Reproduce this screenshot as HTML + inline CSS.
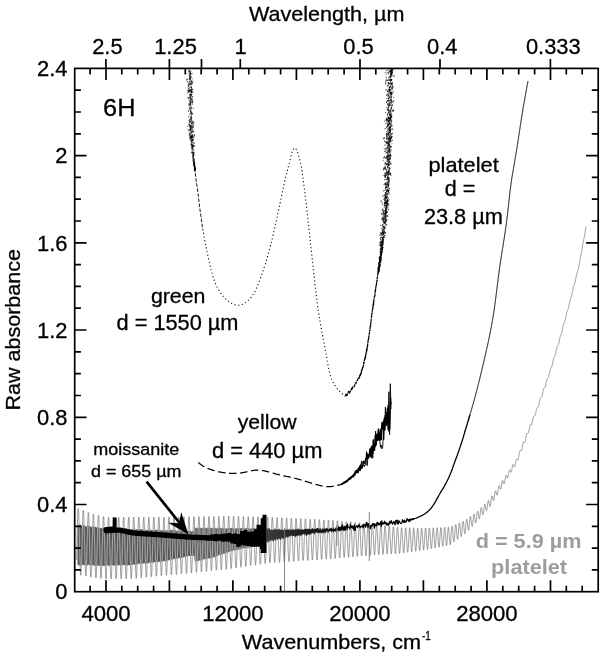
<!DOCTYPE html>
<html lang="en"><head><meta charset="utf-8"><title>6H SiC absorbance</title>
<style>html,body{margin:0;padding:0;background:#fff}svg{display:block}</style></head>
<body>
<svg width="600" height="654" viewBox="0 0 600 654">
<rect width="600" height="654" fill="#fff"/>
<g fill="none" stroke-linejoin="round" stroke-linecap="butt">
<defs><linearGradient id="bg" gradientUnits="userSpaceOnUse" x1="79" y1="0" x2="345" y2="0">
<stop offset="0.0000" stop-color="#6e6e6e"/>
<stop offset="0.4173" stop-color="#6a6a6a"/>
<stop offset="0.4398" stop-color="#7c7c7c"/>
<stop offset="0.6617" stop-color="#747474"/>
<stop offset="0.7105" stop-color="#3c3c3c"/>
<stop offset="0.8308" stop-color="#1e1e1e"/>
<stop offset="1.0000" stop-color="#0c0c0c"/>
</linearGradient></defs>
<path d="M77.5 524.8L78 525.3L78.5 525.2L79 524.4L79.5 524.6L80 525.6L80.5 524.3L81 525.6L81.5 525.7L82 525.2L82.5 525L83 525.1L83.5 525.1L84 525.5L84.5 525.7L85 525.8L85.5 526.6L86 526.4L86.5 526.2L87 526.8L87.5 525.7L88 525.6L88.5 526.4L89 525.6L89.5 525.7L90 526.5L90.5 526.5L91 527.3L91.5 526.9L92 526.8L92.5 526.9L93 526.5L93.5 526.2L94 526.6L94.5 527.5L95 526.8L95.5 527.1L96 526.6L96.5 528L97 527L97.5 527.3L98 528.3L98.5 527.8L99 528.4L99.5 528.1L100 528.4L100.5 527.4L101 528.1L101.5 528.1L102 528.7L102.5 527.9L103 528.3L103.5 527.4L104 528L104.5 527.9L105 527.6L105.5 528.7L106 528L106.5 529L107 528.4L107.5 528.5L108 528.5L108.5 528.6L109 527.8L109.5 528.3L110 528L110.5 528.3L111 527.8L111.5 529.2L112 528L112.5 528.8L113 528.2L113.5 529.1L114 528.8L114.5 528L115 529.2L115.5 529.3L116 529.3L116.5 528.8L117 528.1L117.5 528.2L118 529.4L118.5 528.8L119 528.2L119.5 529.4L120 529L120.5 528.9L121 528.6L121.5 528.7L122 528.5L122.5 528.2L123 529.5L123.5 528.9L124 529L124.5 528.7L125 529.4L125.5 528.3L126 528.8L126.5 528.3L127 528.5L127.5 529.8L128 529.4L128.5 529L129 529.2L129.5 529.8L130 529L130.5 529.4L131 529.5L131.5 529L132 529.3L132.5 529.7L133 530L133.5 528.8L134 530.1L134.5 528.6L135 529.8L135.5 529.9L136 528.9L136.5 529.3L137 530L137.5 528.7L138 529.7L138.5 530L139 529.6L139.5 529.9L140 529.2L140.5 529.1L141 529.4L141.5 529.1L142 529.4L142.5 530.4L143 529.8L143.5 529.5L144 529.4L144.5 530.5L145 529.7L145.5 530.6L146 529.9L146.5 529.9L147 530.5L147.5 530.3L148 530L148.5 529.8L149 530.6L149.5 529.8L150 530.7L150.5 529.3L151 529.9L151.5 530.1L152 530.8L152.5 529.7L153 530.6L153.5 530.4L154 530.4L154.5 530.3L155 530.9L155.5 529.9L156 530L156.5 529.7L157 529.5L157.5 529.7L158 530.9L158.5 530.8L159 529.6L159.5 530.4L160 530.2L160.5 530.4L161 530.5L161.5 530L162 531L162.5 530.3L163 530.5L163.5 530.6L164 529.8L164.5 529.7L165 530.2L165.5 530.8L166 530.9L166.5 530.8L167 529.8L167.5 531.1L168 530.9L168.5 531.1L169 530.5L169.5 531.2L170 529.8L170.5 529.8L171 529.8L171.5 530.1L172 530.1L172.5 530.1L173 530.7L173.5 529.8L174 530.7L174.5 530.1L175 530.9L175.5 529.9L176 530.3L176.5 531.4L177 530.7L177.5 531.2L178 531L178.5 530.9L179 530.2L179.5 530.9L180 530L180.5 531.2L181 531.5L181.5 531.4L182 530.1L182.5 530.6L183 530.5L183.5 530.2L184 531.1L184.5 531.3L185 530.6L185.5 531.5L186 531.4L186.5 530.3L187 531.4L187.5 531.5L188 530.5L188.5 531.1L189 531.2L189.5 531.2L190 530.4L190.5 531.3L191 531.2L191.5 531.5L192 531.5L192.5 530.7L193 531.4L193.5 531.6L194 531.6L194.5 529L195 527.2L195.5 528.2L196 527.6L196.5 528.1L197 528.7L197.5 527.8L198 527.6L198.5 528L199 528.3L199.5 527.4L200 527.9L200.5 527.5L201 528.3L201.5 528.6L202 527.9L202.5 527.9L203 528.1L203.5 527.6L204 527.7L204.5 527.8L205 528L205.5 527.4L206 528.5L206.5 528.2L207 527.8L207.5 527.4L208 528.5L208.5 527.5L209 527.5L209.5 527.5L210 527.5L210.5 528.8L211 527.8L211.5 527.8L212 528.7L212.5 528.3L213 527.7L213.5 528.1L214 528.8L214.5 528L215 528.5L215.5 527.5L216 528.5L216.5 528.6L217 528.7L217.5 528.5L218 528L218.5 527.5L219 528.2L219.5 528.6L220 527.7L220.5 527.8L221 528.3L221.5 528.6L222 528.9L222.5 527.6L223 527.7L223.5 528.7L224 528.5L224.5 528.6L225 529.1L225.5 529L226 528.8L226.5 528.7L227 528.1L227.5 528.5L228 527.8L228.5 528.7L229 528.7L229.5 528.6L230 528.2L230.5 528.1L231 528.2L231.5 527.6L232 528.9L232.5 528.4L233 528.1L233.5 528.4L234 528.7L234.5 528.1L235 528.9L235.5 529L236 528.2L236.5 527.8L237 528.8L237.5 529.1L238 527.8L238.5 528.7L239 528.9L239.5 529L240 527.8L240.5 527.7L241 529.2L241.5 527.8L242 527.9L242.5 528.5L243 528.3L243.5 528.8L244 527.9L244.5 529.1L245 527.9L245.5 528.8L246 527.7L246.5 528.4L247 527.7L247.5 528.1L248 528.1L248.5 528.8L249 528.4L249.5 527.7L250 529.2L250.5 529.1L251 529.1L251.5 528L252 528.3L252.5 528L253 527.9L253.5 527.7L254 528.5L254.5 527.9L255 527.9L255.5 529L256 528.4L256.5 528L257 528.8L257.5 528.1L258 528.5L258.5 528.1L259 528.5L259.5 528.7L260 528.6L260.5 528.4L261 529L261.5 529.2L262 528.1L262.5 528L263 528L263.5 529.4L264 529.4L264.5 528.3L265 529.5L265.5 528.3L266 528.8L266.5 528.8L266.5 541.7L266 542.3L265.5 543L265 543.2L264.5 543.1L264 542.4L263.5 542.5L263 543.9L262.5 542.7L262 543.7L261.5 544L261 544.5L260.5 544.8L260 544.4L259.5 544.1L259 544L258.5 544.9L258 545L257.5 545.4L257 545.7L256.5 544.7L256 545.3L255.5 545.5L255 546.5L254.5 545.5L254 545.6L253.5 546.6L253 545.9L252.5 545.9L252 546.4L251.5 546.3L251 546.9L250.5 546.7L250 547.7L249.5 548.2L249 548.4L248.5 547.3L248 547L247.5 548.3L247 547.5L246.5 548L246 548.8L245.5 547.5L245 547.6L244.5 548.1L244 548L243.5 547.9L243 548.7L242.5 548L242 548L241.5 548.6L241 548.7L240.5 549.4L240 549.3L239.5 549.3L239 548.6L238.5 550.1L238 550.3L237.5 549.8L237 549.3L236.5 550.5L236 549.4L235.5 549.5L235 549.5L234.5 550.9L234 549.7L233.5 550.8L233 550.1L232.5 551L232 551.2L231.5 550.9L231 550.9L230.5 551.6L230 551.5L229.5 551.1L229 552.2L228.5 551.9L228 552.8L227.5 552.8L227 552.1L226.5 552.3L226 553.2L225.5 552.9L225 553.1L224.5 553.9L224 553.4L223.5 553.5L223 553.6L222.5 553.8L222 554.8L221.5 554.8L221 554.8L220.5 555.3L220 554.3L219.5 554.6L219 555.3L218.5 555.3L218 555.6L217.5 555.8L217 556.4L216.5 556L216 556.2L215.5 557.2L215 556.5L214.5 557.5L214 557.7L213.5 557L213 556.8L212.5 558.1L212 558.1L211.5 558L211 557.5L210.5 558.3L210 557.4L209.5 558.8L209 558.5L208.5 558.7L208 558.5L207.5 558.5L207 558.8L206.5 558.1L206 559.1L205.5 559.7L205 558.4L204.5 560L204 559.1L203.5 558.9L203 559L202.5 560.4L202 559.3L201.5 560.3L201 560.9L200.5 559.7L200 560.3L199.5 560.8L199 560.1L198.5 561.4L198 561L197.5 560.9L197 560.5L196.5 560.8L196 561.7L195.5 561.2L195 562.3L194.5 559.2L194 555.4L193.5 556L193 555.5L192.5 555.3L192 556.2L191.5 555.6L191 555.1L190.5 555.6L190 556.1L189.5 555.9L189 556.1L188.5 555.7L188 555.9L187.5 555.8L187 556.3L186.5 556.1L186 556.3L185.5 556.9L185 557.3L184.5 557L184 556.7L183.5 557.9L183 556.6L182.5 558L182 557.3L181.5 558.2L181 557.2L180.5 558.3L180 558.8L179.5 557.9L179 557.6L178.5 558.2L178 558.8L177.5 558.5L177 558.6L176.5 558.2L176 558.1L175.5 559.6L175 559L174.5 558.6L174 558.9L173.5 558.6L173 560.1L172.5 560.1L172 559.1L171.5 559.3L171 559.2L170.5 560.6L170 560.5L169.5 559.5L169 560.3L168.5 560.6L168 560.5L167.5 560.3L167 560.2L166.5 560.5L166 561.2L165.5 561L165 560.4L164.5 561.6L164 561.3L163.5 560.6L163 561.2L162.5 561.4L162 560.9L161.5 561.5L161 561.9L160.5 561.7L160 562L159.5 561.7L159 561.4L158.5 562L158 561.9L157.5 562.6L157 562L156.5 561.3L156 561.5L155.5 561.9L155 561.4L154.5 561.9L154 563L153.5 562.2L153 562.3L152.5 562.9L152 562.1L151.5 561.9L151 563L150.5 562.4L150 562.7L149.5 562L149 563.4L148.5 563.5L148 563.1L147.5 562.3L147 563.5L146.5 563.1L146 563.8L145.5 562.6L145 562.6L144.5 563.4L144 563.5L143.5 563.1L143 564.2L142.5 564L142 563.2L141.5 563.6L141 563L140.5 563.3L140 563.5L139.5 563.5L139 563.3L138.5 563.7L138 563.7L137.5 564.1L137 564.8L136.5 564.2L136 564L135.5 564.7L135 564L134.5 564.8L134 565.3L133.5 563.8L133 564.5L132.5 565L132 565.1L131.5 564.6L131 565.3L130.5 565.2L130 565.4L129.5 564.7L129 565.6L128.5 565L128 565.2L127.5 564.7L127 565.2L126.5 565.5L126 564.7L125.5 564.4L125 565.6L124.5 565.2L124 564.4L123.5 565.1L123 564.5L122.5 565.6L122 564.5L121.5 565.5L121 564.8L120.5 565.9L120 564.8L119.5 564.7L119 565.5L118.5 565.7L118 564.6L117.5 564.8L117 565.7L116.5 564.4L116 565.1L115.5 565.8L115 565.5L114.5 565.9L114 564.9L113.5 566L113 565.2L112.5 565L112 564.8L111.5 564.7L111 564.6L110.5 565.1L110 565.7L109.5 565.9L109 565.2L108.5 565.7L108 565.7L107.5 564.6L107 565.4L106.5 565.1L106 565.6L105.5 566.1L105 565.5L104.5 565.7L104 565.7L103.5 565.6L103 566.2L102.5 566.1L102 566L101.5 564.7L101 565.2L100.5 564.9L100 566.1L99.5 566.2L99 565L98.5 565.9L98 565.6L97.5 565.7L97 564.7L96.5 565.7L96 566L95.5 566.1L95 564.8L94.5 565.9L94 565.2L93.5 565.2L93 565.5L92.5 564.8L92 565.8L91.5 564.9L91 564.8L90.5 565.2L90 564.5L89.5 565.2L89 564.7L88.5 564.7L88 564.5L87.5 566L87 564.9L86.5 564.7L86 564.6L85.5 564.6L85 565.4L84.5 565.1L84 564.6L83.5 565.1L83 565L82.5 564.7L82 564.9L81.5 565.5L81 565.5L80.5 565.3L80 565.3L79.5 565.7L79 565L78.5 565.5L78 564.7L77.5 564.4Z" fill="url(#bg)" stroke="none"/>
<path d="M77.5 524.6L78.1 565L78.8 524.8L79.4 565L80 525L80.6 565.1L81.3 525.2L81.9 565.1L82.5 525.4L83.2 565.1L83.8 525.6L84.4 565.2L85.1 525.7L85.7 565.2L86.3 525.9L86.9 565.2L87.6 526.1L88.2 565.2L88.8 526.3L89.5 565.3L90.1 526.5L90.7 565.3L91.4 526.7L92 565.3L92.6 526.9L93.2 565.4L93.9 527.1L94.5 565.4L95.1 527.3L95.8 565.4L96.4 527.5L97 565.4L97.7 527.6L98.3 565.5L98.9 527.8L99.5 565.5L100.2 528L100.8 565.5L101.4 528.1L102.1 565.5L102.7 528.1L103.3 565.4L104 528.2L104.6 565.4L105.2 528.2L105.8 565.4L106.5 528.3L107.1 565.4L107.7 528.3L108.4 565.4L109 528.4L109.6 565.3L110.3 528.4L110.9 565.3L111.5 528.5L112.1 565.3L112.8 528.5L113.4 565.3L114 528.6L114.7 565.3L115.3 528.6L115.9 565.2L116.6 528.7L117.2 565.2L117.8 528.7L118.4 565.2L119.1 528.8L119.7 565.2L120.3 528.8L121 565.2L121.6 528.9L122.2 565.1L122.9 528.9L123.5 565.1L124.1 529L124.7 565.1L125.4 529L126 565.1L126.6 529.1L127.3 565L127.9 529.1L128.5 565L129.2 529.2L129.8 565L130.4 529.2L131 564.9L131.7 529.3L132.3 564.7L132.9 529.3L133.6 564.6L134.2 529.4L134.8 564.4L135.5 529.4L136.1 564.3L136.7 529.5L137.3 564.2L138 529.5L138.6 564L139.2 529.6L139.9 563.9L140.5 529.6L141.1 563.7L141.8 529.7L142.4 563.6L143 529.7L143.6 563.4L144.3 529.8L144.9 563.3L145.5 529.8L146.2 563.2L146.8 529.9L147.4 563L148.1 529.9L148.7 562.9L149.3 530L149.9 562.7L150.6 530L151.2 562.6L151.8 530L152.5 562.4L153.1 530.1L153.7 562.3L154.4 530.1L155 562.1L155.6 530.1L156.2 562L156.9 530.2L157.5 561.9L158.1 530.2L158.8 561.7L159.4 530.2L160 561.6L160.7 530.3L161.3 561.4L161.9 530.3L162.5 561.3L163.2 530.3L163.8 561.1L164.4 530.4L165.1 561L165.7 530.4L166.3 560.7L167 530.4L167.6 560.5L168.2 530.5L168.8 560.2L169.5 530.5L170.1 560L170.7 530.5L171.4 559.7L172 530.5L172.6 559.5L173.3 530.6L173.9 559.2L174.5 530.6L175.1 559L175.8 530.6L176.4 558.7L177 530.7L177.7 558.5L178.3 530.7L178.9 558.2L179.6 530.7L180.2 558L180.8 530.8L181.4 557.7L182.1 530.8L182.7 557.5L183.3 530.8L184 557.2L184.6 530.9L185.2 557L185.9 530.9L186.5 556.7L187.1 530.9L187.7 556.5L188.4 531L189 556.2L189.6 531L190.3 556L190.9 531L191.5 555.8L192.2 531L192.8 555.7L193.4 531L194 555.5L194.7 528L195.3 561.5L195.9 528L196.6 561.2L197.2 528L197.8 560.9L198.5 528L199.1 560.6L199.7 528L200.3 560.3L201 528.1L201.6 560L202.2 528.1L202.9 559.7L203.5 528.1L204.1 559.4L204.8 528.1L205.4 559.1L206 528.1L206.6 558.7L207.3 528.1L207.9 558.4L208.5 528.1L209.2 558.1L209.8 528.1L210.4 557.8L211.1 528.1L211.7 557.5L212.3 528.2L212.9 557.2L213.6 528.2L214.2 556.9L214.8 528.2L215.5 556.5L216.1 528.2L216.7 556.1L217.4 528.2L218 555.7L218.6 528.2L219.2 555.3L219.9 528.2L220.5 554.9L221.1 528.2L221.8 554.4L222.4 528.2L223 554L223.7 528.2L224.3 553.6L224.9 528.3L225.5 553.2L226.2 528.3L226.8 552.7L227.4 528.3L228.1 552.3L228.7 528.3L229.3 551.9L230 528.3L230.6 551.5L231.2 528.3L231.8 551.1L232.5 528.3L233.1 550.6L233.7 528.3L234.4 550.2L235 528.3L235.6 549.9L236.3 528.3L236.9 549.7L237.5 528.4L238.1 549.5L238.8 528.4L239.4 549.3L240 528.4L240.7 549.1L241.3 528.4L241.9 548.8L242.6 528.4L243.2 548.6L243.8 528.4L244.4 548.4L245.1 528.4L245.7 548.2L246.3 528.4L247 548L247.6 528.4L248.2 547.8L248.9 528.4L249.5 547.6L250.1 528.4L250.7 547.3L251.4 528.4L252 546.9L252.6 528.5L253.3 546.4L253.9 528.5L254.5 546L255.2 528.5L255.8 545.6L256.4 528.5L257 545.2L257.7 528.5L258.3 544.8L258.9 528.5L259.6 544.4L260.2 528.5L260.8 544L261.5 528.6L262.1 543.6L262.7 528.6L263.3 543.2L264 528.7L264.6 542.8L265.2 528.8L265.9 542.4" stroke="#000" stroke-opacity="0.35" stroke-width="0.35"/>
<path d="M76.5 559.9L76.8 550.6L77 540.5L77.2 530.4L77.5 521.4L77.8 514.3L78 509.7L78.2 508.2L78.5 509.9L78.8 514.6L79 521.9L79.2 531.1L79.5 541.3L79.8 551.5L80 560.8L80.2 568.3L80.5 573.2L80.8 575.2L81 574.1L81.2 569.9L81.5 563L81.8 554.3L82 544.4L82.2 534.3L82.5 525.1L82.8 517.5L83 512.4L83.2 510.2L83.5 511.2L83.8 515.2L84 521.9L84.2 530.6L84.5 540.5L84.8 550.6L85 560.1L85.2 568L85.5 573.5L85.8 576.1L86 575.7L86.2 572.2L86.5 566L86.8 557.7L87 548.1L87.2 538.1L87.5 528.7L87.8 520.8L88 515.2L88.2 512.4L88.5 512.7L88.8 516L89 522L89.2 530.2L89.5 539.8L89.8 549.9L90 559.5L90.2 567.6L90.5 573.6L90.8 576.9L91 577.1L91.2 574.2L91.5 568.6L91.8 560.7L92 551.4L92.2 541.5L92.5 532L92.8 523.9L93 517.8L93.2 514.3L93.5 513.9L93.8 516.6L94 522L94.2 529.7L94.5 538.9L94.8 548.8L95 558.5L95.2 566.9L95.5 573.3L95.8 577L96 577.9L96.2 575.6L96.5 570.6L96.8 563.2L97 554.3L97.2 544.6L97.5 535L97.8 526.6L98 520.1L98.2 516.2L98.5 515.2L98.8 517.2L99 522L99.2 529.3L99.5 538.2L99.8 547.9L100 557.5L100.2 566.1L100.5 572.9L100.8 577.1L101 578.5L101.2 576.9L101.5 572.5L101.8 565.6L102 557L102.2 547.4L102.5 537.9L102.8 529.4L103 522.5L103.2 518.1L103.5 516.6L103.8 518L104 522.3L104.2 529L104.5 537.5L104.8 547.1L105 556.6L105.2 565.3L105.5 572.4L105.8 577.1L106 579L106.2 577.9L106.5 573.9L106.8 567.5L107 559.2L107.2 549.8L107.5 540.2L107.8 531.4L108 524.2L108.2 519.2L108.5 517.1L108.8 517.9L109 521.6L109.2 527.9L109.5 536.1L109.8 545.4L110 555L110.2 563.9L110.5 571.3L110.8 576.4L111 578.9L111.2 578.3L111.5 574.8L111.8 568.8L112 560.7L112.2 551.4L112.5 541.8L112.8 532.8L113 525.3L113.2 519.9L113.5 517.2L113.8 517.5L114 520.8L114.2 526.6L114.5 534.6L114.8 543.8L115 553.4L115.2 562.5L115.5 570.2L115.8 575.8L116 578.7L116.2 578.6L116.5 575.6L116.8 569.9L117 562.1L117.2 553L117.5 543.4L117.8 534.2L118 526.3L118.2 520.6L118.5 517.5L118.8 517.3L119 520.1L119.2 525.6L119.5 533.2L119.8 542.3L120 551.9L120.2 561.1L120.5 569.1L120.8 575.1L121 578.4L121.2 578.8L121.5 576.2L121.8 570.9L122 563.4L122.2 554.4L122.5 544.8L122.8 535.5L123 527.4L123.2 521.3L123.5 517.8L123.8 517.1L124 519.5L124.2 524.6L124.5 531.9L124.8 540.9L125 550.5L125.2 559.8L125.5 568L125.8 574.3L126 578.1L126.2 578.9L126.5 576.8L126.8 571.9L127 564.6L127.2 555.8L127.5 546.2L127.8 536.8L128 528.5L128.2 522L128.5 518.1L128.8 517L129 519L129.2 523.7L129.5 530.8L129.8 539.6L130 549.1L130.2 558.6L130.5 567L130.8 573.5L131 577.6L131.2 578.9L131.5 577.1L131.8 572.5L132 565.6L132.2 556.9L132.5 547.4L132.8 537.9L133 529.4L133.2 522.7L133.5 518.4L133.8 517L134 518.5L134.2 522.9L134.5 529.7L134.8 538.2L135 547.6L135.2 557.1L135.5 565.6L135.8 572.4L136 576.8L136.2 578.4L136.5 577L136.8 572.8L137 566.2L137.2 557.7L137.5 548.3L137.8 538.9L138 530.3L138.2 523.3L138.5 518.8L138.8 517L139 518.1L139.2 522.2L139.5 528.6L139.8 536.9L140 546.2L140.2 555.7L140.5 564.3L140.8 571.3L141 576L141.2 577.9L141.5 576.9L141.8 573L142 566.6L142.2 558.4L142.5 549.2L142.8 539.7L143 531L143.2 523.9L143.5 519.1L143.8 517L144 517.8L144.2 521.5L144.5 527.7L144.8 535.8L145 544.9L145.2 554.3L145.5 563L145.8 570.2L146 575.1L146.2 577.3L146.5 576.6L146.8 573.1L147 567L147.2 559L147.5 549.9L147.8 540.5L148 531.8L148.2 524.5L148.5 519.4L148.8 517.1L149 517.6L149.2 521L149.5 526.9L149.8 534.7L150 543.8L150.2 553.1L150.5 561.9L150.8 569.2L151 574.3L151.2 576.8L151.5 576.4L151.8 573.1L152 567.3L152.2 559.5L152.5 550.5L152.8 541.2L153 532.4L153.2 525L153.5 519.8L153.8 517.1L154 517.4L154.2 520.5L154.5 526.1L154.8 533.8L155 542.7L155.2 552L155.5 560.8L155.8 568.2L156 573.5L156.2 576.2L156.5 576.1L156.8 573L157 567.5L157.2 559.9L157.5 551L157.8 541.8L158 533L158.2 525.5L158.5 520.1L158.8 517.2L159 517.2L159.2 520.1L159.5 525.5L159.8 533L160 541.7L160.2 551L160.5 559.7L160.8 567.2L161 572.7L161.2 575.6L161.5 575.7L161.8 572.9L162 567.6L162.2 560.2L162.5 551.5L162.8 542.2L163 533.4L163.2 525.9L163.5 520.3L163.8 517.3L164 517.1L164.2 519.7L164.5 524.9L164.8 532.2L165 540.9L165.2 550L165.5 558.8L165.8 566.4L166 572L166.2 575L166.5 575.3L166.8 572.7L167 567.6L167.2 560.4L167.5 551.8L167.8 542.6L168 533.8L168.2 526.2L168.5 520.6L168.8 517.4L169 517L169.2 519.4L169.5 524.5L169.8 531.6L170 540.1L170.2 549.2L170.5 558L170.8 565.6L171 571.2L171.2 574.5L171.5 574.9L171.8 572.5L172 567.5L172.2 560.5L172.5 552L172.8 542.9L173 534.1L173.2 526.5L173.5 520.8L173.8 517.5L174 516.9L174.2 519.2L174.5 524.1L174.8 531L175 539.4L175.2 548.4L175.5 557.2L175.8 564.8L176 570.6L176.2 573.9L176.5 574.5L176.8 572.2L177 567.4L177.2 560.5L177.5 552.1L177.8 543.1L178 534.4L178.2 526.7L178.5 520.9L178.8 517.5L179 516.9L179.2 519L179.5 523.7L179.8 530.6L180 538.9L180.2 547.8L180.5 556.5L180.8 564.1L181 569.9L181.2 573.3L181.5 574L181.8 571.9L182 567.2L182.2 560.4L182.5 552.1L182.8 543.2L183 534.5L183.2 526.8L183.5 521L183.8 517.5L184 516.8L184.2 518.8L184.5 523.4L184.8 530.1L185 538.3L185.2 547.2L185.5 555.8L185.8 563.5L186 569.3L186.2 572.7L186.5 573.5L186.8 571.5L187 566.9L187.2 560.2L187.5 552L187.8 543.2L188 534.5L188.2 526.9L188.5 521L188.8 517.5L189 516.7L189.2 518.6L189.5 523.1L189.8 529.8L190 537.9L190.2 546.7L190.5 555.3L190.8 562.9L191 568.7L191.2 572.2L191.5 573L191.8 571.1L192 566.6L192.2 559.9L192.5 551.8L192.8 543L193 534.4L193.2 526.8L193.5 521L193.8 517.5L194 516.6L194.2 518.5L194.5 522.9L194.8 529.5L195 537.5L195.2 546.2L195.5 554.8L195.8 562.3L196 568.1L196.2 571.6L196.5 572.5L196.8 570.6L197 566.1L197.2 559.6L197.5 551.6L197.8 542.8L198 534.3L198.2 526.7L198.5 520.9L198.8 517.4L199 516.5L199.2 518.4L199.5 522.8L199.8 529.3L200 537.2L200.2 545.9L200.5 554.4L200.8 561.9L201 567.6L201.2 571.1L201.5 571.9L201.8 570.1L202 565.6L202.2 559.1L202.5 551.1L202.8 542.5L203 534L203.2 526.5L203.5 520.7L203.8 517.3L204 516.4L204.2 518.3L204.5 522.8L204.8 529.3L205 537.2L205.2 545.9L205.5 554.3L205.8 561.7L206 567.4L206.2 570.7L206.5 571.4L206.8 569.4L207 564.9L207.2 558.3L207.5 550.3L207.8 541.6L208 533.2L208.2 525.9L208.5 520.3L208.8 517L209 516.4L209.2 518.5L209.5 523.1L209.8 529.8L210 537.8L210.2 546.4L210.5 554.7L210.8 561.9L211 567.3L211.2 570.4L211.5 570.8L211.8 568.5L212 563.7L212.2 557L212.5 548.9L212.8 540.3L213 532L213.2 524.9L213.5 519.6L213.8 516.7L214 516.5L214.2 518.9L214.5 523.8L214.8 530.7L215 538.8L215.2 547.4L215.5 555.5L215.8 562.5L216 567.5L216.2 570.1L216.5 570.1L216.8 567.3L217 562.2L217.2 555.2L217.5 547L217.8 538.4L218 530.4L218.2 523.6L218.5 518.7L218.8 516.4L219 516.7L219.2 519.6L219.5 525L219.8 532.1L220 540.3L220.2 548.8L220.5 556.8L220.8 563.3L221 567.8L221.2 569.8L221.5 569.2L221.8 565.9L222 560.3L222.2 552.9L222.5 544.6L222.8 536.1L223 528.3L223.2 522L223.5 517.8L223.8 516.1L224 517.1L224.2 520.7L224.5 526.5L224.8 534L225 542.4L225.2 550.7L225.5 558.3L225.8 564.3L226 568.1L226.2 569.4L226.5 568L226.8 564L227 557.8L227.2 550.2L227.5 541.7L227.8 533.4L228 526L228.2 520.3L228.5 516.9L228.8 516.1L229 517.9L229.2 522.3L229.5 528.7L229.8 536.5L230 544.9L230.2 553L230.5 560.1L230.8 565.4L231 568.3L231.2 568.6L231.5 566.3L231.8 561.5L232 554.8L232.2 546.8L232.5 538.4L232.8 530.4L233 523.7L233.2 518.8L233.5 516.3L233.8 516.5L234 519.3L234.2 524.5L234.5 531.4L234.8 539.4L235 547.7L235.2 555.5L235.5 561.8L235.8 566.2L236 568L236.2 567.3L236.5 563.9L236.8 558.4L237 551.1L237.2 543L237.5 534.8L237.8 527.3L238 521.4L238.2 517.5L238.5 516.2L238.8 517.5L239 521.4L239.2 527.3L239.5 534.7L239.8 542.9L240 550.9L240.2 558L240.5 563.4L240.8 566.6L241 567.3L241.2 565.3L241.5 560.9L241.8 554.6L242 546.9L242.2 538.8L242.5 530.9L242.8 524.2L243 519.3L243.2 516.7L243.5 516.7L243.8 519.2L244 524.1L244.2 530.8L244.5 538.5L244.8 546.6L245 554.2L245.2 560.4L245.5 564.7L245.8 566.6L246 565.8L246.2 562.6L246.5 557.2L246.8 550.2L247 542.2L247.2 534.2L247.5 527L247.8 521.3L248 517.6L248.2 516.5L248.5 517.9L248.8 521.7L249 527.6L249.2 534.9L249.5 542.8L249.8 550.6L250 557.4L250.2 562.5L250.5 565.4L250.8 565.7L251 563.6L251.2 559.1L251.5 552.7L251.8 545.1L252 537.2L252.2 529.7L252.5 523.3L252.8 518.9L253 516.7L253.2 517.1L253.5 520L253.8 525.1L254 531.8L254.2 539.5L254.5 547.3L254.8 554.5L255 560.2L255.2 563.9L255.5 565.2L255.8 563.9L256 560.3L256.2 554.6L256.5 547.5L256.8 539.7L257 532L257.2 525.3L257.5 520.2L257.8 517.3L258 516.8L258.2 518.9L258.5 523.2L258.8 529.4L259 536.8L259.2 544.5L259.5 551.9L259.8 558L260 562.3L260.2 564.3L260.5 563.8L260.8 560.9L261 555.9L261.2 549.2L261.5 541.6L261.8 533.9L262 527L262.2 521.5L262.5 517.9L262.8 516.8L263 518.2L263.2 521.9L263.5 527.6L263.8 534.6L264 542.2L264.2 549.6L264.5 556L264.8 560.8L265 563.3L265.2 563.5L265.5 561.2L265.8 556.6L266 550.4L266.2 543.1L266.5 535.5L266.8 528.4L267 522.6L267.2 518.6L267.5 517L267.8 517.8L268 521L268.2 526.2L268.5 532.9L268.8 540.3L269 547.7L269.2 554.3L269.5 559.4L269.8 562.3L270 562.9L270.2 561.1L270.5 557L270.8 551.1L271 544.1L271.2 536.6L271.5 529.5L271.8 523.5L272 519.2L272.2 517.2L272.5 517.7L272.8 520.5L273 525.4L273.2 531.8L273.5 539.1L273.8 546.5L274 553.2L274.2 558.5L274.5 561.7L274.8 562.7L275 561.2L275.2 557.4L275.5 551.7L275.8 544.8L276 537.4L276.2 530.3L276.5 524.2L276.8 519.8L277 517.6L277.2 517.8L277.5 520.3L277.8 525L278 531.3L278.2 538.5L278.5 545.8L278.8 552.5L279 557.9L279.2 561.3L279.5 562.4L279.8 561L280 557.4L280.2 552L280.5 545.2L280.8 537.8L281 530.7L281.2 524.6L281.5 520.2L281.8 517.9L282 517.9L282.2 520.4L282.5 524.9L282.8 531.1L283 538.2L283.2 545.5L283.5 552.2L283.8 557.5L284 560.9L284.2 562L284.5 560.8L284.8 557.2L285 551.8L285.2 545.1L285.5 537.8L285.8 530.8L286 524.8L286.2 520.4L286.5 518.1L286.8 518.2L287 520.6L287.2 525.2L287.5 531.3L287.8 538.4L288 545.6L288.2 552.2L288.5 557.4L288.8 560.7L289 561.7L289.2 560.4L289.5 556.8L289.8 551.3L290 544.6L290.2 537.4L290.5 530.5L290.8 524.6L291 520.3L291.2 518.2L291.5 518.5L291.8 521.1L292 525.8L292.2 531.9L292.5 539L292.8 546.1L293 552.5L293.2 557.5L293.5 560.6L293.8 561.4L294 559.8L294.2 556L294.5 550.5L294.8 543.8L295 536.6L295.2 529.8L295.5 524.1L295.8 520.2L296 518.4L296.2 518.9L296.5 521.8L296.8 526.6L297 532.9L297.2 539.9L297.5 546.9L297.8 553.1L298 557.8L298.2 560.6L298.5 561L298.8 559.1L299 555L299.2 549.3L299.5 542.5L299.8 535.4L300 528.8L300.2 523.5L300.5 519.9L300.8 518.5L301 519.5L301.2 522.8L301.5 527.9L301.8 534.3L302 541.3L302.2 548.2L302.5 554L302.8 558.3L303 560.5L303.2 560.4L303.5 558L303.8 553.6L304 547.6L304.2 540.7L304.5 533.7L304.8 527.4L305 522.5L305.2 519.5L305.5 518.8L305.8 520.5L306 524.2L306.2 529.8L306.5 536.4L306.8 543.4L307 550L307.2 555.4L307.5 559L307.8 560.5L308 559.6L308.2 556.4L308.5 551.4L308.8 545L309 538.1L309.2 531.3L309.5 525.5L309.8 521.3L310 519.2L310.2 519.4L310.5 521.9L310.8 526.4L311 532.5L311.2 539.3L311.5 546.2L311.8 552.3L312 556.9L312.2 559.6L312.5 560L312.8 558.1L313 554.1L313.2 548.4L313.5 541.7L313.8 534.8L314 528.5L314.2 523.4L314.5 520.2L314.8 519.2L315 520.6L315.2 524.2L315.5 529.5L315.8 536L316 542.9L316.2 549.4L316.5 554.8L316.8 558.4L317 559.8L317.2 558.9L317.5 555.8L317.8 550.8L318 544.5L318.2 537.7L318.5 531L318.8 525.4L319 521.4L319.2 519.6L319.5 520L319.8 522.8L320 527.5L320.2 533.6L320.5 540.4L320.8 547.1L321 552.9L321.2 557.1L321.5 559.3L321.8 559.2L322 556.8L322.2 552.4L322.5 546.4L322.8 539.7L323 533L323.2 527L323.5 522.6L323.8 520.1L324 519.9L324.2 522L324.5 526.2L324.8 532L325 538.6L325.2 545.4L325.5 551.4L325.8 556L326 558.7L326.2 559.1L326.5 557.2L326.8 553.2L327 547.6L327.2 541L327.5 534.3L327.8 528.2L328 523.4L328.2 520.6L328.5 520L328.8 521.7L329 525.6L329.2 531.1L329.5 537.6L329.8 544.4L330 550.5L330.2 555.3L330.5 558.2L330.8 558.9L331 557.2L331.2 553.5L331.5 548L331.8 541.6L332 534.9L332.2 528.8L332.5 523.9L332.8 521L333 520.3L333.2 521.9L333.5 525.6L333.8 531L334 537.4L334.2 544.1L334.5 550.1L334.8 554.9L335 557.8L335.2 558.5L335.5 556.9L335.8 553.1L336 547.8L336.2 541.4L336.5 534.8L336.8 528.8L337 524.1L337.2 521.3L337.5 520.7L337.8 522.4L338 526.2L338.2 531.6L338.5 538L338.8 544.5L339 550.4L339.2 554.9L339.5 557.6L339.8 558L340 556.2L340.2 552.3L340.5 546.9L340.8 540.5L341 534.1L341.2 528.3L341.5 523.9L341.8 521.5L342 521.2L342.2 523.3L342.5 527.3L342.8 532.8L343 539.2L343.2 545.5L343.5 551.1L343.8 555.3L344 557.5L344.2 557.4L344.5 555.2L344.8 551L345 545.3L345.2 539L345.5 532.7L345.8 527.3L346 523.5L346.2 521.6L346.5 521.9L346.8 524.5L347 528.9L347.2 534.7L347.5 541L347.8 547.1L348 552.3L348.2 555.8L348.5 557.3L348.8 556.6L349 553.7L349.2 549L349.5 543.2L349.8 536.9L350 530.9L350.2 526L350.5 522.9L350.8 521.8L351 523L351.2 526.3L351.5 531.2L351.8 537.2L352 543.4L352.2 549.2L352.5 553.6L352.8 556.3L353 556.9L353.2 555.2L353.5 551.6L353.8 546.4L354 540.3L354.2 534.2L354.5 528.7L354.8 524.7L355 522.5L355.2 522.5L355.5 524.7L355.8 528.8L356 534.2L356.2 540.3L356.5 546.3L356.8 551.4L357 554.9L357.2 556.5L357.5 555.9L357.8 553.2L358 548.7L358.2 543L358.5 536.9L358.8 531.2L359 526.5L359.2 523.5L359.5 522.6L359.8 523.9L360 527.2L360.2 532.1L360.5 537.9L360.8 543.9L361 549.3L361.2 553.5L361.5 555.8L361.8 556L362 554L362.2 550.2L362.5 545L362.8 539L363 533.2L363.2 528.2L363.5 524.6L363.8 523.1L364 523.6L364.2 526.3L364.5 530.7L364.8 536.2L365 542.1L365.2 547.7L365.5 552.2L365.8 555L366 555.8L366.2 554.4L366.5 551.1L366.8 546.2L367 540.5L367.2 534.6L367.5 529.4L367.8 525.6L368 523.6L368.2 523.7L368.5 525.9L368.8 529.9L369 535.2L369.2 541L369.5 546.6L369.8 551.2L370 554.3L370.2 555.4L370.5 554.4L370.8 551.4L371 546.8L371.2 541.2L371.5 535.5L371.8 530.3L372 526.3L372.2 524.1L372.5 524L372.8 525.9L373 529.7L373.2 534.8L373.5 540.5L373.8 546L374 550.7L374.2 553.8L374.5 555L374.8 554.1L375 551.3L375.2 546.8L375.5 541.4L375.8 535.8L376 530.6L376.2 526.7L376.5 524.6L376.8 524.4L377 526.4L377.2 530.1L377.5 535.1L377.8 540.7L378 546.1L378.2 550.6L378.5 553.7L378.8 554.8L379 553.8L379.2 550.9L379.5 546.5L379.8 541.2L380 535.7L380.2 530.7L380.5 527L380.8 525L381 525.1L381.2 527.2L381.5 531L381.8 536L382 541.5L382.2 546.7L382.5 551L382.8 553.7L383 554.5L383.2 553.3L383.5 550.2L383.8 545.7L384 540.4L384.2 535L384.5 530.4L384.8 527L385 525.5L385.2 525.9L385.5 528.3L385.8 532.3L386 537.4L386.2 542.8L386.5 547.7L386.8 551.6L387 553.8L387.2 554.1L387.5 552.5L387.8 549L388 544.4L388.2 539.1L388.5 534L388.8 529.7L389 526.9L389.2 526L389.5 527L389.8 529.9L390 534.2L390.2 539.3L390.5 544.5L390.8 549.1L391 552.4L391.2 553.9L391.5 553.5L391.8 551.3L392 547.4L392.2 542.6L392.5 537.4L392.8 532.6L393 529L393.2 526.9L393.5 526.7L393.8 528.5L394 531.9L394.2 536.5L394.5 541.6L394.8 546.5L395 550.5L395.2 553.1L395.5 553.8L395.8 552.5L396 549.6L396.2 545.3L396.5 540.3L396.8 535.4L397 531.2L397.2 528.3L397.5 527.2L397.8 527.9L398 530.5L398.2 534.5L398.5 539.3L398.8 544.3L399 548.7L399.2 551.9L399.5 553.4L399.8 553.1L400 550.9L400.2 547.2L400.5 542.6L400.8 537.6L401 533.1L401.2 529.6L401.5 527.8L401.8 527.8L402 529.6L402.2 533L402.5 537.5L402.8 542.3L403 546.9L403.2 550.5L403.5 552.6L403.8 552.9L404 551.3L404.2 548.1L404.5 543.8L404.8 538.9L405 534.3L405.2 530.5L405.5 528.2L405.8 527.7L406 529L406.2 531.9L406.5 536.1L406.8 540.9L407 545.5L407.2 549.3L407.5 551.7L407.8 552.4L408 551.2L408.2 548.4L408.5 544.3L408.8 539.6L409 534.9L409.2 531L409.5 528.5L409.8 527.7L410 528.7L410.2 531.5L410.5 535.4L410.8 540.1L411 544.7L411.2 548.5L411.5 551L411.8 551.9L412 550.8L412.2 548.1L412.5 544.2L412.8 539.6L413 535L413.2 531.1L413.5 528.6L413.8 527.8L414 528.8L414.2 531.4L414.5 535.3L414.8 539.9L415 544.4L415.2 548.1L415.5 550.6L415.8 551.3L416 550.2L416.2 547.5L416.5 543.5L416.8 539L417 534.5L417.2 530.8L417.5 528.5L417.8 527.9L418 529L418.2 531.8L418.5 535.8L418.8 540.3L419 544.6L419.2 548.1L419.5 550.3L419.8 550.7L420 549.3L420.2 546.4L420.5 542.3L420.8 537.8L421 533.6L421.2 530.2L421.5 528.3L421.8 528.1L422 529.6L422.2 532.7L422.5 536.7L422.8 541.2L423 545.3L423.2 548.4L423.5 550L423.8 549.9L424 548.1L424.2 544.8L424.5 540.6L424.8 536.2L425 532.2L425.2 529.4L425.5 528L425.8 528.5L426 530.5L426.2 534L426.5 538.2L426.8 542.5L427 546.1L427.2 548.6L427.5 549.5L427.8 548.6L428 546.2L428.2 542.5L428.5 538.2L428.8 534L429 530.5L429.2 528.4L429.5 527.9L429.8 529.1L430 531.9L430.2 535.7L430.5 539.9L430.8 543.9L431 546.9L431.2 548.5L431.5 548.5L431.8 546.7L432 543.6L432.2 539.5L432.5 535.3L432.8 531.5L433 528.8L433.2 527.7L433.5 528.3L433.8 530.4L434 533.8L434.2 537.9L434.5 542L434.8 545.3L435 547.4L435.2 547.9L435.5 546.7L435.8 544L436 540.3L436.2 536.1L436.5 532.2L436.8 529.2L437 527.7L437.2 527.8L437.5 529.5L437.8 532.6L438 536.5L438.2 540.5L438.5 544L438.8 546.4L439 547.2L439.2 546.4L439.5 544L439.8 540.5L440 536.4L440.2 532.5L440.5 529.4L440.8 527.7L441 527.5L441.2 529L441.5 531.8L441.8 535.6L442 539.5L442.2 543L442.5 545.5L442.8 546.4L443 545.7L443.2 543.5L443.5 540.2L443.8 536.2L444 532.4L444.2 529.3L444.5 527.5L444.8 527.3L445 528.8L445.2 531.5L445.5 535.2L445.8 539L446 542.4L446.2 544.8L446.5 545.7L446.8 545L447 542.7L447.2 539.4L447.5 535.5L447.8 531.8L448 528.9L448.2 527.3L448.5 527.2L448.8 528.8L449 531.6L449.2 535.2L449.5 539L449.8 542.2L450 544.3L450.2 544.8L450.5 543.7L450.8 541.2L451 537.7L451.2 533.8L451.5 530.3L451.8 527.5L452 526.2L452.2 526.3L452.5 528L452.8 530.8L453 534.2L453.2 537.5L453.5 540.3L453.8 541.8L454 541.9L454.2 540.6L454.5 537.9L454.8 534.5L455 530.8L455.2 527.6L455.5 525.3L455.8 524.4L456 524.9L456.2 526.8L456.5 529.6L456.8 532.9L457 535.9L457.2 538.2L457.5 539.3L457.8 538.9L458 537.3L458.2 534.5L458.5 531.2L458.8 527.8L459 525L459.2 523.2L459.5 522.8L459.8 523.7L460 525.7L460.2 528.6L460.5 531.6L460.8 534.2L461 536L461.2 536.6L461.5 535.8L461.8 533.8L462 531L462.2 527.8L462.5 524.8L462.8 522.5L463 521.2L463.2 521.3L463.5 522.6L463.8 524.8L464 527.5L464.2 530.2L464.5 532.4L464.8 533.7L465 533.7L465.2 532.4L465.5 530.2L465.8 527.3L466 524.2L466.2 521.6L466.5 519.7L466.8 519L467 519.5L467.2 521L467.5 523.2L467.8 525.8L468 528L468.2 529.6L468.5 530.2L468.8 529.6L469 528L469.2 525.6L469.5 522.8L469.8 520.1L470 517.9L470.2 516.7L470.5 516.5L470.8 517.4L471 519.2L471.2 521.4L471.5 523.6L471.8 525.4L472 526.4L472.2 526.4L472.5 525.4L472.8 523.5L473 521L473.2 518.4L473.5 516.1L473.8 514.5L474 513.9L474.2 514.3L474.5 515.5L474.8 517.4L475 519.4L475.2 521.3L475.5 522.5L475.8 522.9L476 522.4L476.2 520.9L476.5 518.8L476.8 516.4L477 514.1L477.2 512.3L477.5 511.3L477.8 511.1L478 511.9L478.2 513.3L478.5 515.1L478.8 516.9L479 518.3L479.2 518.9L479.5 518.7L479.8 517.6L480 515.7L480.2 513.5L480.5 511.2L480.8 509.2L481 507.9L481.2 507.5L481.5 507.9L481.8 509L482 510.7L482.2 512.4L482.5 513.8L482.8 514.7L483 514.7L483.2 514L483.5 512.4L483.8 510.4L484 508.1L484.2 506.1L484.5 504.7L484.8 504L485 504.1L485.2 505L485.5 506.4L485.8 508L486 509.5L486.2 510.4L486.5 510.7L486.8 510.2L487 508.9L487.2 507L487.5 504.9L487.8 502.9L488 501.4L488.2 500.5L488.5 500.4L488.8 501L489 502.2L489.2 503.7L489.5 505.2L489.8 506.2L490 506.6L490.2 506.2L490.5 505L490.8 503.2L491 501.1L491.2 499.1L491.5 497.4L491.8 496.2L492 495.9L492.2 496.2L492.5 497.1L492.8 498.4L493 499.6L493.2 500.5L493.5 500.9L493.8 500.6L494 499.6L494.2 497.9L494.5 496L494.8 494L495 492.4L495.2 491.2L495.5 490.7L495.8 490.9L496 491.7L496.2 492.8L496.5 493.9L496.8 494.8L497 495.2L497.2 495L497.5 494.1L497.8 492.6L498 490.8L498.2 488.9L498.5 487.3L498.8 486.1L499 485.6L499.2 485.7L499.5 486.3L499.8 487.3L500 488.3L500.2 489.1L500.5 489.5L500.8 489.3L501 488.5L501.2 487.1L501.5 485.5L501.8 483.7L502 482.1L502.2 481L502.5 480.4L502.8 480.5L503 481L503.2 481.9L503.5 482.8L503.8 483.5L504 483.9L504.2 483.6L504.5 482.9L504.8 481.6L505 480L505.2 478.3L505.5 476.8L505.8 475.7L506 475.1L506.2 475.1L506.5 475.6L506.8 476.4L507 477.2L507.2 477.9L507.5 478.1L507.8 477.9L508 477.1L508.2 475.9L508.5 474.4L508.8 472.8L509 471.4L509.2 470.3L509.5 469.8L509.8 469.8L510 470.2L510.2 470.9L510.5 471.7L510.8 472.2L511 472.4L511.2 472.1L511.5 471.3L511.8 470.1L512 468.7L512.2 467.2L512.5 465.9L512.8 464.9L513 464.5L513.2 464.5L513.5 464.9L513.8 465.5L514 466.2L514.2 466.6L514.5 466.7L514.8 466.4L515 465.6L515.2 464.4L515.5 463L515.8 461.6L516 460.4L516.2 459.6L516.5 459.2L516.8 459.1L517 459.3L517.2 459.6L517.5 459.9L517.8 460.1L518 459.8L518.2 459.1L518.5 458.1L518.8 456.6L519 455.1L519.2 453.5L519.5 452.2L519.8 451.2L520 450.7L520.2 450.5L520.5 450.7L520.8 451L521 451.2L521.2 451.2L521.5 450.8L521.8 450.1L522 448.9L522.2 447.5L522.5 446L522.8 444.5L523 443.3L523.2 442.5L523.5 442L523.8 441.9L524 442L524.2 442.3L524.5 442.4L524.8 442.2L525 441.8L525.2 440.9L525.5 439.7L525.8 438.3L526 436.8L526.2 435.5L526.5 434.4L526.8 433.7L527 433.3L527.2 433.3L527.5 433.4L527.8 433.5L528 433.5L528.2 433.2L528.5 432.6L528.8 431.7L529 430.4L529.2 429L529.5 427.7L529.8 426.5L530 425.5L530.2 424.9L530.5 424.7L530.8 424.6L531 424.7L531.2 424.8L531.5 424.6L531.8 424.2L532 423.5L532.2 422.4L532.5 421.2L532.8 419.8L533 418.6L533.2 417.5L533.5 416.7L533.8 416.2L534 416L534.2 416L534.5 416L534.8 415.9L535 415.7L535.2 415.1L535.5 414.2L535.8 413.1L536 411.9L536.2 410.6L536.5 409.5L536.8 408.6L537 407.8L537.2 407.4L537.5 407.2L537.8 407L538 406.9L538.2 406.6L538.5 406.1L538.8 405.3L539 404.3L539.2 403.1L539.5 401.8L539.8 400.6L540 399.5L540.2 398.6L540.5 398L540.8 397.7L541 397.5L541.2 397.3L541.5 397.1L541.8 396.6L542 396L542.2 395.1L542.5 394L542.8 392.8L543 391.5L543.2 390.4L543.5 389.4L543.8 388.7L544 388.2L544.2 388L544.5 387.8L544.8 387.5L545 387.2L545.2 386.7L545.5 385.9L545.8 384.8L546 383.7L546.2 382.4L546.5 381.3L546.8 380.2L547 379.4L547.2 378.8L547.5 378.5L547.8 378.3L548 378L548.2 377.8L548.5 377.3L548.8 376.6L549 375.6L549.2 374.4L549.5 373.1L549.8 371.8L550 370.6L550.2 369.6L550.5 368.8L550.8 368.3L551 367.9L551.2 367.5L551.5 367.2L551.8 366.6L552 365.9L552.2 364.9L552.5 363.7L552.8 362.5L553 361.1L553.2 359.9L553.5 358.9L553.8 358L554 357.4L554.2 357L554.5 356.6L554.8 356.2L555 355.7L555.2 355L555.5 354.1L555.8 353L556 351.8L556.2 350.5L556.5 349.2L556.8 348.2L557 347.3L557.2 346.6L557.5 346.1L557.8 345.7L558 345.3L558.2 344.8L558.5 344.2L558.8 343.3L559 342.3L559.2 341.1L559.5 339.8L559.8 338.5L560 337.3L560.2 336.3L560.5 335.5L560.8 334.8L561 334.3L561.2 333.8L561.5 333.3L561.8 332.6L562 331.7L562.2 330.6L562.5 329.3L562.8 328L563 326.6L563.2 325.4L563.5 324.4L563.8 323.5L564 322.9L564.2 322.3L564.5 321.8L564.8 321.3L565 320.6L565.2 319.7L565.5 318.6L565.8 317.4L566 316.1L566.2 314.7L566.5 313.5L566.8 312.5L567 311.6L567.2 310.9L567.5 310.4L567.8 309.8L568 309.3L568.2 308.6L568.5 307.7L568.8 306.6L569 305.4L569.2 304.1L569.5 302.8L569.8 301.6L570 300.6L570.2 299.6L570.5 298.9L570.8 298.2L571 297.6L571.2 296.9L571.5 296.2L571.8 295.2L572 294.1L572.2 292.9L572.5 291.5L572.8 290.2L573 288.9L573.2 287.7L573.5 286.8L573.8 286L574 285.3L574.2 284.7L574.5 284L574.8 283.2L575 282.3L575.2 281.2L575.5 279.9L575.8 278.6L576 277.3L576.2 276L576.5 274.9L576.8 273.9L577 273.2L577.2 272.5L577.5 271.8L577.8 271.1L578 270.3L578.2 269.4L578.5 268.3L578.8 267L579 265.7L579.2 264L579.5 262.4L579.8 260.9L580 259.5L580.2 258.4L580.5 257.3L580.8 256.2L581 255.1L581.2 253.9L581.5 252.5L581.8 251L582 249.4L582.2 247.7L582.5 246L582.8 244.4L583 242.9L583.2 241.6L583.5 240.5L583.8 239.4L584 238.3L584.2 237.1L584.5 235.9L584.8 234.5L585 233L585.2 231.3L585.5 229.7L585.8 228L586 226.5" stroke="#6c6c6c" stroke-width="0.66"/>
<clipPath id="bc"><path d="M77.5 524.8L78 525.3L78.5 525.2L79 524.4L79.5 524.6L80 525.6L80.5 524.3L81 525.6L81.5 525.7L82 525.2L82.5 525L83 525.1L83.5 525.1L84 525.5L84.5 525.7L85 525.8L85.5 526.6L86 526.4L86.5 526.2L87 526.8L87.5 525.7L88 525.6L88.5 526.4L89 525.6L89.5 525.7L90 526.5L90.5 526.5L91 527.3L91.5 526.9L92 526.8L92.5 526.9L93 526.5L93.5 526.2L94 526.6L94.5 527.5L95 526.8L95.5 527.1L96 526.6L96.5 528L97 527L97.5 527.3L98 528.3L98.5 527.8L99 528.4L99.5 528.1L100 528.4L100.5 527.4L101 528.1L101.5 528.1L102 528.7L102.5 527.9L103 528.3L103.5 527.4L104 528L104.5 527.9L105 527.6L105.5 528.7L106 528L106.5 529L107 528.4L107.5 528.5L108 528.5L108.5 528.6L109 527.8L109.5 528.3L110 528L110.5 528.3L111 527.8L111.5 529.2L112 528L112.5 528.8L113 528.2L113.5 529.1L114 528.8L114.5 528L115 529.2L115.5 529.3L116 529.3L116.5 528.8L117 528.1L117.5 528.2L118 529.4L118.5 528.8L119 528.2L119.5 529.4L120 529L120.5 528.9L121 528.6L121.5 528.7L122 528.5L122.5 528.2L123 529.5L123.5 528.9L124 529L124.5 528.7L125 529.4L125.5 528.3L126 528.8L126.5 528.3L127 528.5L127.5 529.8L128 529.4L128.5 529L129 529.2L129.5 529.8L130 529L130.5 529.4L131 529.5L131.5 529L132 529.3L132.5 529.7L133 530L133.5 528.8L134 530.1L134.5 528.6L135 529.8L135.5 529.9L136 528.9L136.5 529.3L137 530L137.5 528.7L138 529.7L138.5 530L139 529.6L139.5 529.9L140 529.2L140.5 529.1L141 529.4L141.5 529.1L142 529.4L142.5 530.4L143 529.8L143.5 529.5L144 529.4L144.5 530.5L145 529.7L145.5 530.6L146 529.9L146.5 529.9L147 530.5L147.5 530.3L148 530L148.5 529.8L149 530.6L149.5 529.8L150 530.7L150.5 529.3L151 529.9L151.5 530.1L152 530.8L152.5 529.7L153 530.6L153.5 530.4L154 530.4L154.5 530.3L155 530.9L155.5 529.9L156 530L156.5 529.7L157 529.5L157.5 529.7L158 530.9L158.5 530.8L159 529.6L159.5 530.4L160 530.2L160.5 530.4L161 530.5L161.5 530L162 531L162.5 530.3L163 530.5L163.5 530.6L164 529.8L164.5 529.7L165 530.2L165.5 530.8L166 530.9L166.5 530.8L167 529.8L167.5 531.1L168 530.9L168.5 531.1L169 530.5L169.5 531.2L170 529.8L170.5 529.8L171 529.8L171.5 530.1L172 530.1L172.5 530.1L173 530.7L173.5 529.8L174 530.7L174.5 530.1L175 530.9L175.5 529.9L176 530.3L176.5 531.4L177 530.7L177.5 531.2L178 531L178.5 530.9L179 530.2L179.5 530.9L180 530L180.5 531.2L181 531.5L181.5 531.4L182 530.1L182.5 530.6L183 530.5L183.5 530.2L184 531.1L184.5 531.3L185 530.6L185.5 531.5L186 531.4L186.5 530.3L187 531.4L187.5 531.5L188 530.5L188.5 531.1L189 531.2L189.5 531.2L190 530.4L190.5 531.3L191 531.2L191.5 531.5L192 531.5L192.5 530.7L193 531.4L193.5 531.6L194 531.6L194.5 529L195 527.2L195.5 528.2L196 527.6L196.5 528.1L197 528.7L197.5 527.8L198 527.6L198.5 528L199 528.3L199.5 527.4L200 527.9L200.5 527.5L201 528.3L201.5 528.6L202 527.9L202.5 527.9L203 528.1L203.5 527.6L204 527.7L204.5 527.8L205 528L205.5 527.4L206 528.5L206.5 528.2L207 527.8L207.5 527.4L208 528.5L208.5 527.5L209 527.5L209.5 527.5L210 527.5L210.5 528.8L211 527.8L211.5 527.8L212 528.7L212.5 528.3L213 527.7L213.5 528.1L214 528.8L214.5 528L215 528.5L215.5 527.5L216 528.5L216.5 528.6L217 528.7L217.5 528.5L218 528L218.5 527.5L219 528.2L219.5 528.6L220 527.7L220.5 527.8L221 528.3L221.5 528.6L222 528.9L222.5 527.6L223 527.7L223.5 528.7L224 528.5L224.5 528.6L225 529.1L225.5 529L226 528.8L226.5 528.7L227 528.1L227.5 528.5L228 527.8L228.5 528.7L229 528.7L229.5 528.6L230 528.2L230.5 528.1L231 528.2L231.5 527.6L232 528.9L232.5 528.4L233 528.1L233.5 528.4L234 528.7L234.5 528.1L235 528.9L235.5 529L236 528.2L236.5 527.8L237 528.8L237.5 529.1L238 527.8L238.5 528.7L239 528.9L239.5 529L240 527.8L240.5 527.7L241 529.2L241.5 527.8L242 527.9L242.5 528.5L243 528.3L243.5 528.8L244 527.9L244.5 529.1L245 527.9L245.5 528.8L246 527.7L246.5 528.4L247 527.7L247.5 528.1L248 528.1L248.5 528.8L249 528.4L249.5 527.7L250 529.2L250.5 529.1L251 529.1L251.5 528L252 528.3L252.5 528L253 527.9L253.5 527.7L254 528.5L254.5 527.9L255 527.9L255.5 529L256 528.4L256.5 528L257 528.8L257.5 528.1L258 528.5L258.5 528.1L259 528.5L259.5 528.7L260 528.6L260.5 528.4L261 529L261.5 529.2L262 528.1L262.5 528L263 528L263.5 529.4L264 529.4L264.5 528.3L265 529.5L265.5 528.3L266 528.8L266.5 528.8L266.5 541.7L266 542.3L265.5 543L265 543.2L264.5 543.1L264 542.4L263.5 542.5L263 543.9L262.5 542.7L262 543.7L261.5 544L261 544.5L260.5 544.8L260 544.4L259.5 544.1L259 544L258.5 544.9L258 545L257.5 545.4L257 545.7L256.5 544.7L256 545.3L255.5 545.5L255 546.5L254.5 545.5L254 545.6L253.5 546.6L253 545.9L252.5 545.9L252 546.4L251.5 546.3L251 546.9L250.5 546.7L250 547.7L249.5 548.2L249 548.4L248.5 547.3L248 547L247.5 548.3L247 547.5L246.5 548L246 548.8L245.5 547.5L245 547.6L244.5 548.1L244 548L243.5 547.9L243 548.7L242.5 548L242 548L241.5 548.6L241 548.7L240.5 549.4L240 549.3L239.5 549.3L239 548.6L238.5 550.1L238 550.3L237.5 549.8L237 549.3L236.5 550.5L236 549.4L235.5 549.5L235 549.5L234.5 550.9L234 549.7L233.5 550.8L233 550.1L232.5 551L232 551.2L231.5 550.9L231 550.9L230.5 551.6L230 551.5L229.5 551.1L229 552.2L228.5 551.9L228 552.8L227.5 552.8L227 552.1L226.5 552.3L226 553.2L225.5 552.9L225 553.1L224.5 553.9L224 553.4L223.5 553.5L223 553.6L222.5 553.8L222 554.8L221.5 554.8L221 554.8L220.5 555.3L220 554.3L219.5 554.6L219 555.3L218.5 555.3L218 555.6L217.5 555.8L217 556.4L216.5 556L216 556.2L215.5 557.2L215 556.5L214.5 557.5L214 557.7L213.5 557L213 556.8L212.5 558.1L212 558.1L211.5 558L211 557.5L210.5 558.3L210 557.4L209.5 558.8L209 558.5L208.5 558.7L208 558.5L207.5 558.5L207 558.8L206.5 558.1L206 559.1L205.5 559.7L205 558.4L204.5 560L204 559.1L203.5 558.9L203 559L202.5 560.4L202 559.3L201.5 560.3L201 560.9L200.5 559.7L200 560.3L199.5 560.8L199 560.1L198.5 561.4L198 561L197.5 560.9L197 560.5L196.5 560.8L196 561.7L195.5 561.2L195 562.3L194.5 559.2L194 555.4L193.5 556L193 555.5L192.5 555.3L192 556.2L191.5 555.6L191 555.1L190.5 555.6L190 556.1L189.5 555.9L189 556.1L188.5 555.7L188 555.9L187.5 555.8L187 556.3L186.5 556.1L186 556.3L185.5 556.9L185 557.3L184.5 557L184 556.7L183.5 557.9L183 556.6L182.5 558L182 557.3L181.5 558.2L181 557.2L180.5 558.3L180 558.8L179.5 557.9L179 557.6L178.5 558.2L178 558.8L177.5 558.5L177 558.6L176.5 558.2L176 558.1L175.5 559.6L175 559L174.5 558.6L174 558.9L173.5 558.6L173 560.1L172.5 560.1L172 559.1L171.5 559.3L171 559.2L170.5 560.6L170 560.5L169.5 559.5L169 560.3L168.5 560.6L168 560.5L167.5 560.3L167 560.2L166.5 560.5L166 561.2L165.5 561L165 560.4L164.5 561.6L164 561.3L163.5 560.6L163 561.2L162.5 561.4L162 560.9L161.5 561.5L161 561.9L160.5 561.7L160 562L159.5 561.7L159 561.4L158.5 562L158 561.9L157.5 562.6L157 562L156.5 561.3L156 561.5L155.5 561.9L155 561.4L154.5 561.9L154 563L153.5 562.2L153 562.3L152.5 562.9L152 562.1L151.5 561.9L151 563L150.5 562.4L150 562.7L149.5 562L149 563.4L148.5 563.5L148 563.1L147.5 562.3L147 563.5L146.5 563.1L146 563.8L145.5 562.6L145 562.6L144.5 563.4L144 563.5L143.5 563.1L143 564.2L142.5 564L142 563.2L141.5 563.6L141 563L140.5 563.3L140 563.5L139.5 563.5L139 563.3L138.5 563.7L138 563.7L137.5 564.1L137 564.8L136.5 564.2L136 564L135.5 564.7L135 564L134.5 564.8L134 565.3L133.5 563.8L133 564.5L132.5 565L132 565.1L131.5 564.6L131 565.3L130.5 565.2L130 565.4L129.5 564.7L129 565.6L128.5 565L128 565.2L127.5 564.7L127 565.2L126.5 565.5L126 564.7L125.5 564.4L125 565.6L124.5 565.2L124 564.4L123.5 565.1L123 564.5L122.5 565.6L122 564.5L121.5 565.5L121 564.8L120.5 565.9L120 564.8L119.5 564.7L119 565.5L118.5 565.7L118 564.6L117.5 564.8L117 565.7L116.5 564.4L116 565.1L115.5 565.8L115 565.5L114.5 565.9L114 564.9L113.5 566L113 565.2L112.5 565L112 564.8L111.5 564.7L111 564.6L110.5 565.1L110 565.7L109.5 565.9L109 565.2L108.5 565.7L108 565.7L107.5 564.6L107 565.4L106.5 565.1L106 565.6L105.5 566.1L105 565.5L104.5 565.7L104 565.7L103.5 565.6L103 566.2L102.5 566.1L102 566L101.5 564.7L101 565.2L100.5 564.9L100 566.1L99.5 566.2L99 565L98.5 565.9L98 565.6L97.5 565.7L97 564.7L96.5 565.7L96 566L95.5 566.1L95 564.8L94.5 565.9L94 565.2L93.5 565.2L93 565.5L92.5 564.8L92 565.8L91.5 564.9L91 564.8L90.5 565.2L90 564.5L89.5 565.2L89 564.7L88.5 564.7L88 564.5L87.5 566L87 564.9L86.5 564.7L86 564.6L85.5 564.6L85 565.4L84.5 565.1L84 564.6L83.5 565.1L83 565L82.5 564.7L82 564.9L81.5 565.5L81 565.5L80.5 565.3L80 565.3L79.5 565.7L79 565L78.5 565.5L78 564.7L77.5 564.4Z"/></clipPath>
<path d="M76.5 559.9L76.8 550.6L77 540.5L77.2 530.4L77.5 521.4L77.8 514.3L78 509.7L78.2 508.2L78.5 509.9L78.8 514.6L79 521.9L79.2 531.1L79.5 541.3L79.8 551.5L80 560.8L80.2 568.3L80.5 573.2L80.8 575.2L81 574.1L81.2 569.9L81.5 563L81.8 554.3L82 544.4L82.2 534.3L82.5 525.1L82.8 517.5L83 512.4L83.2 510.2L83.5 511.2L83.8 515.2L84 521.9L84.2 530.6L84.5 540.5L84.8 550.6L85 560.1L85.2 568L85.5 573.5L85.8 576.1L86 575.7L86.2 572.2L86.5 566L86.8 557.7L87 548.1L87.2 538.1L87.5 528.7L87.8 520.8L88 515.2L88.2 512.4L88.5 512.7L88.8 516L89 522L89.2 530.2L89.5 539.8L89.8 549.9L90 559.5L90.2 567.6L90.5 573.6L90.8 576.9L91 577.1L91.2 574.2L91.5 568.6L91.8 560.7L92 551.4L92.2 541.5L92.5 532L92.8 523.9L93 517.8L93.2 514.3L93.5 513.9L93.8 516.6L94 522L94.2 529.7L94.5 538.9L94.8 548.8L95 558.5L95.2 566.9L95.5 573.3L95.8 577L96 577.9L96.2 575.6L96.5 570.6L96.8 563.2L97 554.3L97.2 544.6L97.5 535L97.8 526.6L98 520.1L98.2 516.2L98.5 515.2L98.8 517.2L99 522L99.2 529.3L99.5 538.2L99.8 547.9L100 557.5L100.2 566.1L100.5 572.9L100.8 577.1L101 578.5L101.2 576.9L101.5 572.5L101.8 565.6L102 557L102.2 547.4L102.5 537.9L102.8 529.4L103 522.5L103.2 518.1L103.5 516.6L103.8 518L104 522.3L104.2 529L104.5 537.5L104.8 547.1L105 556.6L105.2 565.3L105.5 572.4L105.8 577.1L106 579L106.2 577.9L106.5 573.9L106.8 567.5L107 559.2L107.2 549.8L107.5 540.2L107.8 531.4L108 524.2L108.2 519.2L108.5 517.1L108.8 517.9L109 521.6L109.2 527.9L109.5 536.1L109.8 545.4L110 555L110.2 563.9L110.5 571.3L110.8 576.4L111 578.9L111.2 578.3L111.5 574.8L111.8 568.8L112 560.7L112.2 551.4L112.5 541.8L112.8 532.8L113 525.3L113.2 519.9L113.5 517.2L113.8 517.5L114 520.8L114.2 526.6L114.5 534.6L114.8 543.8L115 553.4L115.2 562.5L115.5 570.2L115.8 575.8L116 578.7L116.2 578.6L116.5 575.6L116.8 569.9L117 562.1L117.2 553L117.5 543.4L117.8 534.2L118 526.3L118.2 520.6L118.5 517.5L118.8 517.3L119 520.1L119.2 525.6L119.5 533.2L119.8 542.3L120 551.9L120.2 561.1L120.5 569.1L120.8 575.1L121 578.4L121.2 578.8L121.5 576.2L121.8 570.9L122 563.4L122.2 554.4L122.5 544.8L122.8 535.5L123 527.4L123.2 521.3L123.5 517.8L123.8 517.1L124 519.5L124.2 524.6L124.5 531.9L124.8 540.9L125 550.5L125.2 559.8L125.5 568L125.8 574.3L126 578.1L126.2 578.9L126.5 576.8L126.8 571.9L127 564.6L127.2 555.8L127.5 546.2L127.8 536.8L128 528.5L128.2 522L128.5 518.1L128.8 517L129 519L129.2 523.7L129.5 530.8L129.8 539.6L130 549.1L130.2 558.6L130.5 567L130.8 573.5L131 577.6L131.2 578.9L131.5 577.1L131.8 572.5L132 565.6L132.2 556.9L132.5 547.4L132.8 537.9L133 529.4L133.2 522.7L133.5 518.4L133.8 517L134 518.5L134.2 522.9L134.5 529.7L134.8 538.2L135 547.6L135.2 557.1L135.5 565.6L135.8 572.4L136 576.8L136.2 578.4L136.5 577L136.8 572.8L137 566.2L137.2 557.7L137.5 548.3L137.8 538.9L138 530.3L138.2 523.3L138.5 518.8L138.8 517L139 518.1L139.2 522.2L139.5 528.6L139.8 536.9L140 546.2L140.2 555.7L140.5 564.3L140.8 571.3L141 576L141.2 577.9L141.5 576.9L141.8 573L142 566.6L142.2 558.4L142.5 549.2L142.8 539.7L143 531L143.2 523.9L143.5 519.1L143.8 517L144 517.8L144.2 521.5L144.5 527.7L144.8 535.8L145 544.9L145.2 554.3L145.5 563L145.8 570.2L146 575.1L146.2 577.3L146.5 576.6L146.8 573.1L147 567L147.2 559L147.5 549.9L147.8 540.5L148 531.8L148.2 524.5L148.5 519.4L148.8 517.1L149 517.6L149.2 521L149.5 526.9L149.8 534.7L150 543.8L150.2 553.1L150.5 561.9L150.8 569.2L151 574.3L151.2 576.8L151.5 576.4L151.8 573.1L152 567.3L152.2 559.5L152.5 550.5L152.8 541.2L153 532.4L153.2 525L153.5 519.8L153.8 517.1L154 517.4L154.2 520.5L154.5 526.1L154.8 533.8L155 542.7L155.2 552L155.5 560.8L155.8 568.2L156 573.5L156.2 576.2L156.5 576.1L156.8 573L157 567.5L157.2 559.9L157.5 551L157.8 541.8L158 533L158.2 525.5L158.5 520.1L158.8 517.2L159 517.2L159.2 520.1L159.5 525.5L159.8 533L160 541.7L160.2 551L160.5 559.7L160.8 567.2L161 572.7L161.2 575.6L161.5 575.7L161.8 572.9L162 567.6L162.2 560.2L162.5 551.5L162.8 542.2L163 533.4L163.2 525.9L163.5 520.3L163.8 517.3L164 517.1L164.2 519.7L164.5 524.9L164.8 532.2L165 540.9L165.2 550L165.5 558.8L165.8 566.4L166 572L166.2 575L166.5 575.3L166.8 572.7L167 567.6L167.2 560.4L167.5 551.8L167.8 542.6L168 533.8L168.2 526.2L168.5 520.6L168.8 517.4L169 517L169.2 519.4L169.5 524.5L169.8 531.6L170 540.1L170.2 549.2L170.5 558L170.8 565.6L171 571.2L171.2 574.5L171.5 574.9L171.8 572.5L172 567.5L172.2 560.5L172.5 552L172.8 542.9L173 534.1L173.2 526.5L173.5 520.8L173.8 517.5L174 516.9L174.2 519.2L174.5 524.1L174.8 531L175 539.4L175.2 548.4L175.5 557.2L175.8 564.8L176 570.6L176.2 573.9L176.5 574.5L176.8 572.2L177 567.4L177.2 560.5L177.5 552.1L177.8 543.1L178 534.4L178.2 526.7L178.5 520.9L178.8 517.5L179 516.9L179.2 519L179.5 523.7L179.8 530.6L180 538.9L180.2 547.8L180.5 556.5L180.8 564.1L181 569.9L181.2 573.3L181.5 574L181.8 571.9L182 567.2L182.2 560.4L182.5 552.1L182.8 543.2L183 534.5L183.2 526.8L183.5 521L183.8 517.5L184 516.8L184.2 518.8L184.5 523.4L184.8 530.1L185 538.3L185.2 547.2L185.5 555.8L185.8 563.5L186 569.3L186.2 572.7L186.5 573.5L186.8 571.5L187 566.9L187.2 560.2L187.5 552L187.8 543.2L188 534.5L188.2 526.9L188.5 521L188.8 517.5L189 516.7L189.2 518.6L189.5 523.1L189.8 529.8L190 537.9L190.2 546.7L190.5 555.3L190.8 562.9L191 568.7L191.2 572.2L191.5 573L191.8 571.1L192 566.6L192.2 559.9L192.5 551.8L192.8 543L193 534.4L193.2 526.8L193.5 521L193.8 517.5L194 516.6L194.2 518.5L194.5 522.9L194.8 529.5L195 537.5L195.2 546.2L195.5 554.8L195.8 562.3L196 568.1L196.2 571.6L196.5 572.5L196.8 570.6L197 566.1L197.2 559.6L197.5 551.6L197.8 542.8L198 534.3L198.2 526.7L198.5 520.9L198.8 517.4L199 516.5L199.2 518.4L199.5 522.8L199.8 529.3L200 537.2L200.2 545.9L200.5 554.4L200.8 561.9L201 567.6L201.2 571.1L201.5 571.9L201.8 570.1L202 565.6L202.2 559.1L202.5 551.1L202.8 542.5L203 534L203.2 526.5L203.5 520.7L203.8 517.3L204 516.4L204.2 518.3L204.5 522.8L204.8 529.3L205 537.2L205.2 545.9L205.5 554.3L205.8 561.7L206 567.4L206.2 570.7L206.5 571.4L206.8 569.4L207 564.9L207.2 558.3L207.5 550.3L207.8 541.6L208 533.2L208.2 525.9L208.5 520.3L208.8 517L209 516.4L209.2 518.5L209.5 523.1L209.8 529.8L210 537.8L210.2 546.4L210.5 554.7L210.8 561.9L211 567.3L211.2 570.4L211.5 570.8L211.8 568.5L212 563.7L212.2 557L212.5 548.9L212.8 540.3L213 532L213.2 524.9L213.5 519.6L213.8 516.7L214 516.5L214.2 518.9L214.5 523.8L214.8 530.7L215 538.8L215.2 547.4L215.5 555.5L215.8 562.5L216 567.5L216.2 570.1L216.5 570.1L216.8 567.3L217 562.2L217.2 555.2L217.5 547L217.8 538.4L218 530.4L218.2 523.6L218.5 518.7L218.8 516.4L219 516.7L219.2 519.6L219.5 525L219.8 532.1L220 540.3L220.2 548.8L220.5 556.8L220.8 563.3L221 567.8L221.2 569.8L221.5 569.2L221.8 565.9L222 560.3L222.2 552.9L222.5 544.6L222.8 536.1L223 528.3L223.2 522L223.5 517.8L223.8 516.1L224 517.1L224.2 520.7L224.5 526.5L224.8 534L225 542.4L225.2 550.7L225.5 558.3L225.8 564.3L226 568.1L226.2 569.4L226.5 568L226.8 564L227 557.8L227.2 550.2L227.5 541.7L227.8 533.4L228 526L228.2 520.3L228.5 516.9L228.8 516.1L229 517.9L229.2 522.3L229.5 528.7L229.8 536.5L230 544.9L230.2 553L230.5 560.1L230.8 565.4L231 568.3L231.2 568.6L231.5 566.3L231.8 561.5L232 554.8L232.2 546.8L232.5 538.4L232.8 530.4L233 523.7L233.2 518.8L233.5 516.3L233.8 516.5L234 519.3L234.2 524.5L234.5 531.4L234.8 539.4L235 547.7L235.2 555.5L235.5 561.8L235.8 566.2L236 568L236.2 567.3L236.5 563.9L236.8 558.4L237 551.1L237.2 543L237.5 534.8L237.8 527.3L238 521.4L238.2 517.5L238.5 516.2L238.8 517.5L239 521.4L239.2 527.3L239.5 534.7L239.8 542.9L240 550.9L240.2 558L240.5 563.4L240.8 566.6L241 567.3L241.2 565.3L241.5 560.9L241.8 554.6L242 546.9L242.2 538.8L242.5 530.9L242.8 524.2L243 519.3L243.2 516.7L243.5 516.7L243.8 519.2L244 524.1L244.2 530.8L244.5 538.5L244.8 546.6L245 554.2L245.2 560.4L245.5 564.7L245.8 566.6L246 565.8L246.2 562.6L246.5 557.2L246.8 550.2L247 542.2L247.2 534.2L247.5 527L247.8 521.3L248 517.6L248.2 516.5L248.5 517.9L248.8 521.7L249 527.6L249.2 534.9L249.5 542.8L249.8 550.6L250 557.4L250.2 562.5L250.5 565.4L250.8 565.7L251 563.6L251.2 559.1L251.5 552.7L251.8 545.1L252 537.2L252.2 529.7L252.5 523.3L252.8 518.9L253 516.7L253.2 517.1L253.5 520L253.8 525.1L254 531.8L254.2 539.5L254.5 547.3L254.8 554.5L255 560.2L255.2 563.9L255.5 565.2L255.8 563.9L256 560.3L256.2 554.6L256.5 547.5L256.8 539.7L257 532L257.2 525.3L257.5 520.2L257.8 517.3L258 516.8L258.2 518.9L258.5 523.2L258.8 529.4L259 536.8L259.2 544.5L259.5 551.9L259.8 558L260 562.3L260.2 564.3L260.5 563.8L260.8 560.9L261 555.9L261.2 549.2L261.5 541.6L261.8 533.9L262 527L262.2 521.5L262.5 517.9L262.8 516.8L263 518.2L263.2 521.9L263.5 527.6L263.8 534.6L264 542.2L264.2 549.6L264.5 556L264.8 560.8L265 563.3L265.2 563.5L265.5 561.2L265.8 556.6L266 550.4L266.2 543.1L266.5 535.5L266.8 528.4L267 522.6L267.2 518.6L267.5 517L267.8 517.8L268 521L268.2 526.2L268.5 532.9L268.8 540.3L269 547.7L269.2 554.3L269.5 559.4L269.8 562.3L270 562.9L270.2 561.1L270.5 557L270.8 551.1L271 544.1L271.2 536.6L271.5 529.5L271.8 523.5L272 519.2L272.2 517.2L272.5 517.7L272.8 520.5L273 525.4L273.2 531.8L273.5 539.1L273.8 546.5L274 553.2L274.2 558.5L274.5 561.7L274.8 562.7L275 561.2L275.2 557.4L275.5 551.7L275.8 544.8L276 537.4L276.2 530.3L276.5 524.2L276.8 519.8L277 517.6L277.2 517.8L277.5 520.3L277.8 525L278 531.3L278.2 538.5L278.5 545.8L278.8 552.5L279 557.9L279.2 561.3L279.5 562.4L279.8 561L280 557.4L280.2 552L280.5 545.2L280.8 537.8L281 530.7L281.2 524.6L281.5 520.2L281.8 517.9L282 517.9L282.2 520.4L282.5 524.9L282.8 531.1L283 538.2L283.2 545.5L283.5 552.2L283.8 557.5L284 560.9L284.2 562L284.5 560.8L284.8 557.2L285 551.8L285.2 545.1L285.5 537.8L285.8 530.8L286 524.8L286.2 520.4L286.5 518.1L286.8 518.2L287 520.6L287.2 525.2L287.5 531.3L287.8 538.4L288 545.6L288.2 552.2L288.5 557.4L288.8 560.7L289 561.7L289.2 560.4L289.5 556.8L289.8 551.3L290 544.6L290.2 537.4L290.5 530.5L290.8 524.6L291 520.3L291.2 518.2L291.5 518.5L291.8 521.1L292 525.8L292.2 531.9L292.5 539L292.8 546.1L293 552.5L293.2 557.5L293.5 560.6L293.8 561.4L294 559.8L294.2 556L294.5 550.5L294.8 543.8L295 536.6L295.2 529.8L295.5 524.1L295.8 520.2L296 518.4L296.2 518.9L296.5 521.8L296.8 526.6L297 532.9L297.2 539.9L297.5 546.9L297.8 553.1L298 557.8L298.2 560.6L298.5 561L298.8 559.1L299 555L299.2 549.3L299.5 542.5L299.8 535.4L300 528.8L300.2 523.5L300.5 519.9L300.8 518.5L301 519.5L301.2 522.8L301.5 527.9L301.8 534.3L302 541.3L302.2 548.2L302.5 554L302.8 558.3L303 560.5L303.2 560.4L303.5 558L303.8 553.6L304 547.6L304.2 540.7L304.5 533.7L304.8 527.4L305 522.5L305.2 519.5L305.5 518.8L305.8 520.5L306 524.2L306.2 529.8L306.5 536.4L306.8 543.4L307 550L307.2 555.4L307.5 559L307.8 560.5L308 559.6L308.2 556.4L308.5 551.4L308.8 545L309 538.1L309.2 531.3L309.5 525.5L309.8 521.3L310 519.2L310.2 519.4L310.5 521.9L310.8 526.4L311 532.5L311.2 539.3L311.5 546.2L311.8 552.3L312 556.9L312.2 559.6L312.5 560L312.8 558.1L313 554.1L313.2 548.4L313.5 541.7L313.8 534.8L314 528.5L314.2 523.4L314.5 520.2L314.8 519.2L315 520.6L315.2 524.2L315.5 529.5L315.8 536L316 542.9L316.2 549.4L316.5 554.8L316.8 558.4L317 559.8L317.2 558.9L317.5 555.8L317.8 550.8L318 544.5L318.2 537.7L318.5 531L318.8 525.4L319 521.4L319.2 519.6L319.5 520L319.8 522.8L320 527.5L320.2 533.6L320.5 540.4L320.8 547.1L321 552.9L321.2 557.1L321.5 559.3L321.8 559.2L322 556.8L322.2 552.4L322.5 546.4L322.8 539.7L323 533L323.2 527L323.5 522.6L323.8 520.1L324 519.9L324.2 522L324.5 526.2L324.8 532L325 538.6L325.2 545.4L325.5 551.4L325.8 556L326 558.7L326.2 559.1L326.5 557.2L326.8 553.2L327 547.6L327.2 541L327.5 534.3L327.8 528.2L328 523.4L328.2 520.6L328.5 520L328.8 521.7L329 525.6L329.2 531.1L329.5 537.6L329.8 544.4L330 550.5L330.2 555.3L330.5 558.2L330.8 558.9L331 557.2L331.2 553.5L331.5 548L331.8 541.6L332 534.9L332.2 528.8L332.5 523.9L332.8 521L333 520.3L333.2 521.9L333.5 525.6L333.8 531L334 537.4L334.2 544.1L334.5 550.1L334.8 554.9L335 557.8L335.2 558.5L335.5 556.9L335.8 553.1L336 547.8L336.2 541.4L336.5 534.8L336.8 528.8L337 524.1L337.2 521.3L337.5 520.7L337.8 522.4L338 526.2L338.2 531.6L338.5 538L338.8 544.5L339 550.4L339.2 554.9L339.5 557.6L339.8 558L340 556.2L340.2 552.3L340.5 546.9L340.8 540.5L341 534.1L341.2 528.3L341.5 523.9L341.8 521.5L342 521.2L342.2 523.3L342.5 527.3L342.8 532.8L343 539.2L343.2 545.5L343.5 551.1L343.8 555.3L344 557.5L344.2 557.4L344.5 555.2L344.8 551L345 545.3L345.2 539L345.5 532.7L345.8 527.3L346 523.5L346.2 521.6L346.5 521.9L346.8 524.5L347 528.9L347.2 534.7L347.5 541L347.8 547.1L348 552.3L348.2 555.8L348.5 557.3L348.8 556.6L349 553.7L349.2 549L349.5 543.2L349.8 536.9L350 530.9L350.2 526L350.5 522.9L350.8 521.8L351 523L351.2 526.3L351.5 531.2L351.8 537.2L352 543.4L352.2 549.2L352.5 553.6L352.8 556.3L353 556.9L353.2 555.2L353.5 551.6L353.8 546.4L354 540.3L354.2 534.2L354.5 528.7L354.8 524.7L355 522.5L355.2 522.5L355.5 524.7L355.8 528.8L356 534.2L356.2 540.3L356.5 546.3L356.8 551.4L357 554.9L357.2 556.5L357.5 555.9L357.8 553.2L358 548.7L358.2 543L358.5 536.9L358.8 531.2L359 526.5L359.2 523.5L359.5 522.6L359.8 523.9L360 527.2L360.2 532.1L360.5 537.9L360.8 543.9L361 549.3L361.2 553.5L361.5 555.8L361.8 556L362 554L362.2 550.2L362.5 545L362.8 539L363 533.2L363.2 528.2L363.5 524.6L363.8 523.1L364 523.6L364.2 526.3L364.5 530.7L364.8 536.2L365 542.1L365.2 547.7L365.5 552.2L365.8 555L366 555.8L366.2 554.4L366.5 551.1L366.8 546.2L367 540.5L367.2 534.6L367.5 529.4L367.8 525.6L368 523.6L368.2 523.7L368.5 525.9L368.8 529.9L369 535.2L369.2 541L369.5 546.6L369.8 551.2L370 554.3L370.2 555.4L370.5 554.4L370.8 551.4L371 546.8L371.2 541.2L371.5 535.5L371.8 530.3L372 526.3L372.2 524.1L372.5 524L372.8 525.9L373 529.7L373.2 534.8L373.5 540.5L373.8 546L374 550.7L374.2 553.8L374.5 555L374.8 554.1L375 551.3L375.2 546.8L375.5 541.4L375.8 535.8L376 530.6L376.2 526.7L376.5 524.6L376.8 524.4L377 526.4L377.2 530.1L377.5 535.1L377.8 540.7L378 546.1L378.2 550.6L378.5 553.7L378.8 554.8L379 553.8L379.2 550.9L379.5 546.5L379.8 541.2L380 535.7L380.2 530.7L380.5 527L380.8 525L381 525.1L381.2 527.2L381.5 531L381.8 536L382 541.5L382.2 546.7L382.5 551L382.8 553.7L383 554.5L383.2 553.3L383.5 550.2L383.8 545.7L384 540.4L384.2 535L384.5 530.4L384.8 527L385 525.5L385.2 525.9L385.5 528.3L385.8 532.3L386 537.4L386.2 542.8L386.5 547.7L386.8 551.6L387 553.8L387.2 554.1L387.5 552.5L387.8 549L388 544.4L388.2 539.1L388.5 534L388.8 529.7L389 526.9L389.2 526L389.5 527L389.8 529.9L390 534.2L390.2 539.3L390.5 544.5L390.8 549.1L391 552.4L391.2 553.9L391.5 553.5L391.8 551.3L392 547.4L392.2 542.6L392.5 537.4L392.8 532.6L393 529L393.2 526.9L393.5 526.7L393.8 528.5L394 531.9L394.2 536.5L394.5 541.6L394.8 546.5L395 550.5L395.2 553.1L395.5 553.8L395.8 552.5L396 549.6L396.2 545.3L396.5 540.3L396.8 535.4L397 531.2L397.2 528.3L397.5 527.2L397.8 527.9L398 530.5L398.2 534.5L398.5 539.3L398.8 544.3L399 548.7L399.2 551.9L399.5 553.4L399.8 553.1L400 550.9L400.2 547.2L400.5 542.6L400.8 537.6L401 533.1L401.2 529.6L401.5 527.8L401.8 527.8L402 529.6L402.2 533L402.5 537.5L402.8 542.3L403 546.9L403.2 550.5L403.5 552.6L403.8 552.9L404 551.3L404.2 548.1L404.5 543.8L404.8 538.9L405 534.3L405.2 530.5L405.5 528.2L405.8 527.7L406 529L406.2 531.9L406.5 536.1L406.8 540.9L407 545.5L407.2 549.3L407.5 551.7L407.8 552.4L408 551.2L408.2 548.4L408.5 544.3L408.8 539.6L409 534.9L409.2 531L409.5 528.5L409.8 527.7L410 528.7L410.2 531.5L410.5 535.4L410.8 540.1L411 544.7L411.2 548.5L411.5 551L411.8 551.9L412 550.8L412.2 548.1L412.5 544.2L412.8 539.6L413 535L413.2 531.1L413.5 528.6L413.8 527.8L414 528.8L414.2 531.4L414.5 535.3L414.8 539.9L415 544.4L415.2 548.1L415.5 550.6L415.8 551.3L416 550.2L416.2 547.5L416.5 543.5L416.8 539L417 534.5L417.2 530.8L417.5 528.5L417.8 527.9L418 529L418.2 531.8L418.5 535.8L418.8 540.3L419 544.6L419.2 548.1L419.5 550.3L419.8 550.7L420 549.3L420.2 546.4L420.5 542.3L420.8 537.8L421 533.6L421.2 530.2L421.5 528.3L421.8 528.1L422 529.6L422.2 532.7L422.5 536.7L422.8 541.2L423 545.3L423.2 548.4L423.5 550L423.8 549.9L424 548.1L424.2 544.8L424.5 540.6L424.8 536.2L425 532.2L425.2 529.4L425.5 528L425.8 528.5L426 530.5L426.2 534L426.5 538.2L426.8 542.5L427 546.1L427.2 548.6L427.5 549.5L427.8 548.6L428 546.2L428.2 542.5L428.5 538.2L428.8 534L429 530.5L429.2 528.4L429.5 527.9L429.8 529.1L430 531.9L430.2 535.7L430.5 539.9L430.8 543.9L431 546.9L431.2 548.5L431.5 548.5L431.8 546.7L432 543.6L432.2 539.5L432.5 535.3L432.8 531.5L433 528.8L433.2 527.7L433.5 528.3L433.8 530.4L434 533.8L434.2 537.9L434.5 542L434.8 545.3L435 547.4L435.2 547.9L435.5 546.7L435.8 544L436 540.3L436.2 536.1L436.5 532.2L436.8 529.2L437 527.7L437.2 527.8L437.5 529.5L437.8 532.6L438 536.5L438.2 540.5L438.5 544L438.8 546.4L439 547.2L439.2 546.4L439.5 544L439.8 540.5L440 536.4L440.2 532.5L440.5 529.4L440.8 527.7L441 527.5L441.2 529L441.5 531.8L441.8 535.6L442 539.5L442.2 543L442.5 545.5L442.8 546.4L443 545.7L443.2 543.5L443.5 540.2L443.8 536.2L444 532.4L444.2 529.3L444.5 527.5L444.8 527.3L445 528.8L445.2 531.5L445.5 535.2L445.8 539L446 542.4L446.2 544.8L446.5 545.7L446.8 545L447 542.7L447.2 539.4L447.5 535.5L447.8 531.8L448 528.9L448.2 527.3L448.5 527.2L448.8 528.8L449 531.6L449.2 535.2L449.5 539L449.8 542.2L450 544.3L450.2 544.8L450.5 543.7L450.8 541.2L451 537.7L451.2 533.8L451.5 530.3L451.8 527.5L452 526.2L452.2 526.3L452.5 528L452.8 530.8L453 534.2L453.2 537.5L453.5 540.3L453.8 541.8L454 541.9L454.2 540.6L454.5 537.9L454.8 534.5L455 530.8L455.2 527.6L455.5 525.3L455.8 524.4L456 524.9L456.2 526.8L456.5 529.6L456.8 532.9L457 535.9L457.2 538.2L457.5 539.3L457.8 538.9L458 537.3L458.2 534.5L458.5 531.2L458.8 527.8L459 525L459.2 523.2L459.5 522.8L459.8 523.7L460 525.7L460.2 528.6L460.5 531.6L460.8 534.2L461 536L461.2 536.6L461.5 535.8L461.8 533.8L462 531L462.2 527.8L462.5 524.8L462.8 522.5L463 521.2L463.2 521.3L463.5 522.6L463.8 524.8L464 527.5L464.2 530.2L464.5 532.4L464.8 533.7L465 533.7L465.2 532.4L465.5 530.2L465.8 527.3L466 524.2L466.2 521.6L466.5 519.7L466.8 519L467 519.5L467.2 521L467.5 523.2L467.8 525.8L468 528L468.2 529.6L468.5 530.2L468.8 529.6L469 528L469.2 525.6L469.5 522.8L469.8 520.1L470 517.9L470.2 516.7L470.5 516.5L470.8 517.4L471 519.2L471.2 521.4L471.5 523.6L471.8 525.4L472 526.4L472.2 526.4L472.5 525.4L472.8 523.5L473 521L473.2 518.4L473.5 516.1L473.8 514.5L474 513.9L474.2 514.3L474.5 515.5L474.8 517.4L475 519.4L475.2 521.3L475.5 522.5L475.8 522.9L476 522.4L476.2 520.9L476.5 518.8L476.8 516.4L477 514.1L477.2 512.3L477.5 511.3L477.8 511.1L478 511.9L478.2 513.3L478.5 515.1L478.8 516.9L479 518.3L479.2 518.9L479.5 518.7L479.8 517.6L480 515.7L480.2 513.5L480.5 511.2L480.8 509.2L481 507.9L481.2 507.5L481.5 507.9L481.8 509L482 510.7L482.2 512.4L482.5 513.8L482.8 514.7L483 514.7L483.2 514L483.5 512.4L483.8 510.4L484 508.1L484.2 506.1L484.5 504.7L484.8 504L485 504.1L485.2 505L485.5 506.4L485.8 508L486 509.5L486.2 510.4L486.5 510.7L486.8 510.2L487 508.9L487.2 507L487.5 504.9L487.8 502.9L488 501.4L488.2 500.5L488.5 500.4L488.8 501L489 502.2L489.2 503.7L489.5 505.2L489.8 506.2L490 506.6L490.2 506.2L490.5 505L490.8 503.2L491 501.1L491.2 499.1L491.5 497.4L491.8 496.2L492 495.9L492.2 496.2L492.5 497.1L492.8 498.4L493 499.6L493.2 500.5L493.5 500.9L493.8 500.6L494 499.6L494.2 497.9L494.5 496L494.8 494L495 492.4L495.2 491.2L495.5 490.7L495.8 490.9L496 491.7L496.2 492.8L496.5 493.9L496.8 494.8L497 495.2L497.2 495L497.5 494.1L497.8 492.6L498 490.8L498.2 488.9L498.5 487.3L498.8 486.1L499 485.6L499.2 485.7L499.5 486.3L499.8 487.3L500 488.3L500.2 489.1L500.5 489.5L500.8 489.3L501 488.5L501.2 487.1L501.5 485.5L501.8 483.7L502 482.1L502.2 481L502.5 480.4L502.8 480.5L503 481L503.2 481.9L503.5 482.8L503.8 483.5L504 483.9L504.2 483.6L504.5 482.9L504.8 481.6L505 480L505.2 478.3L505.5 476.8L505.8 475.7L506 475.1L506.2 475.1L506.5 475.6L506.8 476.4L507 477.2L507.2 477.9L507.5 478.1L507.8 477.9L508 477.1L508.2 475.9L508.5 474.4L508.8 472.8L509 471.4L509.2 470.3L509.5 469.8L509.8 469.8L510 470.2L510.2 470.9L510.5 471.7L510.8 472.2L511 472.4L511.2 472.1L511.5 471.3L511.8 470.1L512 468.7L512.2 467.2L512.5 465.9L512.8 464.9L513 464.5L513.2 464.5L513.5 464.9L513.8 465.5L514 466.2L514.2 466.6L514.5 466.7L514.8 466.4L515 465.6L515.2 464.4L515.5 463L515.8 461.6L516 460.4L516.2 459.6L516.5 459.2L516.8 459.1L517 459.3L517.2 459.6L517.5 459.9L517.8 460.1L518 459.8L518.2 459.1L518.5 458.1L518.8 456.6L519 455.1L519.2 453.5L519.5 452.2L519.8 451.2L520 450.7L520.2 450.5L520.5 450.7L520.8 451L521 451.2L521.2 451.2L521.5 450.8L521.8 450.1L522 448.9L522.2 447.5L522.5 446L522.8 444.5L523 443.3L523.2 442.5L523.5 442L523.8 441.9L524 442L524.2 442.3L524.5 442.4L524.8 442.2L525 441.8L525.2 440.9L525.5 439.7L525.8 438.3L526 436.8L526.2 435.5L526.5 434.4L526.8 433.7L527 433.3L527.2 433.3L527.5 433.4L527.8 433.5L528 433.5L528.2 433.2L528.5 432.6L528.8 431.7L529 430.4L529.2 429L529.5 427.7L529.8 426.5L530 425.5L530.2 424.9L530.5 424.7L530.8 424.6L531 424.7L531.2 424.8L531.5 424.6L531.8 424.2L532 423.5L532.2 422.4L532.5 421.2L532.8 419.8L533 418.6L533.2 417.5L533.5 416.7L533.8 416.2L534 416L534.2 416L534.5 416L534.8 415.9L535 415.7L535.2 415.1L535.5 414.2L535.8 413.1L536 411.9L536.2 410.6L536.5 409.5L536.8 408.6L537 407.8L537.2 407.4L537.5 407.2L537.8 407L538 406.9L538.2 406.6L538.5 406.1L538.8 405.3L539 404.3L539.2 403.1L539.5 401.8L539.8 400.6L540 399.5L540.2 398.6L540.5 398L540.8 397.7L541 397.5L541.2 397.3L541.5 397.1L541.8 396.6L542 396L542.2 395.1L542.5 394L542.8 392.8L543 391.5L543.2 390.4L543.5 389.4L543.8 388.7L544 388.2L544.2 388L544.5 387.8L544.8 387.5L545 387.2L545.2 386.7L545.5 385.9L545.8 384.8L546 383.7L546.2 382.4L546.5 381.3L546.8 380.2L547 379.4L547.2 378.8L547.5 378.5L547.8 378.3L548 378L548.2 377.8L548.5 377.3L548.8 376.6L549 375.6L549.2 374.4L549.5 373.1L549.8 371.8L550 370.6L550.2 369.6L550.5 368.8L550.8 368.3L551 367.9L551.2 367.5L551.5 367.2L551.8 366.6L552 365.9L552.2 364.9L552.5 363.7L552.8 362.5L553 361.1L553.2 359.9L553.5 358.9L553.8 358L554 357.4L554.2 357L554.5 356.6L554.8 356.2L555 355.7L555.2 355L555.5 354.1L555.8 353L556 351.8L556.2 350.5L556.5 349.2L556.8 348.2L557 347.3L557.2 346.6L557.5 346.1L557.8 345.7L558 345.3L558.2 344.8L558.5 344.2L558.8 343.3L559 342.3L559.2 341.1L559.5 339.8L559.8 338.5L560 337.3L560.2 336.3L560.5 335.5L560.8 334.8L561 334.3L561.2 333.8L561.5 333.3L561.8 332.6L562 331.7L562.2 330.6L562.5 329.3L562.8 328L563 326.6L563.2 325.4L563.5 324.4L563.8 323.5L564 322.9L564.2 322.3L564.5 321.8L564.8 321.3L565 320.6L565.2 319.7L565.5 318.6L565.8 317.4L566 316.1L566.2 314.7L566.5 313.5L566.8 312.5L567 311.6L567.2 310.9L567.5 310.4L567.8 309.8L568 309.3L568.2 308.6L568.5 307.7L568.8 306.6L569 305.4L569.2 304.1L569.5 302.8L569.8 301.6L570 300.6L570.2 299.6L570.5 298.9L570.8 298.2L571 297.6L571.2 296.9L571.5 296.2L571.8 295.2L572 294.1L572.2 292.9L572.5 291.5L572.8 290.2L573 288.9L573.2 287.7L573.5 286.8L573.8 286L574 285.3L574.2 284.7L574.5 284L574.8 283.2L575 282.3L575.2 281.2L575.5 279.9L575.8 278.6L576 277.3L576.2 276L576.5 274.9L576.8 273.9L577 273.2L577.2 272.5L577.5 271.8L577.8 271.1L578 270.3L578.2 269.4L578.5 268.3L578.8 267L579 265.7L579.2 264L579.5 262.4L579.8 260.9L580 259.5L580.2 258.4L580.5 257.3L580.8 256.2L581 255.1L581.2 253.9L581.5 252.5L581.8 251L582 249.4L582.2 247.7L582.5 246L582.8 244.4L583 242.9L583.2 241.6L583.5 240.5L583.8 239.4L584 238.3L584.2 237.1L584.5 235.9L584.8 234.5L585 233L585.2 231.3L585.5 229.7L585.8 228L586 226.5" stroke="#a6a6a6" stroke-width="1.0" clip-path="url(#bc)"/>
<path d="M266.5 528.8L267 529.9L267.5 527.7L268 528.4L268.5 529.2L269 527.8L269.5 528.3L270 528.9L270.5 530L271 529.7L271.5 529.9L272 529.7L272.5 529.6L273 530L273.5 529.6L274 529.7L274.5 528.6L275 528.3L275.5 529.8L276 528.3L276.5 530.3L277 529.5L277.5 528.8L278 530.4L278.5 528.4L279 529.3L279.5 528.2L280 530.5L280.5 529.5L281 530.1L281.5 528.8L282 530.1L282.5 529.9L283 529.8L283.5 530.6L284 529.2L284.5 529.2L285 529.9L285.5 530.3L286 529.1L286.5 529.9L287 528.8L287.5 529.7L288 530.2L288.5 528.4L289 530.2L289.5 528.3L290 530.8L290.5 529.5L291 529.3L291.5 530.1L292 529.6L292.5 530.1L293 528.4L293.5 529.6L294 529.6L294.5 530.5L295 528.2L295.5 529.2L296 529.7L296.5 529.4L297 528.2L297.5 529.5L298 528.5L298.5 528.4L299 530.2L299.5 528.4L300 529L300.5 529.8L301 529.6L301.5 529.2L302 529.9L302.5 528.9L303 529.3L303.5 529.8L304 529.4L304.5 529.3L305 528.7L305.5 529.1L306 528.6L306.5 529.5L307 528.5L307.5 528.7L308 529.5L308.5 528.8L309 528.3L309.5 529.6L310 528.4L310.5 529.6L311 529.4L311.5 528.5L312 529.2L312.5 527.4L313 528.4L313.5 529.6L314 528.8L314.5 528.8L315 529L315.5 529.1L316 528.8L316.5 528.4L317 527.8L317.5 528L318 528L318.5 528.4L319 529.9L319.5 528.2L320 528.4L320.5 528.2L321 528.7L321.5 529.7L322 529.5L322.5 528.2L323 527.9L323.5 529.5L324 528.5L324.5 529L325 527.4L325.5 529.4L326 528L326.5 528.4L327 527.6L327.5 528.2L328 529.3L328.5 529.3L329 528.3L329.5 529.1L330 528.3L330.5 528L331 528.5L331.5 527.6L332 527.9L332.5 528.9L333 529L333.5 527.2L334 528.9L334.5 529.1L335 528.2L335.5 527.1L336 528.7L336.5 527.5L337 528.5L337.5 527.8L338 528.4L338.5 527.4L339 527.9L339.5 528L340 528.2L340.5 527L341 529L341.5 527.2L342 527.2L342.5 527L343 526.5L343.5 527.3L344 528.2L344.5 528L345 526.6L345 530.4L344.5 529.6L344 530.2L343.5 530.1L343 529L342.5 530.7L342 529.8L341.5 530L341 530.9L340.5 531.7L340 529.9L339.5 531.2L339 531.4L338.5 531L338 529.9L337.5 531.1L337 530.9L336.5 532.2L336 531.2L335.5 531.8L335 531.7L334.5 530.7L334 531.9L333.5 532.5L333 532.6L332.5 530.8L332 531.4L331.5 532.2L331 531.9L330.5 531L330 531.3L329.5 531.2L329 530.9L328.5 533.4L328 531.8L327.5 531.1L327 533.6L326.5 531.5L326 531.4L325.5 533L325 533.5L324.5 532.6L324 532.4L323.5 533.7L323 532.3L322.5 533.4L322 532.2L321.5 533.9L321 532.8L320.5 532.7L320 532.5L319.5 533.5L319 532.4L318.5 533L318 533L317.5 533.5L317 532.5L316.5 532.4L316 532.8L315.5 532.2L315 532.6L314.5 534.7L314 534.4L313.5 532.7L313 532.7L312.5 533.2L312 533.9L311.5 533.1L311 534L310.5 534.3L310 535L309.5 535L309 533.4L308.5 535.4L308 533.4L307.5 535.1L307 535.4L306.5 535.7L306 535.7L305.5 535L305 533.6L304.5 535.1L304 534.2L303.5 533.8L303 534.6L302.5 534.7L302 535.2L301.5 535.9L301 534.1L300.5 536.4L300 535.6L299.5 535L299 536.1L298.5 535L298 536.4L297.5 535.1L297 536.7L296.5 535.7L296 535.9L295.5 537.2L295 537.1L294.5 535.2L294 536.6L293.5 535.7L293 536.3L292.5 536.1L292 536.5L291.5 535.2L291 535.9L290.5 535.5L290 537.1L289.5 536.6L289 535.8L288.5 537.1L288 538.4L287.5 537.2L287 536.6L286.5 538L286 536.3L285.5 538.5L285 537.1L284.5 538.1L284 538.7L283.5 538.5L283 539.2L282.5 538.2L282 537.6L281.5 537.7L281 539.9L280.5 540L280 538.8L279.5 539.1L279 539.2L278.5 538.2L278 539.6L277.5 540.8L277 538.5L276.5 538.7L276 539.9L275.5 541.1L275 539.5L274.5 539.7L274 541.4L273.5 541.4L273 540.6L272.5 541.2L272 540L271.5 540.8L271 539.7L270.5 541.1L270 540.8L269.5 541.1L269 542.4L268.5 540.9L268 542.9L267.5 542.8L267 540.8L266.5 541.7Z" fill="url(#bg)" stroke="none"/>
<path d="M338 530.3L338.4 526.9L338.7 527.2L339.1 527.9L339.4 530L339.8 527.2L340.1 527.4L340.5 529.7L340.8 529.6L341.2 527.7L341.5 526.6L341.9 525.9L342.2 527.1L342.6 524.8L342.9 529.2L343.3 527.1L343.6 528.7L344 530.8L344.3 529.7L344.7 526.2L345 529.2L345.4 529.6L345.7 526.7L346.1 526.4L346.4 527.6L346.8 525.3L347.1 529.9L347.5 524.1L347.8 526L348.2 527.2L348.5 527.2L348.9 527.7L349.2 527.9L349.6 527.1L349.9 529.1L350.3 524.2L350.6 527.3L351 526.2L351.3 527.4L351.7 527.5L352 525.8L352.4 526.2L352.7 528.3L353.1 527.6L353.4 526L353.8 530L354.1 530.4L354.5 524.8L354.8 527.3L355.2 530.5L355.5 528L355.9 527.1L356.2 526.4L356.6 525.9L356.9 526.4L357.3 525.8L357.6 527.7L358 526L358.3 525.9L358.7 524.7L359 526.4L359.4 525.1L359.7 526.1L360.1 527.9L360.4 526.8L360.8 527L361.1 526.8L361.5 526.3L361.8 526L362.2 525.7L362.5 527.2L362.9 524.5L363.2 528L363.6 526L363.9 524.8L364.3 525.2L364.6 524.9L365 526.1L365.3 524.7L365.7 527.4L366 524.6L366.4 522.4L366.7 524.6L367.1 522.7L367.4 525.5L367.8 527.1L368.1 526.4L368.5 523.5L368.8 524.3L369.2 528L369.5 525.8L369.9 525.3L370.2 526.8L370.6 528.8L370.9 527.1L371.3 525.4L371.6 525.6L372 526L372.3 524.2L372.7 523.5L373 525.1L373.4 523.6L373.7 524.8L374.1 525L374.4 528.2L374.8 523.6L375.1 524.6L375.5 524.5L375.8 525.3L376.2 526.2L376.5 523.9L376.9 523.4L377.2 522.2L377.6 523.2L377.9 525.2L378.3 524.5L378.6 522.9L379 523.8L379.3 524.3L379.7 525L380 523.4L380.4 523.8L380.7 521.5L381.1 522.5L381.4 526.4L381.8 520.9L382.1 523.5L382.5 524.3L382.8 523.4L383.2 522.7L383.5 523.8L383.9 523.8L384.2 523.6L384.6 521L384.9 523.5L385.3 522.4L385.6 522.8L386 523.9L386.3 524.4L386.7 524.8L387 522.7L387.4 524.7L387.7 525L388.1 524.9L388.4 525.3L388.8 523L389.1 523L389.5 524.3L389.8 521.2L390.2 523.4L390.5 522.3L390.9 522.5L391.2 520.5L391.6 521.7L391.9 522.8L392.3 524.1L392.6 524.2L393 522.6L393.3 522.4L393.7 521.5L394 523.2L394.4 522.2L394.7 523.4L395.1 525L395.4 522.4L395.8 520.3L396.1 521.2L396.5 520.3L396.8 520.6L397.2 524.1L397.5 522.5L397.9 520L398.2 523L398.6 523.8L398.9 521.5L399.3 521L399.6 521.4L400 522.3L400.3 522.7L400.7 523.4L401 523.3L401.4 523.2L401.7 523.4L402.1 522.4L402.4 519.6L402.8 521.3L403.1 521.8L403.5 520.9L403.8 522.3L404.2 520.8L404.5 520.1L404.9 522.7L405.2 521.7L405.6 521.2L405.9 521.8L406.3 521.9L406.6 521.1L407 518.3L407.3 520L407.7 520.1L408 519.6L408.4 520.6L408.7 521.3L409.1 519.8L409.4 519.2L409.8 521.6L410.1 519.6L410.5 519L410.8 520L411.2 520L411.5 519.1L411.9 520L412.2 519.1L412.6 518.8L412.9 519.3L413.3 519.5L413.6 518.7L414 519" stroke="#000" stroke-width="1.15"/>
<path d="M412.2 519.4L412.7 519.3L413.3 519.1L413.9 518.9L414.5 518.7L415 518.5L415.6 518.3L416.2 518.1L416.7 517.9L417.3 517.7L417.8 517.5L418.4 517.2L418.9 517L419.5 516.7L420 516.5L420.6 516.2L421.1 516L421.6 515.7L422.2 515.4L422.7 515.1L423.2 514.8L423.7 514.5L424.2 514.2L424.8 513.8L425.2 513.5L425.7 513.2L426.2 512.8L426.7 512.4L427.2 512.1L427.6 511.7L428.1 511.3L428.5 510.9L428.9 510.5L429.4 510L429.8 509.6L430.2 509.2L430.6 508.7L431 508.3L431.3 507.8L431.7 507.3L432.1 506.8L432.4 506.3L432.8 505.9L433.1 505.4L433.4 504.9L433.8 504.4L434.1 503.9L434.4 503.3L434.7 502.8L435 502.3L435.3 501.8L435.6 501.3L435.9 500.8L436.2 500.2L436.5 499.7L436.8 499.2L437.1 498.7L437.4 498.1L437.7 497.6L438 497.1L438.2 496.6L438.5 496.1L438.8 495.5L439.1 495L439.4 494.5L439.7 494L440 493.5L440.3 492.9L440.6 492.4L440.9 491.9L441.2 491.4L441.5 490.9L441.9 490.4L442.2 489.9L442.5 489.3L442.8 488.8L443.1 488.3L443.4 487.8L443.7 487.3L444 486.8L444.3 486.3L444.6 485.7L444.9 485.2L445.2 484.7L445.5 484.2L445.7 483.6L446 483.1L446.3 482.6L446.6 482L446.9 481.5L447.1 481L447.4 480.4L447.6 479.9L447.9 479.4L448.2 478.8L448.4 478.3L448.7 477.7L448.9 477.2L449.2 476.6L449.4 476.1L449.6 475.5L449.9 475L450.1 474.4L450.3 473.9L450.6 473.3L450.8 472.8L451 472.2L451.2 471.7L451.4 471.1L451.7 470.6L451.9 470L452.1 469.4L452.3 468.9L452.5 468.3L452.7 467.8L452.9 467.2L453.1 466.6L453.3 466.1L453.5 465.5L453.7 464.9L453.9 464.4L454.1 463.8L454.3 463.3L454.5 462.7L454.7 462.1L454.9 461.6L455.1 461L455.3 460.4L455.5 459.9L455.7 459.3L455.9 458.7L456.2 458.2L456.4 457.6L456.6 457.1L456.8 456.5L457 455.9L457.2 455.4L457.4 454.8L457.6 454.2L457.8 453.7L458 453.1L458.2 452.6L458.4 452L458.6 451.4L458.8 450.9L459 450.3L459.2 449.7L459.4 449.2L459.6 448.6L459.8 448L460 447.5L460.2 446.9L460.3 446.3L460.5 445.8L460.7 445.2L460.9 444.6L461.1 444.1L461.3 443.5L461.5 442.9L461.7 442.4L461.8 441.8L462 441.2L462.2 440.7L462.4 440.1L462.6 439.5L462.7 438.9L462.9 438.4L463.1 437.8L463.3 437.2L463.4 436.7L463.6 436.1L463.8 435.5L463.9 434.9L464.1 434.4L464.3 433.8L464.5 433.2L464.6 432.6L464.8 432.1L465 431.5L465.1 430.9L465.3 430.3L465.5 429.8L465.6 429.2L465.8 428.6L466 428L466.2 427.5L466.3 426.9L466.5 426.3L466.7 425.8L466.8 425.2L467 424.6L467.2 424L467.4 423.5L467.5 422.9L467.7 422.3L467.9 421.7L468 421.2L468.2 420.6L468.4 420L468.6 419.4L468.7 418.9L468.9 418.3L469.1 417.7L469.2 417.2L469.4 416.6L469.6 416L469.8 415.4L469.9 414.9" stroke="#000" stroke-width="1.3"/>
<path d="M468 421.2L468.2 420.6L468.4 420L468.6 419.4L468.7 418.9L468.9 418.3L469.1 417.7L469.2 417.2L469.4 416.6L469.6 416L469.8 415.4L469.9 414.9L470.1 414.3L470.3 413.7L470.4 413.1L470.6 412.6L470.8 412L470.9 411.4L471.1 410.8L471.3 410.3L471.4 409.7L471.6 409.1L471.8 408.5L471.9 408L472.1 407.4L472.3 406.8L472.4 406.3L472.6 405.7L472.8 405.1L472.9 404.5L473.1 404L473.3 403.4L473.4 402.8L473.6 402.2L473.8 401.6L473.9 401.1L474.1 400.5L474.2 399.9L474.4 399.3L474.5 398.8L474.7 398.2L474.9 397.6L475 397L475.2 396.5L475.3 395.9L475.5 395.3L475.6 394.7L475.8 394.1L475.9 393.6L476.1 393L476.2 392.4L476.4 391.8L476.6 391.3L476.7 390.7L476.9 390.1L477 389.5L477.2 388.9L477.3 388.4L477.4 387.8L477.6 387.2L477.7 386.6L477.9 386L478 385.5L478.2 384.9L478.3 384.3L478.5 383.7L478.6 383.1L478.8 382.6L478.9 382L479.1 381.4L479.2 380.8L479.3 380.2L479.5 379.7L479.6 379.1L479.8 378.5L479.9 377.9L480.1 377.3L480.2 376.7L480.3 376.2L480.5 375.6L480.6 375L480.8 374.4L480.9 373.8L481 373.3L481.2 372.7L481.3 372.1L481.5 371.5L481.6 370.9L481.7 370.3L481.9 369.8L482 369.2L482.1 368.6L482.3 368L482.4 367.4L482.6 366.9L482.7 366.3L482.8 365.7L483 365.1L483.1 364.5L483.2 363.9L483.4 363.4L483.5 362.8L483.7 362.2L483.8 361.6L483.9 361L484.1 360.4L484.2 359.9L484.3 359.3L484.5 358.7L484.6 358.1L484.7 357.5L484.9 356.9L485 356.4L485.1 355.8L485.3 355.2L485.4 354.6L485.5 354L485.7 353.4L485.8 352.9L485.9 352.3L486.1 351.7L486.2 351.1L486.3 350.5L486.5 349.9L486.6 349.4L486.7 348.8L486.9 348.2L487 347.6L487.1 347L487.3 346.4L487.4 345.8L487.5 345.3L487.7 344.7L487.8 344.1L487.9 343.5L488 342.9L488.2 342.3L488.3 341.8L488.4 341.2L488.5 340.6L488.7 340L488.8 339.4L488.9 338.8L489 338.2L489.2 337.7L489.3 337.1L489.4 336.5L489.5 335.9L489.6 335.3L489.8 334.7L489.9 334.1L490 333.6L490.1 333L490.2 332.4L490.4 331.8L490.5 331.2L490.6 330.6L490.7 330L490.8 329.5L490.9 328.9L491 328.3L491.2 327.7L491.3 327.1L491.4 326.5L491.5 325.9L491.6 325.3L491.7 324.7L491.8 324.2L491.9 323.6L492 323L492.1 322.4L492.2 321.8L492.3 321.2L492.4 320.6L492.5 320L492.6 319.4L492.7 318.9L492.8 318.3L492.9 317.7L493 317.1L493.1 316.5L493.2 315.9L493.3 315.3L493.4 314.7L493.5 314.1L493.6 313.5L493.7 313L493.8 312.4L493.9 311.8L493.9 311.2L494 310.6L494.1 310L494.2 309.4L494.3 308.8L494.4 308.2L494.5 307.6L494.5 307L494.6 306.4L494.7 305.9L494.8 305.3L494.9 304.7L495 304.1L495 303.5L495.1 302.9L495.2 302.3L495.3 301.7L495.4 301.1L495.4 300.5L495.5 299.9L495.6 299.3L495.7 298.7L495.7 298.1L495.8 297.6L495.9 297L496 296.4L496 295.8L496.1 295.2L496.2 294.6L496.3 294L496.3 293.4L496.4 292.8L496.5 292.2L496.6 291.6L496.6 291L496.7 290.4L496.8 289.8L496.9 289.2L496.9 288.6L497 288.1L497.1 287.5L497.2 286.9L497.2 286.3L497.3 285.7L497.4 285.1L497.4 284.5L497.5 283.9L497.6 283.3L497.7 282.7L497.7 282.1L497.8 281.5L497.9 280.9L498 280.3L498 279.7L498.1 279.1L498.2 278.5L498.3 278L498.3 277.4L498.4 276.8L498.5 276.2L498.6 275.6L498.7 275L498.7 274.4L498.8 273.8L498.9 273.2L499 272.6L499 272L499.1 271.4L499.2 270.8L499.3 270.2L499.4 269.7L499.5 269.1L499.5 268.5L499.6 267.9L499.7 267.3L499.8 266.7L499.9 266.1L500 265.5L500 264.9L500.1 264.3L500.2 263.7L500.3 263.1L500.4 262.5L500.5 262L500.6 261.4L500.7 260.8L500.7 260.2L500.8 259.6L500.9 259L501 258.4L501.1 257.8L501.2 257.2L501.3 256.6L501.4 256L501.5 255.4L501.6 254.9L501.7 254.3L501.8 253.7L501.8 253.1L501.9 252.5L502 251.9L502.1 251.3L502.2 250.7L502.3 250.1L502.4 249.5L502.5 248.9L502.6 248.4L502.7 247.8L502.8 247.2L502.9 246.6L503 246L503.1 245.4L503.2 244.8L503.3 244.2L503.3 243.6L503.4 243L503.5 242.4L503.6 241.9L503.7 241.3L503.8 240.7L503.9 240.1L504 239.5L504.1 238.9L504.2 238.3L504.3 237.7L504.4 237.1L504.5 236.5L504.5 235.9L504.6 235.3L504.7 234.8L504.8 234.2L504.9 233.6L505 233L505.1 232.4L505.2 231.8L505.3 231.2L505.3 230.6L505.4 230L505.5 229.4L505.6 228.8L505.7 228.2L505.8 227.7L505.9 227.1L505.9 226.5L506 225.9L506.1 225.3L506.2 224.7L506.3 224.1L506.3 223.5L506.4 222.9L506.5 222.3L506.6 221.7L506.7 221.1L506.7 220.5L506.8 219.9L506.9 219.4L507 218.8L507 218.2L507.1 217.6L507.2 217L507.2 216.4L507.3 215.8L507.4 215.2L507.5 214.6L507.5 214L507.6 213.4L507.7 212.8L507.7 212.2L507.8 211.6L507.9 211L507.9 210.4L508 209.8L508.1 209.3L508.1 208.7L508.2 208.1L508.3 207.5L508.3 206.9L508.4 206.3L508.4 205.7L508.5 205.1L508.6 204.5L508.6 203.9L508.7 203.3L508.8 202.7L508.8 202.1L508.9 201.5L509 200.9L509 200.3L509.1 199.7L509.2 199.1L509.2 198.5L509.3 198L509.4 197.4L509.4 196.8L509.5 196.2L509.6 195.6L509.6 195L509.7 194.4L509.8 193.8L509.8 193.2L509.9 192.6L510 192L510 191.4L510.1 190.8L510.2 190.2L510.3 189.6L510.3 189L510.4 188.4L510.5 187.9L510.6 187.3L510.6 186.7L510.7 186.1L510.8 185.5L510.9 184.9L511 184.3L511 183.7L511.1 183.1L511.2 182.5L511.3 181.9L511.4 181.3L511.5 180.7L511.6 180.2L511.6 179.6L511.7 179L511.8 178.4L511.9 177.8L512 177.2L512.1 176.6L512.2 176L512.3 175.4L512.4 174.8L512.5 174.2L512.6 173.7L512.7 173.1L512.8 172.5L512.9 171.9L513 171.3L513.1 170.7L513.2 170.1L513.3 169.5L513.4 168.9L513.5 168.3L513.6 167.8L513.7 167.2L513.8 166.6L513.9 166L514 165.4L514.1 164.8L514.2 164.2L514.3 163.6L514.4 163L514.5 162.4L514.6 161.9L514.7 161.3L514.8 160.7L514.9 160.1L515 159.5L515.1 158.9L515.2 158.3L515.3 157.7L515.4 157.1L515.5 156.5L515.6 156L515.7 155.4L515.8 154.8L515.9 154.2L516 153.6L516.1 153L516.2 152.4L516.3 151.8L516.4 151.2L516.5 150.6L516.6 150.1L516.7 149.5L516.8 148.9L516.9 148.3L517 147.7L517.1 147.1L517.2 146.5L517.3 145.9L517.4 145.3L517.4 144.7L517.5 144.1L517.6 143.6L517.7 143L517.8 142.4L517.9 141.8L518 141.2L518.1 140.6L518.2 140L518.3 139.4L518.4 138.8L518.5 138.2L518.5 137.6L518.6 137.1L518.7 136.5L518.8 135.9L518.9 135.3L519 134.7L519.1 134.1L519.2 133.5L519.3 132.9L519.3 132.3L519.4 131.7L519.5 131.1L519.6 130.5L519.7 130L519.8 129.4L519.9 128.8L520 128.2L520.1 127.6L520.1 127L520.2 126.4L520.3 125.8L520.4 125.2L520.5 124.6L520.6 124L520.7 123.4L520.8 122.9L520.9 122.3L521 121.7L521 121.1L521.1 120.5L521.2 119.9L521.3 119.3L521.4 118.7L521.5 118.1L521.6 117.5L521.7 116.9L521.8 116.4L521.9 115.8L522 115.2L522.1 114.6L522.2 114L522.3 113.4L522.4 112.8L522.5 112.2L522.6 111.6L522.6 111L522.7 110.4L522.8 109.9L522.9 109.3L523 108.7L523.1 108.1L523.2 107.5L523.3 106.9L523.4 106.3L523.5 105.7L523.6 105.1L523.7 104.6L523.9 104L524 103.4L524.1 102.8L524.2 102.2L524.3 101.6L524.4 101L524.5 100.4L524.6 99.8L524.7 99.2L524.8 98.7L524.9 98.1L525 97.5L525.1 96.9L525.2 96.3L525.3 95.7L525.4 95.1L525.5 94.5L525.6 93.9L525.7 93.4L525.8 92.8L525.9 92.2L526.1 91.6L526.2 91L526.3 90.4L526.4 89.8L526.5 89.2L526.6 88.7L526.7 88.1L526.8 87.5L526.9 86.9L527 86.3L527.1 85.7L527.2 85.1L527.3 84.5L527.5 83.9L527.6 83.4L527.7 82.8L527.8 82.2L527.9 81.6L528 81" stroke="#000" stroke-width="1.0"/>
<path d="M284.5 528V591M369.3 512V561M336.8 525V546" stroke="#777" stroke-width="0.9"/>
<path d="M108 530.3L109 530.3L110 530.3L111 530.3L112 530.3L113 530.3L114 530.2L115 530.2L116 530.2L117 530.2L118 530.2L119 530.2L120 530.2L121 530.4L122 530.6L123 530.8L124 531L125 531.2L126 531.4L127 531.7L128 531.9L129 532.1L130 532.3L131 532.5L132 532.7L133 532.9L134 533.1L135 533.2L136 533.2L137 533.3L138 533.4L139 533.4L140 533.5L141 533.6L142 533.6L143 533.7L144 533.8L145 533.8L146 533.9L147 534L148 534L149 534.1L150 534.1L151 534.2L152 534.3L153 534.3L154 534.4L155 534.5L156 534.5L157 534.6L158 534.7L159 534.7L160 534.8L161 534.9L162 535L163 535L164 535.1L165 535.2L166 535.3L167 535.4L168 535.4L169 535.5L170 535.6L171 535.7L172 535.8L173 535.8L174 535.9L175 536L176 536.1L177 536.2L178 536.2L179 536.3L180 536.4L181 536.5L182 536.6L183 536.6L184 536.7L185 536.8L186 536.9L187 537L188 537L189 537.1L190 537.2L191 537.2L192 537.3L193 537.3L194 537.3L195 537.4L196 537.4L197 537.4L198 537.5L199 537.5L200 537.6L201 537.6L202 537.6L203 537.7L204 537.7L205 537.7L206 537.8L207 537.8L208 537.8L209 537.8L210 537.8L211 537.8L212 537.8L213 537.9L214 537.9L215 537.9L216 537.9L217 537.9L218 537.9L219 537.9L220 537.9L221 537.9L222 537.9L223 537.9L224 537.9L225 538L226 538L227 538L228 538L229 538" stroke="#000" stroke-width="5.3" stroke-linecap="round"/>
<path d="M106.6 530.2L112 529.6" stroke="#000" stroke-width="6.4" stroke-linecap="round"/>
<path d="M114.7 530V517.5" stroke="#000" stroke-width="3.9"/>
<path d="M206.7 535.5H210.8V540.4H206.7ZM210.2 534.5H214.4V540.4H210.2ZM213.8 533.9H217.9V541.2H213.8ZM217.3 534.3H221.7V540.5H217.3ZM221.1 533.7H224.6V541.7H221.1ZM224 533.6H228.1V541.4H224ZM227.5 532.9H231.2V541.8H227.5ZM230.6 534H234.3V543.5H230.6ZM233.7 533.3H236.7V543.9H233.7ZM236.1 533.9H240.7V546.7H236.1ZM240.1 531H244.5V545.3H240.1ZM243.9 530H247.4V545.7H243.9ZM246.8 531.8H250.7V546.1H246.8ZM250.1 531.6H254.3V546.8H250.1ZM253.7 529.2H257.2V546.7H253.7ZM256.6 524.7H260.5V546.8H256.6ZM259.9 525H261.2V549.2H259.9Z" fill="#000" stroke="none"/>
<path d="M260.7 518.3H262.6V514.7H266.5V553H260.7Z" fill="#000" stroke="none"/>
<path d="M194.4 163L195.7 177L198 193L199.5 206L202.7 229.3" stroke="#000" stroke-width="0.9" stroke-dasharray="3.5 1.6"/>
<path d="M202.7 229.3L202.9 230.1L203 231L203.2 231.8L203.3 232.7L203.5 233.5L203.7 234.4L203.8 235.2L204 236L204.1 236.9L204.3 237.7L204.5 238.6L204.6 239.4L204.8 240.3L204.9 241.1L205.1 241.9L205.3 242.8L205.4 243.6L205.6 244.5L205.8 245.3L205.9 246.2L206.1 247L206.3 247.9L206.4 248.7L206.6 249.5L206.8 250.4L207 251.2L207.1 252.1L207.3 252.9L207.5 253.8L207.7 254.6L207.8 255.5L208 256.3L208.2 257.2L208.4 258L208.5 258.8L208.7 259.7L208.9 260.5L209.1 261.4L209.3 262.2L209.5 263.1L209.7 263.9L209.9 264.8L210.1 265.6L210.2 266.5L210.4 267.3L210.7 268.2L210.9 269L211.1 269.9L211.3 270.7L211.5 271.5L211.7 272.4L212 273.2L212.2 274L212.4 274.9L212.7 275.7L213 276.5L213.2 277.3L213.5 278.2L213.8 279L214 279.8L214.3 280.6L214.6 281.4L215 282.2L215.3 283L215.6 283.8L215.9 284.6L216.3 285.3L216.7 286.1L217 286.9L217.4 287.6L217.8 288.4L218.2 289.1L218.6 289.9L219.1 290.6L219.5 291.3L220 292L220.5 292.8L221 293.5L221.5 294.2L222 294.8L222.5 295.5L223.1 296.2L223.7 296.8L224.3 297.5L224.9 298.1L225.6 298.8L226.2 299.4L226.9 300L227.6 300.6L228.3 301.2L229.1 301.7L229.8 302.3L230.6 302.7L231.4 303.2L232.2 303.6L233 304L233.8 304.3L234.6 304.6L235.4 304.9L236.2 305L237.1 305.2L237.9 305.2L238.7 305.2L239.5 305.1L240.4 305L241.2 304.8L242 304.5L242.8 304.2L243.6 303.8L244.3 303.4L245.1 302.9L245.9 302.4L246.6 301.9L247.3 301.3L248 300.7L248.7 300.1L249.3 299.4L249.9 298.8L250.5 298.1L251.1 297.4L251.6 296.7L252.1 296L252.6 295.3L253.1 294.6L253.6 293.8L254 293.1L254.5 292.4L254.9 291.6L255.3 290.8L255.6 290.1L256 289.3L256.4 288.5L256.7 287.7L257.1 286.9L257.4 286.1L257.7 285.3L258 284.5L258.3 283.7L258.6 282.9L258.9 282.1L259.3 281.3L259.6 280.5L259.9 279.7L260.2 278.9L260.5 278.1L260.8 277.3L261 276.5L261.3 275.6L261.6 274.8L261.9 274L262.2 273.2L262.5 272.4L262.8 271.6L263 270.8L263.3 270L263.6 269.1L263.9 268.3L264.1 267.5L264.4 266.7L264.7 265.9L264.9 265.1L265.2 264.2L265.5 263.4L265.7 262.6L266 261.8L266.2 260.9L266.5 260.1L266.7 259.3L267 258.5L267.2 257.6L267.5 256.8L267.7 256L268 255.2L268.2 254.3L268.4 253.5L268.7 252.7L268.9 251.8L269.1 251L269.3 250.2L269.6 249.3L269.8 248.5L270 247.7L270.2 246.8L270.4 246L270.6 245.1L270.8 244.3L271 243.5L271.3 242.6L271.5 241.8L271.7 241L271.9 240.1L272.1 239.3L272.3 238.4L272.5 237.6L272.7 236.8L272.9 235.9L273.1 235.1L273.2 234.2L273.4 233.4L273.6 232.6L273.8 231.7L274 230.9L274.2 230L274.4 229.2L274.6 228.4L274.8 227.5L275 226.7L275.1 225.9L275.3 225L275.5 224.2L275.7 223.3L275.9 222.5L276.1 221.7L276.3 220.8L276.4 220L276.6 219.2L276.8 218.3L277 217.5L277.2 216.7L277.4 215.8L277.6 215L277.7 214.2L277.9 213.3L278.1 212.5L278.3 211.7L278.5 210.8L278.7 210L278.8 209.2L279 208.3L279.2 207.5L279.4 206.6L279.6 205.8L279.8 204.9L279.9 204.1L280.1 203.2L280.3 202.4L280.5 201.5L280.7 200.7L280.8 199.8L281 198.9L281.2 198.1L281.4 197.2L281.6 196.3L281.7 195.4L281.9 194.6L282.1 193.7L282.3 192.8L282.4 192L282.6 191.1L282.8 190.3L283 189.4L283.1 188.5L283.3 187.7L283.5 186.9L283.7 186L283.9 185.2L284 184.4L284.2 183.5L284.4 182.7L284.6 181.9L284.7 181.2L284.9 180.4L285.1 179.6L285.3 178.8L285.4 178.1L285.6 177.3L285.8 176.6L286 175.9L286.2 175.1L286.4 174.4L286.6 173.6L286.7 172.9L286.9 172.1L287.1 171.3L287.3 170.6L287.6 169.7L287.8 168.9L288 168.1L288.2 167.2L288.4 166.4L288.7 165.4L288.9 164.5L289.1 163.5L289.4 162.6L289.6 161.5L289.9 160.5L290.2 159.4L290.4 158.2L290.7 157.1L291 155.9L291.3 154.8L291.6 153.7L291.9 152.7L292.2 151.7L292.5 150.8L292.9 150L293.2 149.3L293.6 148.8L293.9 148.3L294.3 148.1L294.6 148L295 148.1L295.4 148.4L295.8 148.8L296.2 149.4L296.5 150.1L296.9 150.9L297.3 151.9L297.7 152.8L298 153.9L298.4 154.9L298.7 156L299 157L299.3 158.1L299.6 159.1L299.9 160.1L300.1 161L300.3 162L300.5 162.9L300.7 163.8L300.9 164.6L301.1 165.5L301.3 166.3L301.4 167.2L301.6 168L301.7 168.8L301.9 169.6L302 170.4L302.1 171.2L302.2 171.9L302.3 172.7L302.4 173.5L302.5 174.3L302.6 175L302.7 175.8L302.8 176.6L302.9 177.4L303 178.2L303.1 179L303.2 179.8L303.3 180.6L303.4 181.4L303.5 182.2L303.6 183.1L303.8 183.9L303.9 184.8L304 185.6L304.1 186.5L304.2 187.3L304.3 188.2L304.4 189L304.5 189.9L304.6 190.8L304.8 191.7L304.9 192.5L305 193.4L305.1 194.3L305.2 195.2L305.3 196L305.4 196.9L305.5 197.8L305.6 198.7L305.7 199.5L305.8 200.4L306 201.3L306.1 202.2L306.2 203L306.3 203.9L306.4 204.8L306.5 205.6L306.6 206.5L306.7 207.3L306.8 208.2L306.8 209.1L306.9 209.9L307 210.8L307.1 211.6L307.2 212.5L307.3 213.3L307.4 214.2L307.5 215.1L307.6 215.9L307.7 216.8L307.8 217.6L307.9 218.5L308 219.3L308 220.2L308.1 221L308.2 221.9L308.3 222.7L308.4 223.6L308.5 224.4L308.6 225.3L308.7 226.1L308.8 227L308.8 227.8L308.9 228.7L309 229.5L309.1 230.4L309.2 231.2L309.3 232.1L309.4 232.9L309.5 233.8L309.6 234.6L309.7 235.5L309.7 236.3L309.8 237.2L309.9 238L310 238.9L310.1 239.7L310.2 240.6L310.3 241.4L310.4 242.3L310.5 243.2L310.6 244L310.7 244.9L310.8 245.7L310.9 246.6L311 247.4L311.1 248.3L311.1 249.1L311.2 250L311.3 250.9L311.4 251.7L311.5 252.6L311.6 253.4L311.7 254.3L311.8 255.1L311.9 256L312 256.9L312.1 257.7L312.2 258.6L312.3 259.4L312.4 260.3L312.5 261.1L312.6 262L312.7 262.9L312.8 263.7L312.8 264.6L312.9 265.4L313 266.3L313.1 267.2L313.2 268L313.3 268.9L313.4 269.7L313.5 270.6L313.6 271.5L313.7 272.3L313.8 273.2L313.9 274L314 274.9L314.1 275.8L314.2 276.6L314.3 277.5L314.3 278.3L314.4 279.2L314.5 280.1L314.6 280.9L314.7 281.8L314.8 282.6L314.9 283.5L315 284.4L315.1 285.2L315.2 286.1L315.3 286.9L315.4 287.8L315.5 288.7L315.6 289.5L315.7 290.4L315.8 291.2L315.9 292.1L316 292.9L316.1 293.8L316.2 294.7L316.3 295.5L316.4 296.4L316.5 297.2L316.6 298.1L316.7 298.9L316.8 299.8L316.9 300.6L317 301.5L317.1 302.3L317.2 303.2L317.4 304.1L317.5 304.9L317.6 305.8L317.7 306.6L317.8 307.5L317.9 308.3L318.1 309.2L318.2 310L318.3 310.9L318.4 311.7L318.6 312.5L318.7 313.4L318.8 314.2L318.9 315.1L319.1 315.9L319.2 316.8L319.4 317.6L319.5 318.5L319.6 319.3L319.8 320.1L319.9 321L320.1 321.8L320.2 322.7L320.4 323.5L320.5 324.3L320.7 325.2L320.8 326L321 326.8L321.1 327.7L321.3 328.5L321.4 329.4L321.6 330.2L321.7 331L321.9 331.9L322.1 332.7L322.2 333.5L322.4 334.4L322.5 335.2L322.7 336.1L322.9 336.9L323 337.7L323.2 338.6L323.3 339.4L323.5 340.3L323.7 341.1L323.8 342L324 342.8L324.1 343.7L324.3 344.5L324.5 345.4L324.6 346.2L324.8 347.1L324.9 347.9L325.1 348.8L325.3 349.6L325.4 350.5L325.6 351.4L325.7 352.2L325.9 353.1L326 353.9L326.2 354.8L326.4 355.7L326.5 356.5L326.7 357.4L326.8 358.3L326.9 359.2L327.1 360.1L327.2 360.9L327.4 361.8L327.5 362.7L327.7 363.6L327.9 364.4L328 365.3L328.2 366.2L328.3 367.1L328.5 367.9L328.7 368.8L328.9 369.7L329.1 370.5L329.3 371.4L329.5 372.3L329.7 373.1L329.9 373.9L330.2 374.8L330.4 375.6L330.7 376.4L331 377.3L331.2 378.1L331.5 378.9L331.9 379.7L332.2 380.4L332.5 381.2L332.9 382L333.3 382.7L333.7 383.5L334.1 384.2L334.5 384.9L335 385.6L335.4 386.3L335.9 387L336.4 387.7L337 388.3L337.5 389L338.1 389.6L338.6 390.3L339.2 390.9L339.9 391.5L340.5 392.1L341.1 392.7L341.7 393.3L342.4 393.9L343 394.5L343.7 395L344.3 395.6L345 396.2" stroke="#000" stroke-width="1.1" stroke-dasharray="1.1 2.6"/>
<path d="M345 396.4L345.5 395.8L346 394.1L346.6 395.6L347.1 395.3L347.6 393.5L348.1 392.8L348.6 391.3L349.1 392.5L349.6 393.2L350.1 391.3L350.6 391.1L351.1 390L351.6 388.4L352.1 389.5L352.6 387.1L353 387.3L353.5 387L353.9 386.9L354.4 385.9L354.8 385.3L355.2 383.9L355.6 383L356 383.3L356.4 382.1L356.8 381.1L357.2 380.5L357.5 380.4L357.9 378.8L358.2 378.5L358.6 377.6L358.9 378.2L359.2 377.7L359.5 378.2L359.8 375.1L360.1 374.9L360.4 375.4L360.6 373.9L360.9 373.1L361.2 373.9L361.4 371.7L361.6 370.4L361.9 369.6L362.1 370.1L362.3 369.3L362.6 367.4L362.8 367L363 367.3L363.2 366.6L363.4 365.1L363.6 365.2L363.7 364.5L363.9 362.1L364.1 362.4L364.3 362.1L364.4 360.7L364.6 358.9L364.8 359.5L364.9 359.4L365.1 359.3L365.3 355.9L365.4 358.5L365.6 355.2L365.7 355.9L365.9 355.4L366 354.5L366.1 353.1L366.3 351.5L366.4 352L366.6 350.3L366.7 348.3L366.8 351.3L367 349.1L367.1 349.2L367.2 346.5L367.3 347.5L367.5 346.8L367.6 346.1L367.7 344.2L367.8 342.7L367.9 342.6L368.1 340.5L368.2 340.1L368.3 340.6L368.4 339.2L368.5 339L368.6 338.3L368.7 339L368.8 337.8L368.9 336.2L369 336.3L369.2 334.2L369.3 333.8L369.4 333.9L369.5 331.7L369.6 331.6L369.7 330.1L369.8 330.4L369.9 330.8L370 328.4L370.1 328.3L370.2 326.8L370.3 325.9L370.4 325.1L370.5 326.2L370.6 326.2L370.7 324.1L370.8 322.5L370.8 322.8L370.9 321.3L371 321.4L371.1 320.3L371.2 319.6L371.3 319.1L371.4 317.5L371.5 316.9L371.6 315.3L371.7 315.4L371.8 314L371.9 314.2L372 312.9L372.1 312.9L372.2 312.4L372.3 310.4L372.4 310.1L372.5 309.2L372.6 309.7L372.7 309.6L372.8 308.3L372.9 306.7L373 307.3L373.1 304.4L373.2 305.8L373.4 303.6L373.5 301.4L373.6 304.4L373.7 303L373.8 300.4L373.9 300.5L374 299.5L374.1 299L374.2 297.1L374.3 297L374.4 297.1L374.6 296.1L374.7 296.1L374.8 294.6L374.9 295.4L375 292.6L375.1 292.5L375.2 290.3L375.3 290L375.4 291.1L375.6 288.7L375.7 289L375.8 287.9L375.9 286.5L376 286.2L376.1 285.4L376.2 284.7L376.3 284.8L376.5 284L376.6 282.4L376.7 281.4L376.8 281.5L376.9 280.5L377 280.6L377.1 281L377.2 279L377.3 277.7L377.5 276.8L377.6 275.6L377.7 274.9L377.8 274.1L377.9 273.7L378 273L378.1 273.1L378.2 271.5L378.3 271L378.4 269.5L378.5 270.8L378.6 269.2L378.7 269.4L378.9 268L379 267.7L379.1 265.8L379.2 265.7L379.3 266.4L379.4 262.9L379.5 263.9L379.6 263.5L379.7 261.9L379.8 261.4L379.9 261L380 258.9L380.1 258.9L380.2 257.3L380.3 256.7L380.4 256L380.5 255.6" stroke="#000" stroke-width="1.25" stroke-dasharray="3 0.6"/>
<path d="M390.3 123.3l0.1 1M383.6 236.3l0.1 0.7M390.1 129.6l0.1 1.8M380.3 244.1l-0.2 1.8M391.7 122.6l0 1.1M382.6 237.8l-0.2 0.9M390.8 163l0.2 1.9M385.9 217.1l-0.2 1.1M388.6 69.5l-0.4 1.1M386.8 133.1l-0.5 1.6M390.3 115.7l-0.1 1.8M388.9 182.5l0 1.8M386.8 173.1l-0.2 1M386.6 136.2l-0.2 1.2M389.2 127.3l-0.2 1.1M384.3 194.7l0.1 1M389.8 173.2l0 1.6M382.9 241.4l0 1.6M388.2 100.9l-0.3 1M390 93.4l-0 0.7M384.2 220.9l-0.1 0.9M383.1 239.2l-0.3 1M386.9 162.8l-0.3 1.4M385.8 202l-0.3 1.6M384.2 212.5l-0.5 1.6M379.5 261.1l-0.2 1.1M388.6 174.1l-0.3 1M389.6 142.8l-0.5 1.3M386.4 160.8l0.2 0.7M389 128.6l-0.5 1.2M380.4 251.9l-0.2 0.9M388.1 144.8l0 1.6M385.1 223.2l-0.3 0.7M390.1 173.5l-0.2 1.2M382.5 239.7l-0.3 1M378.9 270.5l-0.2 0.8M386 200.9l-0.4 1.8M386 212l-0.4 1.8M383.8 217.5l-0.4 1M389.3 188l0 1.3M385.2 163l-0.2 1.3M388.1 151.4l-0.3 1.1M390.4 119.4l-0.4 0.8M385.5 175.9l-0.2 1M389 170.9l0.1 2M386.6 156.3l-0.3 1.2M379.6 262.2l-0 1M387.7 188.7l-0.2 1.9M388.7 190l-0.4 1.9M389.1 149l0.1 1.9M381.4 237l-0.2 0.7M385.8 81.8l-0.3 0.7M390.1 110.3l-0.4 1.3M381.7 251.7l0.1 1.2M384.3 230.8l0.2 1.8M385.2 194.8l0.2 1.9M391 139.5l-0 1.8M391.5 116.1l0.1 1.1M387.2 138.4l-0.3 0.8M379.1 269.9l0.2 1.3M389.6 70.4l-0.4 1.8M379.8 257.4l-0.1 0.9M386.1 181.8l-0.2 1.1M388.9 117.9l0.1 0.9M382.2 249.1l-0.2 1.6M390.9 126l-0.3 2M385.5 186.5l0.1 1.1M391.9 92.2l0.1 1.7M378.5 266.9l-0.3 2M383.2 174.9l-0.2 0.8M386.1 215.1l0.2 0.7M387.7 119.2l0.1 1.8M384.3 218.5l0.1 1.3M387.4 141.5l-0.2 1.7M381.4 251l-0.1 1.7M389.8 136.2l-0.1 1.5M392.1 91.5l-0.5 2M380.2 260.7l0.1 0.9M384 156.9l-0.1 1.8M391.2 79.1l0.1 1.6M388.1 123.8l-0.3 1.8M386.6 152.3l-0.3 0.7M391.6 136.3l-0.2 1.7M387.9 184.3l0 1.2M389.6 164.4l-0.1 1.2M381.5 251.2l-0 1.4M393.1 86.6l-0.3 1.3M385.4 223.4l0.1 1.5M389.8 87l0.1 1.7M389.2 199.2l-0.1 1.2M388.2 181.6l0 1.8M381 256.5l-0.2 1.7M384.2 221.6l0.1 1.3M389.9 76.1l0.1 1.3M391.1 123.8l-0.3 1M387.2 181.4l0.1 1.8M391.4 119.8l-0.2 1.5M384.4 226.5l0.1 1.3M389.1 94.9l-0.3 1.7M389 187.8l0 0.9M385.2 219.5l0.1 1M381.7 254.2l-0.2 1.4M389.6 159.4l-0.3 1.3M390 101.9l-0.2 0.8M385.2 210.3l0.1 2M386 197.7l0.1 1.3M390.3 126.7l-0.1 2M387.2 171.9l0.1 1.1M388.6 72.8l-0.3 0.9M380.2 260.9l-0.1 1.1M386 211.7l-0.3 1.2M381.2 242l-0.3 0.8M386.6 169l-0.1 1.6M384.7 174.8l-0.3 1.5M391.9 87.8l-0.1 1.7M384.3 230.8l-0.2 1.9M381.4 257l0.1 1.4M387.6 196l-0.1 0.9M387.9 141.4l-0.2 0.9M389.8 122.3l-0.5 0.9M378.2 271.4l-0.4 1.4M389.1 111.4l-0.5 1.7M383.3 239l-0.2 1.4M388 116.5l0.1 1.1M392 69.7l-0.5 1.6M392.6 83.1l-0.3 1.6M381.1 243.8l-0.4 1.3M388 200.1l0 0.9M388.7 170.5l-0.1 1.7M387.4 109.1l-0.3 0.9M383.2 160l-0 0.8M387.1 219.6l-0.4 1.2M385.8 174.9l-0.5 1.9M380.8 253.5l0 1.2M383.4 236.4l-0.1 1.1M382.9 247l-0.5 1.3M382.2 240.5l0 0.8M385.8 209.4l-0 1.4M389.3 137.1l-0.1 2M386.7 170.9l0.1 0.9M382.8 219.7l-0.1 1.5M385.5 176.7l-0.2 1.1M387.7 164.4l-0.5 1M389.3 87l0 1.8M385.5 221.2l-0.2 0.8M382 244.2l-0.2 1.5M390.2 99.5l-0.3 1.3M391.2 121.5l-0.1 1.1M389.7 121.7l-0.2 1.2M381.1 257.3l-0.3 1.7M382.5 239.6l0.1 2M387.2 202.8l0 1.4M388.6 94.3l-0.4 1.7M390.9 118.3l-0.4 1.7M379.9 264l0 2M389.8 167.6l-0.4 0.8M386.2 196.8l-0.2 1.9M379.7 259.3l0.1 1.9M391.9 100.5l-0 1.6M382.1 239.6l-0.2 1.4M382.4 244.6l0 0.9M391.9 124.9l-0.1 1M392.3 125.8l-0.3 0.8M383.7 226.1l-0.1 1.3M389.2 79.1l0.2 1.9M382.6 241.6l-0.2 1.7M387.6 103.6l0.1 1.9M385.7 148.5l0.2 1.9M390.7 172.8l-0 1.4M385.2 166.9l-0.3 1M390.8 79.1l-0.5 1.9M384.1 216.7l-0.1 1.2M387.5 113.8l0 1.6M388.9 168.8l-0.1 1.8M386.3 207.5l-0 1.9M380.8 250.7l-0.4 2M388.4 176.7l0 0.9M390.9 82.4l0.1 0.9M392.7 85.7l-0 1.8M383.2 211.8l-0 0.7M386.2 220.2l-0.4 1.6M390.3 86l-0.3 1.5M389.4 70.9l0 0.8M386.8 138.2l-0.2 0.8M391 89.3l-0.3 1.4M379.1 264.5l0.1 1.1M390 146.1l0.2 1.1M392.4 81.7l-0.2 1.1M386.2 198.1l-0.4 1M386.4 219.1l-0.3 1.3M388.6 116.9l-0 1.4M384 212l-0.4 1M389 163.9l0.1 0.7M386.2 196.2l0 0.9M387.1 177.2l0.2 2M379.5 257.2l-0.3 1.4M385.5 201.3l-0.5 1.5M388.4 71.8l-0 1.1M384.8 227.3l0.1 1.5M384.8 202.8l-0.5 1.9M389.9 123.3l-0.4 1M381.4 246.3l0 0.9M390.2 114.3l0 2M388.1 160.1l0.2 1M382.5 229.6l-0.2 1.6M384.9 215.1l-0.5 0.9M390.7 129l-0 1.9M386.4 220.8l0.1 1.2M379.2 269.2l0.2 1.7M378.6 271.4l-0.2 1.6M385.5 163.4l-0.5 1.1M382.6 224.6l-0.4 1.8M391.1 117.1l-0.2 1.9M388.6 109.8l0.1 1.9M380.8 251.5l0.1 1M384.3 229l-0.3 1.2M387.3 117.8l-0.2 1.9M381.9 246.5l-0.1 1.3M390.1 113.9l-0.3 1M388.8 173.7l-0.4 1.7M387.9 159.1l-0.2 0.9M387 183.3l0 1.9M391.7 93.5l-0 1.4M386.5 101.5l0.1 1.6M381.9 232.6l-0.1 1.8M385.4 204.7l0.1 1.2M382 247.9l-0.1 1.2M390.3 104.1l-0.4 1.9M385.4 220.2l0.1 0.7M387.6 166.3l0 0.7M389.4 137.6l-0.1 1M387.1 149.6l0 1.6M388.4 120l0.2 1.8M387.4 199.6l-0.1 1.6M390.6 154.1l-0.3 1.3M388.4 155.8l-0.2 0.7M389.8 126.7l-0.1 1.8M382.5 203.8l-0.2 1M383 240.4l-0.5 0.9M380.3 264.2l0.1 1.5M387.7 189.6l-0.2 1M384.6 205.1l-0.3 1.6M383.8 213.1l0.2 1.3M386.5 197.2l-0.4 0.7M384.6 213.4l0.1 1.5M390.6 81l-0.1 1.8M387.6 156.2l-0 1M386.3 209.9l-0.5 1M391.5 108.7l-0.4 1M389.9 119.1l0.1 1.5M383.2 242.5l-0.2 1.8M388.3 97.8l-0.1 1M386 122.7l-0.2 1M387.5 113.6l-0.1 1.5M388.4 132.8l0 1.8M382 218.1l-0.4 1.4M387.5 192.7l-0.2 1.4M386.4 183.4l-0.2 1.8M384.8 234.9l-0.1 1.7M380.1 251.6l-0.3 0.8M386.4 202.5l-0.2 1.2M390.9 108l-0 0.8M390.9 134.8l-0.1 1.9M383.4 233.6l-0.5 1.9M387.1 147l0.2 1.3M391.8 106.5l-0.2 1.9M386.5 172.2l0.2 1M391.3 149.5l-0.1 1M388.3 163.8l-0.5 0.8M393.8 100l-0.2 1.7M386.1 193.6l-0.3 0.7M378.7 271.5l-0.2 1.9M389.7 114.2l-0.3 1M390.2 158.2l-0.2 1.4M390.4 75.7l-0.5 2M382.5 218l-0.3 1.6M389.4 144.1l-0.3 1.9M389.8 86.4l-0.3 1.8M387.8 93.3l-0.1 1.8M388.8 99.8l-0.5 1M378.8 265l0.1 0.9M379 269l-0.4 1M385 175.6l0.2 1.8M381.6 253.8l-0.4 1.5M388.6 174.3l-0.4 0.8M390.6 130.2l-0.4 1.6M390.9 91.6l-0 1.6M385.7 215.2l0 1.4M392.7 85.6l-0.4 1.7M388.1 176.7l0.1 1.3M386.9 203.1l0.1 1.1M387.2 202.4l-0 1.8M378.8 268.1l-0.1 1.9M386.3 213.1l-0.2 0.8M385.4 191.9l0 1.7M381.4 259.1l-0.2 1.9M382.1 238.4l-0.3 1.1M388.4 112.3l0.1 0.9M378.5 266.8l-0.5 0.8M380.9 258.2l-0.3 1.6M393.4 109.2l-0.5 1.6M382.3 244.6l-0.4 1M386.4 201.9l-0.3 1.1M388.8 163.1l0.1 1.4M384.7 199.1l-0 1.3M385.9 168.8l-0.3 0.9M382 246.3l0.2 1.8M385.8 186.4l-0 1.7M385.4 128l-0.5 1.3M388.4 82.8l0.1 1.5M389.7 89.1l-0.2 1.5M387.8 158.7l0.2 1.9M384.1 227.2l-0.1 0.9M379.5 262.9l-0.2 1.4M389.2 151.6l-0.3 1.1M389.3 89.9l-0 1.3M384.2 198.9l0.1 1.1M387.5 147.1l-0.2 1.7M388.6 159.6l-0.1 0.8M392.5 88.3l0.2 1.5M378.5 271.9l-0.1 0.9M388.7 158.6l-0 1.7M385.5 183.1l-0 1.5M379.9 257.3l0.1 2M387.7 90.3l-0.3 1.7M385.6 192.2l-0.2 1M391.9 83.2l0.1 1M389.2 133.7l-0.1 1.7M391.9 79.2l-0.4 1.5M386.4 119.4l-0.3 1.3M387.3 182.5l-0.3 0.8M389.3 131.5l-0.3 0.8M388.1 108.5l-0.5 1.8M381.4 244.3l0.1 1M387.7 128.5l-0.2 0.8M387.6 171.7l-0.1 1.8M391.1 79.5l0.2 1.2M386.9 207.2l0 1.2M389.6 88.4l-0.2 1.6M386 213.2l-0.2 0.9M391.2 79.4l0.1 1.3M389.9 110.3l0.1 2M381.5 252.1l-0.1 1.5M388.6 191.1l-0.3 1.2M388.5 82.3l-0.1 1.7M392.8 102.3l0.2 0.8M387.3 201.3l0.1 1.2M390.8 70.4l-0.3 1.4M387.2 150.5l0.2 0.8M387.9 206.6l-0.1 1.7M383 208.5l-0.4 2M379 271.2l-0.2 1M388.6 143l-0.5 1.4M383.6 214.1l-0.5 1.8M381.7 244.6l-0.2 0.7M390.9 93.7l0.1 0.8M388.6 106.3l-0.3 1.5M388.3 112.5l-0.3 0.8M388 135.3l-0.4 1.2M388.7 184.8l-0.2 1.6M388.9 131.3l-0.1 1.4M390 158.6l0.1 1M385.7 214.9l-0.3 1.9M380.6 256.1l0.2 1.6M384.8 189.9l-0.1 0.8M389.6 117.9l0.2 1.2M383.8 198.5l-0.3 0.9M383 247.1l-0.2 1.9M388.5 148.2l-0.2 1.3M390.3 155.1l-0.4 1.1M385.8 157.2l-0.2 1.3M382 228.2l0 1.2M383.9 137.7l-0.5 1.6M388.4 147.2l-0 1.4M378.6 270l0.1 1.4M388.4 156.3l-0.1 1.1M380.8 261.5l0.2 1.1M389.8 150.2l-0.3 1.4M388.7 91.6l0.2 1.6M391.3 96.8l-0.3 1.7M388.4 166.3l-0.4 1.1M383.3 238.9l-0.2 1.3M380.8 252.3l0.2 1.3M390.5 140.6l0 1M385.4 221.5l-0.3 1.3M386.3 197.3l-0.5 1.1M389.1 106.6l-0.5 0.7M390.2 89l-0 1.2M385.4 212.3l-0.2 1.7M388.5 179l-0.1 0.7M388.3 122.9l-0.2 1.8M390.6 89.8l-0.5 1.4M392.5 139.8l0.2 1.1M383.6 231.2l-0.5 1.9M390.5 114.6l-0.4 1.4M388.6 184.7l-0.5 1.5M389.4 76.5l-0.4 0.7M387 199.4l0.1 0.8M388.9 143.8l-0.1 1.5M387.6 155.1l-0.3 1M382.1 246.6l0 1.2M392.2 136l-0.4 1.9M389.9 118l-0.3 1.1M380.7 248l0.1 2M383.2 240.9l0 1M381.4 236.8l-0.3 1M389.3 96.9l-0.1 1.4M389.2 80.2l-0.3 0.9M387.1 106.7l-0.4 1.2M387 204.3l-0 1.7M388.3 145.8l0.1 1.1M385.5 232.1l-0 1.8M385.5 208.2l-0.3 1M381.2 254.2l0.1 1.9M383.7 232.4l-0.4 1.7M387 202.1l0.1 2M389.4 102.5l-0.5 1.8M388.1 183.9l0.1 1.5M386.8 215.8l-0.1 1.4M391.1 71.3l-0.4 1.2M388.7 117.2l-0.2 1.9M386 200.2l-0 1.6M393.4 69.2l-0.4 0.9M385.1 172.5l-0.3 1.7M380.1 260.9l-0.2 1.8M391 83.4l-0.2 1.5M387 158.4l-0.2 0.9M389.1 120.7l0.2 0.9M382.2 243.6l-0.1 1.7M386.5 163.6l-0.4 1.8M381.4 252.9l-0.2 0.7M389.9 130.2l-0.2 1.3M381.3 253.3l-0.3 1.2M384.8 201.8l0 1.2M391.3 70.2l-0.2 1.7M390.7 119.3l0.1 1.1M385.9 188.9l-0.1 1.7M390.7 95.8l0.2 1.3M386.6 134.1l-0.2 2M380.9 236.9l-0.4 1.2M381.9 248.4l-0.4 1M390.5 154.4l0 1.3M388.6 132l-0.4 1.2M383.1 240.3l-0.3 1.7M385.5 216.9l0 0.9M380.6 261l-0.3 1.5M392.2 104.4l-0.4 1.8M391.3 92l-0.2 1.5M379.8 264.7l-0.1 1.9M385.6 222.4l-0.1 0.7M388.7 107l0 1M389.7 136.5l0.1 1.6M382.8 246.1l-0.4 1.6M386 88.9l0 1.9M388.2 173.9l-0.1 1.6M386.9 142.7l0.1 1.2M383 231.3l0.2 1.8M378.7 269.9l0 1.2M379.4 265.5l-0.5 0.7M387.4 163.2l-0.2 1.9M387.7 174l-0.5 0.8M387.9 175.3l-0.4 1.8M382.5 242.1l-0 1.4M391 98.5l0.2 1.9M390.8 69.5l0.1 1.6M393.2 109.9l-0.3 1.8M388.3 82.4l-0.1 1.5M383.4 220.8l0.2 0.7M380.7 247.6l-0.2 1.7M390.1 119.4l-0.2 1.2M386.2 210.8l-0.1 1.6M388.4 172.3l-0.3 1.2M381.8 253.5l-0.4 1.6M390.2 78.3l-0.3 1.9M386.3 196.8l-0 1.2M387.5 142.3l-0.4 1.9M385.9 208.7l-0.3 0.9M387.8 166.8l-0.5 1.7M386.3 80.5l-0.1 1.4M384.6 140.6l-0.1 1.4M390 119.7l-0.4 1M383.6 190.3l-0.3 1.1M391.6 99.3l-0.4 1.7M388.4 177.6l-0.1 0.8M388.2 124.2l-0.4 2M387.1 138.7l-0.5 1.2M379.8 244.8l0.1 1.2M379 265.8l0 1.2M380.8 241.2l-0.4 2M382.3 202.5l-0.4 1M380.1 260.2l-0.4 1.9M391.5 135.8l-0.4 2M381.8 243.8l0 1.9M389.4 122.6l-0.2 0.9M391.3 74.3l-0.3 1.5M392.8 71.7l-0.3 0.9M390.6 74.2l-0.1 1.2M390.1 134.7l-0.2 1.1M388.2 124.6l-0.3 0.8M388.5 154.4l-0.3 1.8M389.9 154.4l-0.3 1.8M382.3 237.2l-0.4 1M383 229.1l-0.4 1M387.5 193.6l-0.1 1.8M387.2 158l0.2 1.6M386.3 208.7l-0.4 1.6M389 120.3l0.2 1.9M386.3 191.8l-0.2 0.9M387.9 148.3l-0 0.8M382.8 229.8l-0.3 1.1M384.7 179.1l0.1 1.2M389.7 148.3l0.1 1.7M382 247.1l-0.2 1M379.8 265.4l-0.3 1.5M379 270.1l-0 1.4M381.9 233.4l-0.3 1.2M379.1 267.9l-0.4 1.1M380.8 232l-0.2 1.4M385.5 202.9l0.1 1.5M381.8 248.1l-0.4 1.3M384 210.4l-0.4 2M390.7 92.1l-0.4 1.8M386.3 193.6l-0.2 2M391.1 85.6l-0.2 1.1M387.8 95.5l-0.3 0.9M388 186.5l0.1 1.6M386.9 186l-0.4 1.9M388.7 139.3l-0.3 1.5M388.6 158.4l-0.3 1.3M389 152.4l-0.1 1.1M386.9 173l0.1 1.6M387.4 200.7l-0.4 1.9M383 232.5l0.1 1.2M385 202l-0.4 1.8M388.3 171.1l-0.1 0.8M378.9 270.5l-0.3 0.9M388.2 138.9l0.1 1.3M386.2 174l-0.5 0.8M379.1 262.1l-0.3 1.9M386.1 198.8l-0.5 0.8M388.6 158.7l-0.4 1.1M387.7 132.5l-0.3 1.1M389 167.7l0.2 0.8M388 156.5l-0.5 0.7M389.3 89.1l0.1 1.2M384.2 210l-0.3 1.2M388.6 161l0.1 0.8M385.2 165.7l-0.3 1.6M384.9 213.6l-0.4 1.3M393.1 110.2l-0.2 1.4M383.4 226.3l0.2 0.9M385.4 71.9l-0.3 1M389.3 169.4l-0 1.3M379.6 261.9l-0.1 1M386.1 152.3l-0 1.4M381.3 253.5l-0.3 1.8M382.2 248.4l0.2 0.9M387.6 119.2l0.1 1.6M388.3 204.3l-0.5 0.8M388.4 108.7l-0.4 1.3M393.4 110l0 1.2M388.4 163.8l-0.2 1.7M386.6 141.7l-0.3 1.1M386.7 142.3l-0.4 1.3M381.6 245.3l-0.3 0.8M388.6 120.8l-0.4 1.3M387.7 99.8l-0 1.3M388.4 164.4l-0.2 1.3M390.3 138.5l-0.3 1M390.1 138.9l-0.1 1.8M388.2 142.2l-0.3 1.8M384.5 204.5l-0.4 1.2M389.2 192.3l-0.1 1.2M379.3 264.4l-0.1 0.8M380.3 260.4l-0.5 1.5M389.5 180.9l-0.2 1.6M386.2 201.9l-0.4 0.8M388 124.6l-0.1 1M386.9 157.8l-0.1 1.3M382.7 213.2l-0.5 1.5M389 162.2l-0.5 1.5M387.5 178.5l-0.4 1.8M388 202.9l-0.1 1.1M389.4 136l-0.5 1M386.7 205.6l-0.4 1M382.9 232.3l-0.1 1.3M381.1 233.1l-0.3 1.4M385.4 173.9l-0.2 1.4M382 249.3l0.1 0.8M380.4 260.3l-0.5 0.7M387.7 186.1l-0 1.4M387.2 72.2l-0.1 1M391 140.8l-0.5 1.2M388.3 156l-0.4 1.2M387 137l-0.4 2M380.7 244.9l-0.5 0.8M382.3 248.5l-0 0.8M386.1 212.4l-0.3 1.4M387.5 133.6l0.2 1.5M390.3 86.2l-0.4 1.2M388.8 189.7l0 1.1M381 251.8l0 1.9M384.7 200.1l-0.4 1.1M382 250.8l-0.1 0.8M389.6 112.3l0.2 1.4M383.3 216.6l-0.1 1.2M381.4 254.1l-0.3 0.9M390.2 119.4l-0.3 1.1M388.3 172.6l-0.4 1.9M388.8 184.6l-0.1 0.9M388.8 109.6l0.1 1.1M390.4 116.5l-0.3 1.5M380 257.7l-0 1.1M390.1 168l-0.4 0.9M385.2 218.4l-0.3 1.8M386.7 117.8l-0.4 1.2M389.9 113.7l-0.1 1M380.4 238.4l0.2 1.7M389.5 129.7l-0.4 1.4M391.7 95.8l0 0.9M388.1 182.2l-0.1 1.8M388 158.9l0.1 1.3M385.5 187.6l-0.1 1.5M384.7 195.6l-0.5 0.9M382.8 237.9l-0.1 1M388.7 170.5l-0.4 1M387 101.6l-0.2 1.1M386.9 208.6l-0.5 1.6M388.5 179.9l-0.1 1.9M378.4 268.6l-0.2 1.1M386.4 172.3l-0.5 1.3M387.4 211.1l-0.4 1.8M389.7 129l-0.1 1.1M390.7 123.3l0 1.5M389.4 91.1l-0.5 0.8M387.7 145l-0.5 1.8M387.1 200.2l-0.1 1.2M389.8 119.2l0.1 0.8M391.1 74.8l-0.2 1.6M388.7 172.9l0.1 0.9M391.1 94.1l-0.3 1.7M379.6 262.1l-0.1 1.4M387.8 170.6l-0.1 0.8M384.1 229.3l-0.2 1.4M389.5 151.1l-0 1.5M381 251.3l-0 2M390 123.6l-0.3 0.8M391.8 93.2l-0.1 1.6M390.5 146.7l0.1 1M392.2 72.2l-0.4 1.4M383.1 242.4l-0.5 1.2M387.6 126.1l-0.5 1.1M386.3 186.7l-0 1.8M385.7 215.5l-0.3 1.8M387.1 184.5l-0.4 1M393.4 91.5l-0 1M387 120.1l-0.4 1.2M388.7 208.9l-0.4 1.4M385.4 166.9l-0.1 1.1M389.6 158l0.1 0.7M390.4 138.1l0.1 1.2M387.6 108.6l0.1 1.4M393.1 75l-0.1 1.3M388.4 97.7l0 1.6M390.4 114.5l-0.2 1.1M391.8 142.7l0.2 0.7M391.8 75.7l-0.3 1M380.8 243.1l-0.2 1.9M390.9 72.2l-0.4 1.9M382.9 237l-0.2 1.7M381.3 253.4l-0.5 1.3M388.2 142.2l-0.2 0.7M381.9 250.6l-0.2 1.9M385.7 111.8l-0.2 1.3M388.8 145.4l-0.4 0.9M386.6 126.5l-0.2 1.8M386.7 191.1l-0.3 1.3M387.9 176.8l-0.3 1.1M390.3 141.6l0.2 0.9M389 116.8l-0.2 0.9M390.1 144.5l-0.3 1.9M384.1 233.3l-0.4 1.2M382.3 250.2l-0.5 1.6M386.3 210.5l-0 1.3M389.3 103.7l-0.4 1.8M389.2 163.9l-0.2 0.9M388.7 161.7l-0 1.8M384.3 137.3l0.1 1.6M385.9 207.6l0.1 0.9M390.1 126.1l-0.4 1.8M381.6 254.5l-0.1 0.8M383 230.4l-0.2 1.8M379.8 234.5l-0.4 1.1M385.7 219.1l-0.3 1.6M385.5 218.1l-0.3 0.8M380.9 245.5l-0.3 1.8M384.9 183.3l-0.1 1.3M388.9 121.5l-0.4 1.2M389.5 82.9l0.2 0.7M382.3 251.1l-0.5 1.7M388.9 92.5l-0.5 0.9M381.1 255.1l-0.3 1.7M382.9 242l-0.4 1.1M391.3 96.5l-0.4 1.8M384.6 156.2l-0.4 1.9M384.4 202.1l0.1 1.5M383.5 236.4l-0.3 1.1M390.4 93.9l0 0.9M391.5 78.6l0 1.7M379.3 266.6l0.1 0.8M388.7 127.1l-0.5 0.7M388.5 190.4l-0.1 1.4M386.9 190.2l-0.3 0.8M389.2 180.2l-0.3 1.2M380.3 257.2l-0.2 0.8M390.6 117.3l-0.4 0.7M390.8 75.8l-0.4 1.5M381.4 248.9l-0 1.1M378.9 262.2l-0.2 1.4M390.1 132l-0 0.8M388.2 109.1l-0.3 1.9M391.4 133.2l-0.1 1.5M389.3 114.1l-0.1 1.2M389.8 149.7l-0 1.8M379.8 263.5l-0.4 1.1M386.7 131.1l-0.3 0.9M392.6 128.7l0.1 1.3M386.4 79.1l-0.5 1.9M390.2 83.1l-0.4 1.1M388.4 192.6l-0.1 0.9M387.3 161.3l-0.3 0.8M387.8 183.7l0.2 1.8M388.9 135.6l0.2 1M390 112l-0.2 0.8M388.9 76.8l-0.1 1.5M387.3 196.1l-0 1.9M389.3 156.4l-0.3 0.9M389.9 140.7l-0.3 1.9M388.7 178.6l-0 1.4M387.3 85.2l-0.3 0.9M383.5 218.5l-0.3 1.8M390.5 132.7l0.1 1.8M390 127.5l-0 1.2M391.9 115.2l-0.4 1.6M392.4 132.7l-0.2 1.9M385 194.1l0.2 1.2M389.9 128.3l-0 0.8M390.6 146.4l-0 1.4M387.1 140.6l-0.2 1.6M383.6 168.6l-0.3 1.9M389.7 82.6l0.2 1.3M386.7 223.9l-0.1 1.8M385.4 213.8l0.2 1.5M388.9 149.9l-0.2 1.5M386.2 212.6l0.1 1.7M386 184.2l0.1 1.7M391.1 73l-0.3 1.5M382.1 246.2l-0.3 1.7M385.8 196.8l-0.2 1.8M388 166.8l-0.2 1.1M379.5 264.8l-0 1.1M380.3 261.5l0.1 1.8M380.1 249l0.2 1.9M389.4 118l-0.1 0.8M381.6 212.8l-0.3 1.8M390.8 92.5l-0.3 0.7M388.8 117.1l0.1 1.3M387.3 204.6l0.1 1.7M390.9 125.1l-0.1 1.5M383.1 226.9l-0.4 1.1M385.9 219.5l-0.5 1.1M386.3 73.7l-0.4 1.1M388.9 79.3l-0.4 1.2M390.9 110.9l0.1 1.8M388.8 151.2l-0 1M390 151.7l-0 1.7M383 243.5l-0.5 1.1M391.2 174.8l-0.5 1M387 163.2l-0.2 1M379.6 260.8l-0.2 1.6M389.1 151.3l0 0.9M387.9 156.1l0.1 2M387.3 122.7l-0.4 1.4M387.5 155.7l-0.4 1.8M377.9 270.3l-0.4 1.1M380.2 254.3l-0.1 0.8M384.1 148.3l0.2 1.1M391.6 113.3l-0 1M389.3 155.8l-0.1 1.4M391.6 82.8l-0.3 2M385.5 141.4l0.2 1.5M385 150.8l-0.5 1.2M391.6 87.2l0.2 1.1M389.1 97.7l-0.5 1M382.7 238.9l0.1 0.9M386.6 118.5l-0.4 1.9M383.4 237.8l-0.3 1.4M390.7 137.9l-0.4 1.9M384.7 216.1l-0.5 1.1M387.7 200.5l0 1.7M389.9 149.1l-0.2 0.7M379.4 258.5l0.1 1.5M383.1 244.1l-0.3 1.5M383.8 221l-0.3 1.6M380.4 260l0.1 1.7M388.8 99.9l-0.1 1.5M391.8 120.6l-0.2 1M388.1 200.5l-0.3 1.6M389.5 137.2l-0.3 2M388 152.8l-0.5 2M381.1 250.2l-0 1.1M389.3 144l0.1 1.3M385.4 161.9l-0.2 1.4M379.7 265.2l0.2 1.9M380.3 241.4l0.1 1.5M390.1 156.9l0.1 1.7M389.4 158.5l-0.4 0.8M387.7 90.8l0.1 1.2M388.1 85.1l-0.2 1.8M389.4 113.7l0.2 1M390.9 124.8l0.2 1.3M388.4 129.1l-0.2 1.1M388 197.4l-0 1.6M389.4 123.4l-0.1 1.6M384.3 183.4l-0.3 1.9M381.2 254.1l0.2 1.6M389.6 100.3l-0.5 1.1M386.5 156.5l0.2 1.1M391.2 69.5l-0.2 1.1M390 129.8l-0.3 1M386.1 205.5l-0.2 1.6M388.3 138.2l0.1 1M389.3 161.4l0.1 1M386.4 212l-0.3 1.7M384.7 217.4l-0.3 1.6M388.8 203.4l-0 1.2M380.7 259.7l-0.4 0.9M386.5 205.3l-0.3 0.7M391.2 103.3l-0.5 0.9M380.8 224.9l-0.1 1.2M381.3 251.4l-0.2 0.8M384.7 227.1l0.2 1.6M377.8 267.7l-0.3 1.4M391.2 101.4l0 1.5M382 243.3l-0.3 1.1M390.9 108.8l0 1.9M389.6 157.7l0.1 1.8M383 224.9l-0.1 1.2M381.7 255.3l-0.5 1.2M392.4 69.6l-0 1.8M387.8 165.8l0 1M385.2 168l0.2 1.5M392.3 83.8l-0.3 0.8M379.7 267.2l0 0.9M386.6 193.4l-0.1 1.7M391.4 114.7l-0.1 1.6M386.2 179.2l-0.5 0.9M394.3 75.7l0.1 1.3M379.6 266.2l-0.2 1.2M388.9 179.9l-0.3 1.5M387.2 203.6l-0.4 1.4M386 183.5l-0.1 1.5M388.3 185.3l0 0.9M385.6 195.6l-0.4 1.2M379.4 256.2l-0.2 2M382.2 248.6l0.1 1.4M383.6 234.4l-0.2 0.9M387.2 177.2l0.1 1.4M381.9 231.5l0.1 1.1M384.4 222.3l-0.4 1.5M386.4 171.2l0.1 0.8M384.1 167.2l-0.5 1.8M385.3 199.6l-0 1.1M384.6 120.6l-0.3 1.1M379.9 264.4l-0.2 1.3M382.2 209.3l0.1 1.5M388.9 95.7l0.1 0.9M387 189.9l-0.1 1.8M389.5 167.6l-0.1 1.9M381.8 244.5l-0.2 1.6M388.6 177.9l0.1 0.9M390.5 92.7l-0.3 1.1M385 225.5l0.1 1.2M380.4 259l0.1 1.5M388.2 128.4l0.1 0.8M392.4 104.4l-0.4 1.4M390.3 155l-0.1 0.8M389.1 160.6l-0.2 1.7M391 74.2l-0.4 1.2M389.6 127.6l-0.3 0.8M388.3 103.2l-0.4 1.6M389 73.4l-0.4 1.1M387.2 190.2l-0.2 1.8M383.4 228.5l0.1 1.5M391.4 145.9l0 1.4M383.4 219l-0.5 1.8M386.8 155.8l-0.5 1.8M388.9 205.3l-0.3 0.8M387.7 199l-0.5 1.8M392 117.5l0.1 0.8M379.5 265.2l0.1 1M388.6 137.6l-0.4 1.6M391.4 70.1l0.1 1.2M389.6 155.4l-0.4 1.3M391 85.4l-0.3 1.2M391.3 137.2l-0 1.8M389 118.5l-0.4 1M388.2 154.2l-0.2 1.9M385.3 206.6l-0.4 1.5M388.3 133.8l-0.3 0.8M385.6 194.5l0 1.8M387.2 211.6l-0.1 0.8M391.4 83.7l-0.5 0.9M378.6 271.8l-0.5 1.5M379.1 268.1l0.1 1.6M389.6 129.1l-0.5 0.7M384.9 222.2l-0.1 1.9M389 189.6l0.2 1M379.4 262.3l0 1.7M387.4 125.4l0.2 1.7M378.5 268.7l-0.3 0.8M391.7 83.2l0.1 1.1M386.3 119l0.1 1.3M387.2 190.7l-0.4 0.8M389.2 141.5l-0 1.9M388.2 190.5l-0 1.9M389.1 194l-0.1 1M385.8 207.6l0 0.8M381.2 252.3l0.1 0.9M389.3 89.7l-0.1 1.8M391.1 137.1l-0.4 1.5M391.3 116.1l-0.4 1.8M386.9 174.9l-0.5 1.1M390.4 153.7l-0.4 1.6M382.1 240.5l-0.3 1.1M389.2 104.9l-0.3 1.2M382 246.4l0.2 1.3M386.7 205.8l-0.1 1.8M385.4 209.8l0.1 1.7M389.9 138l0.1 1M381.9 252.5l-0.4 1.2M379.5 267l-0.1 2M390.4 173.3l0.1 1.9M389.3 139.2l-0.1 1.9M383.2 231.8l-0.5 1.8M391.8 69.3l-0.2 1.3M378.7 263.7l0.1 0.9M390 172.4l0 1.2M386.9 69.9l-0.3 1.1M387.8 130l-0.1 1.3M383.5 218.1l-0 1.9M387.3 121.1l-0.3 1.3M387.4 136.5l-0.5 1.4M387.1 179.3l-0.3 0.7M379 266.1l-0.1 0.8M385.9 211.9l-0.4 1.2M389.2 179.1l-0.4 1M393.8 97.2l-0.1 0.8M383.4 233.4l-0.5 1.6M390.6 156.6l-0.4 1.4M389.4 96.5l-0.4 1.8M384.2 237l0.2 1.1M380.8 259.9l-0.2 1.6M381.3 241.3l-0.4 1M385 197l-0.4 1.9M384.5 232.3l-0.4 1.7M387.6 100.2l0 1.1M386.6 98.4l-0 0.8M388.4 89l-0.4 1.5M383.4 210.8l-0.1 1.4M388.5 124.1l0.1 1.7M381.2 241.3l-0.4 1.8M379.1 268.7l0.1 1.9M389.6 148.2l-0.4 1.9M386.3 200.8l-0.5 1.6M385.6 204.6l0.1 1.2M390.7 131.2l-0.4 1.3M379.8 259.1l0.2 1.5M379.8 260l-0.1 1M392 128.3l-0.4 1.1M390.8 76.9l-0.1 0.7M388.3 143.5l-0.2 1.5M384.8 226.8l-0.1 1.9M382.7 246.9l-0.3 1.6M384.9 167.8l-0 1.6M384.7 235.1l-0 0.9M386.1 217.6l-0.3 0.7M390.1 137.9l-0.4 0.8M390.1 71.9l-0.2 0.7M384.5 221l-0.2 1.5M388.5 107.1l0.2 0.9M381.1 234.2l0 1.5M383.9 235.9l-0 1.7M388.6 125.4l-0.1 0.9M379.1 265.6l-0.4 0.9M390.4 126.2l0 0.9M386.3 132.9l0.2 1.1M387.6 189.2l-0.3 1.7M389.8 161.4l-0.3 1.3M388.4 134.1l-0.4 1.9M390.6 126.4l-0.3 0.9M387.5 151.7l-0.2 1.4M386.9 206.3l-0.3 1M385.7 196l-0.5 1.8M387 178.9l0.1 1M390.6 113l0.2 1.8M390.5 92.6l-0.3 0.8M381 253.1l-0.4 0.9M383.4 221.2l-0.1 0.7M391.2 107.6l0.2 0.8M390 161.7l-0.2 1M381.3 200.3l-0.3 1.9M388.5 117.7l0.1 1.1M385 144.4l-0.1 1.4M389 140.7l-0.4 1.7M379.7 242.4l-0.1 1M381.1 253.2l-0.2 1.3M390.8 91.8l0.2 1.9M390.8 120.8l0 0.7M391.6 74.2l-0.2 1.2M379.6 260.1l-0.4 0.7M384.6 221.1l-0.4 0.8M379.3 267.5l-0 0.9M389.5 145.7l-0 2M389 177.6l-0.2 1.4M381.6 241.7l-0.2 1.6M388.6 150.7l0 1M385 168.2l-0.1 1.6M382 232.6l-0.2 1.6M389.4 140.6l0.2 0.8M379.3 264l-0.2 1.3M390.7 150.7l0.1 1M381.7 247.9l-0.3 1.8M381.2 243.5l0.2 1.6M383 216.4l-0.5 1.3M391.5 94.4l-0 0.9M390.2 101.5l-0.1 1.9M386.3 76.9l0.1 1.3M390.7 99.2l0.1 1.9M380.9 253.6l0.2 1.6M387 203l-0.5 0.9M390 91.6l-0.1 1.2M382.4 243.8l0.1 0.9M381.2 255.1l-0.1 0.7M386.1 197l0.1 0.9M389.1 177.9l0 1.2M390.6 110.2l-0.2 1M389.6 128.4l-0.3 1.8M384.3 221.5l-0.5 1.1M385.6 175.6l-0.4 1.8M385.6 215.4l-0.4 1.1M382.6 242l-0.4 1.6M389.4 131.7l0 1.5M389 170.9l-0.3 1.9M389.1 103.5l0 0.8M385.7 213.5l-0.2 1.4M388.9 84.2l-0.5 1.2M391.6 106.7l-0.1 1.5M390 104.3l-0 1.7M386 208.7l-0.1 1.8M389 105l-0.1 1.5M388.6 164.6l-0.1 1.6M385.7 82.6l-0.2 2M386.4 197.5l-0.1 1.4M383.1 223.7l-0.3 1.3M391.9 101.4l0.2 1.3M385.9 172.8l-0.5 1.7M388 116.3l-0.4 0.8M385.3 221.8l-0.4 0.9M383.2 240.2l0 1.1M387.1 204.8l0 0.8M391 162.4l-0.5 1.3M386.7 94.3l-0 1.6M390.2 118.5l-0.2 1.7M390 139.8l-0.1 1.4M385.5 192.9l0.1 1.2M386.8 201.2l-0.2 1.1M391.3 116.7l-0.4 0.8M391.2 102.3l0 1.2M383.3 227l-0.2 1.6M389.3 132l0.2 1.5M382.5 234.8l-0.4 1.5M383.1 195.3l-0.4 1.6M391 155l-0 1.6M386 218.6l-0.4 1.5M380.8 257.8l-0.1 0.7M388 214.8l-0.5 0.7M385.8 212.5l0.1 1.2M387.6 79.7l-0.2 1.3M389.8 167.2l-0 1.8M385.9 147.7l0.2 1.4M382.4 250l-0.2 1.2M385.7 151.3l-0.1 0.9M387.6 215.4l-0 1.6M390.2 70.7l-0.3 1.1M389.6 147.8l-0.5 1.1M382.7 244.6l-0.3 1.5M387.3 160.4l-0 1.5M386.1 211.1l-0.4 1.6M388.9 171.6l-0.5 0.9" stroke="#000" stroke-width="0.7"/>
<path d="M190.9 74.1l0 0.9M189 129.5l-0.3 1.4M192.6 148.4l-0.2 1.2M191.9 137.7l-0.1 1.4M188.4 97.4l-0.2 1.8M192.7 144.9l-0.1 1.4M189 83.1l-0.1 0.9M191.4 136.6l-0.3 1M190.2 83.7l-0.3 1.2M191.4 91.7l0.2 1.3M192.3 101.4l0.1 1.6M188.4 85.5l0.1 1.5M194.2 164.6l-0.4 1.9M189.7 113.8l-0.2 1M191.4 145l-0.1 1.3M190.9 88.8l-0.1 1M192.7 126.7l0.1 1.9M191.6 119.7l0.1 1M192.3 145.8l-0.1 1.8M193.8 159.6l0.1 1.5M192.3 134.9l-0.2 1.9M193.1 144.9l0.1 1.3M194.9 167.3l0.1 1.7M193.4 158.3l-0.5 1M192.8 145.9l-0.1 1.7M190.3 135.4l-0 1.4M191.3 91.7l-0.1 1.5M190.8 95l-0.4 1.6M193.3 149.2l-0.3 1.7M194.5 160l-0 0.9M191.5 147.1l-0 1.3M190.5 98.8l-0.3 1.4M189.9 83.7l0.2 0.9M193.7 154.3l-0.5 1.8M187.6 125.8l0.1 1.1M188.4 72.9l-0 0.8M191.1 97.8l0.1 1.9M190 79l0 1.3M189 69.6l0.2 1.8M192 89.4l-0.1 1.8M190.6 93.8l-0 1M191.1 143l-0.1 1.9M190.7 121.3l-0.2 1.2M192.5 152.3l-0.2 1M194.3 162.5l-0.2 0.8M191.1 116.1l0.1 1.9M189.7 79.3l-0.4 1.1M190.1 96.7l-0.2 1.6M193.1 139.7l-0.3 1.4M191 83.1l0 1.6M190.2 82.9l-0.1 1.8M192.4 78.5l-0.1 0.8M192.2 125l0.1 0.8M194.8 164l-0.3 1.7M194.3 167.8l-0 1.6M189.6 89.9l-0.3 1.5M191.2 107.2l0.2 1.3M191.4 107.8l-0.4 1.7M187.3 81.1l-0.1 0.9M192.4 151.5l-0.4 0.8M188.7 123.6l-0 1.6M190.6 129.1l-0.5 1.5M190.4 110.8l-0 1M192.3 141.8l-0.3 1.8M195.3 166.2l0.2 1.5M191.9 151.8l-0.1 1M191 128.4l0.1 1.2M191.6 122.1l-0.2 1.5M194.7 161.3l-0.4 0.7M191.4 86.7l-0.3 1.2M194.5 167.6l0.2 1.5M193.9 160.9l-0.3 1.3M191.2 139.7l-0.3 0.9M192 82.2l-0.2 1.1M190.7 96.8l-0.3 1.1M191.8 140.6l-0.3 1.6M187.3 78.5l-0.5 1.9M189.4 96.9l-0.4 0.8M192.7 96.1l0.2 0.9M189.4 81.1l-0.1 1.7M189.4 120.3l0.2 1M190.7 109.8l0.2 1.5M190.4 93.6l-0.1 1.9M191.9 133.8l0.1 1.7M192.2 139.8l-0.5 1.8M193.5 155.6l-0.1 1.7M190.5 71.6l-0.4 1.5M192.9 157.6l0.2 1.3M189.1 89.5l-0.4 1.9M192 151.6l-0.2 1.8M193.9 131.4l-0.1 1.2M192.1 134.6l0.1 1.9M188.2 90l0 1.2M189.9 121.2l-0.4 1.7M192.3 140.6l-0.1 0.8M190.2 129l-0.2 1.1M194.3 163.5l-0.2 1.9M189.7 103.7l-0.3 1.2M190 89.9l-0.3 1.5M190 119l-0.2 1.8M192.3 131.2l0.2 1M191.3 118l-0 1.1M193.9 142.1l-0.2 1.8M189.4 70.5l-0.1 1.4M191.8 129.5l-0.4 1.1M194.4 134.6l0.1 1.6M190.4 102.6l-0.4 1.2M189.3 99.8l-0 0.9M189.5 129.4l-0.3 2M194.2 163.7l0.2 1.4M191.8 120.8l-0.3 0.9M193.3 139.3l-0.5 1.6M189.8 94l-0.2 1.6M191.7 91l0 1.7M191.5 94l-0.3 0.8M192.2 113.3l-0 1.4M194.3 165.1l-0.1 1.2M192 82.6l0.2 1.6M194.3 163.1l0.1 1.3M195.3 168.5l-0 1.9M188.8 83.9l-0.2 0.7M192.5 121.8l-0 1.1M191.7 136l-0.2 1.5M192.6 130.7l-0.4 1.9M192.7 156.3l0 0.7M191 105.6l0 1.4M190.8 118.1l-0.5 1M191 136.5l0.1 0.8M190.5 107.8l-0 1M192.7 113l-0.3 1.1M189.9 132.2l-0.1 2M194.8 167.2l-0.4 1.6M189.5 77.4l-0.1 1.3M188.8 116.1l-0.3 1.6M191.3 98.3l0 1.6M193.9 162.1l0.2 1M190 121.5l-0.2 1.1M190.7 125.3l-0.3 1.6M192.9 138.9l-0.4 1.5M191.7 125.9l-0 1.6M188.9 119.8l0.1 0.9M194.6 166.9l-0.2 1.8M194.4 163.2l-0.1 1M193 154.9l-0.5 1.8M194.9 167l0.1 1.4M189.2 87.4l-0 0.9M194.5 161.7l0 0.8M193.2 125.4l-0.1 1.9M190.5 73.2l0.1 1.6M192.9 89.1l0.1 0.8M188.9 70l0 1.4M192 136.6l-0.4 1.3M192.5 97.9l-0 1M190.1 124.7l0.2 1.4M193.5 154.9l0.2 1.4M192.1 96l-0 1.5M189.6 125.2l0.2 1.2M190.2 126.3l-0 1.5M194.2 161.9l-0.3 1.4M191.6 112l0.1 1.5M192.9 128.9l0.1 0.7M191.9 98.8l0.2 1.9M191 125l0.2 1.2M191 137.6l-0.4 1.8M195.1 169.7l-0.4 1.7M193.6 123.5l-0.3 1.8M191.9 141.7l-0 0.8M190.8 77.5l-0.4 1.8M193.4 158.3l0.2 1.1M193.1 107.8l0.1 1.1M195.2 168.4l-0.1 1.3M193.2 153.8l0.2 1.7M188.7 109.9l-0.2 1.9M189.9 107.1l-0 1.3M190.1 97.9l0 1.2M190.1 118.7l0.1 1.4M191.6 113.5l-0.1 1M193.3 136l0.1 1.4M188.2 89.4l-0.2 1.8M189.9 72l0.1 1.3M191.8 136.1l0.1 1.2M192.6 152.7l0.1 1.6M193.1 134.7l-0.1 1M192.4 122.9l-0.2 1.7M192.5 134.6l-0.4 1.6M189.4 74.6l-0.4 1.5M187.8 82.1l0.2 0.9M192.8 91.6l-0.1 1.6M193.1 136.8l-0.2 1.1M189.7 75.7l0.1 1.9M194.6 145.1l0 1.5M191 112.5l-0.5 1.6M191 116.5l-0.1 1.3M191 111.5l0 1.8M192.9 149.2l0.1 1.1M192.9 80.8l-0.4 1.5M190.2 89.6l-0.2 1.8M191.7 122.7l-0.2 1.5M189.6 133.5l-0.1 1.7M190.9 135.8l0.1 0.9M188.1 91.6l-0.4 1.9M189.7 137.5l0.1 1.5M193 151.9l-0.1 1.4M191.7 86.4l-0.5 1.7M194 163.2l-0.2 1.6M191.6 130.9l0.1 1.1M193.6 145.3l-0.2 1.4M194.7 166.9l-0.1 1M193.9 162l-0.2 1.5M191.5 144.5l0.1 1.8M190.8 139.9l0.2 1.5M190.8 134.8l0 1.5M191.7 111.7l0 1.2M190.8 90l0.2 1.8M193.2 156.8l-0.1 1.6M194.6 134.8l-0.1 1.6M194.8 169l-0.4 1.2M190.7 70.5l0.2 1.5M191 80.4l-0.3 1.6M190.3 73.6l-0.2 0.9M192.8 145.2l-0.1 1.9M188.5 83.9l-0.1 1.5M191.1 94.2l-0.3 1.2M190 104.8l-0.2 1.7M193.4 154.6l0.1 1.1M189.1 134.8l0.2 1M190.2 133.1l-0.5 0.8M191.8 88.8l-0.2 1.4M190.6 73.6l-0.5 0.7M190.6 99l0.1 0.9M195.3 168.7l-0.4 0.8M192.8 120.6l0 2M193.3 158.9l-0.2 1.4M189 90.9l0.2 1.4M190.2 75.8l-0.3 0.9M192.6 101.2l-0.3 1.9M191.9 117.9l-0.3 1M190.5 126.5l-0.1 1.1M189.6 70.7l-0.2 0.8M194.8 168.8l-0.1 1.3M189.5 107.6l-0.1 1.6M189 104.1l-0.1 1.8M190.1 108.2l-0.4 1.4M193.8 160.2l-0.1 1.7M194.3 151.9l0 1M193.1 152.6l-0 1.9M194.4 163.2l0 1.9M194 164.2l0.1 1.4M191.5 136.9l0.2 1.1M190.8 136.8l-0.1 1M192 88.1l-0.4 1.6M190.7 94.6l-0.4 0.8M193.5 151.8l0.1 1.3M190.8 90.1l-0.1 1.8M189.2 103l-0.3 0.8M193.1 126.4l-0.5 1.1M190.1 77.9l-0 1.5M192.9 139.2l-0 1.5M194.6 142.8l-0 0.9M192 81.6l-0.2 1.9M193.4 126.3l-0.5 1.4M190.2 127.7l-0 1.6M190.8 125l-0.2 1.7M190.6 103l0 2M192 137.1l-0.2 1.8M191.3 132.5l-0.5 1.7M190.2 78.9l-0 1M191.7 80.8l-0.5 1.4M192 149.2l-0.1 1.1M194.6 167.6l-0.2 1M192.2 147.7l-0.5 0.9M192.7 99.9l-0 1.7M192.7 144.5l0.2 1.3M190 73.9l0.1 0.7M193.2 121.3l0.1 1.5M194.4 122.5l-0.2 0.8M189.7 88.7l-0.3 1.7M190 120.7l0.2 1.5M188 96.8l0.2 1.4M191 91l-0.1 0.8M194.2 165.9l0.2 0.7M189.5 123.5l-0.1 1.9M189 91.3l-0.2 1.7M191.1 86l-0.4 0.8M190.4 81.3l-0.4 1.1M191.6 143.6l-0.4 1.8M191.5 131.7l-0.2 1.3M190.6 127.9l-0.1 1.9M190.2 104.5l0 0.9M191.3 127.3l-0.4 1.7M190.6 72.6l-0.1 1.4M189.8 100.7l0.2 2M191.9 141.8l0.1 1.3M194.1 158.6l-0.3 1.2M190 102.9l-0.1 1.9M191.4 113.8l-0.1 1.2M188.6 88l-0.3 1.2M189.2 84.4l-0.2 1.6M194.5 169.2l0.1 1.2M194.6 166.8l-0.1 0.9M191.3 76.2l-0.5 1.8M187.1 78.8l-0.1 1.6M191.7 90.8l-0.4 1.9M190.4 75.8l-0.1 0.8M191.3 94.8l0 1.6M191.3 100.7l-0.3 2M190 93.9l-0.3 1M193.8 162.4l-0.1 1.8M189.9 72.6l-0.1 1.6M191.3 93.4l0 1.9M191.3 135.9l-0.3 1M194.1 153.7l0.1 1.3M194.9 169.9l-0.2 1.7M192 140.3l-0.4 1M190.6 137.9l-0.3 1.7M189.9 135.7l-0.2 1.8M192 94.2l-0.2 0.8M192.1 103.3l0.1 1.6M193.8 151.6l-0.4 1.2M192.3 128.7l-0.1 0.8M188.5 85.6l-0.1 1.6M194.3 163.6l-0.1 1.1M194.8 166.5l0.1 1.5M191.8 83.6l-0.2 1.6M192.1 123.1l-0.2 1.3M190.8 126l-0.5 1.8M195.1 167.9l0.1 1.8M190.8 131.2l-0 1.5M190.4 83.3l-0.1 1.1M190.2 95.9l0 1.8M190.2 75.3l-0 1.9M192 138.9l-0.2 1.6M194.7 162.2l0.1 1.1M192.9 147.2l-0.5 1M192.1 146.8l0 1.1M191.4 99.9l-0.5 0.8M191.7 126.8l-0.5 2M190.4 100.9l0 1.9M191.4 80.3l0 0.8M192.6 144.5l-0.2 1.3M190.8 129.2l0 1.7M193.6 137.8l0.2 1M193.9 164.8l-0.2 1.7M193.4 157.6l-0 1.3M190.6 77l-0.2 1.8M190.3 125.2l-0.4 1.9M191.7 137.8l-0.5 1M193.2 130.6l-0.2 1.5M191 110l-0.1 0.8M190.6 110.9l0.1 1.2M192.1 89l-0.1 1M190.2 124.7l-0.2 1.8M191.6 90.2l0.2 2M191.5 116.4l-0.5 1.6M193.4 155.8l-0.3 0.8M191 115.1l0.2 1.1M193.1 147.2l-0.2 1.8M194.5 168.9l-0 1.1M191.3 118.3l-0.1 1.4M190.3 100.6l0 1.7M191.2 135.7l-0.4 1.6M190.6 83.3l-0.4 0.9M188 128.8l-0.2 0.8M189.5 78.1l-0.2 1.4M192 72.9l-0.1 1.4M191.5 136.5l0.1 1.3M190 86.8l-0.2 0.9M192.9 160.3l-0.3 1.3M191 101.6l-0.4 1.3M193.2 153.3l0.1 1.3M192.7 144.4l-0.2 2M191.3 87.2l-0 1.2M193.1 144.8l-0.1 2M190.1 74.8l0.2 0.7M192.2 136.3l0.1 1.7M190.7 139.7l0.1 0.8M194.2 158.7l-0.2 1.2M190.2 96.9l-0 1.4M193 130.1l-0.4 0.8M191.1 119.2l0.1 2" stroke="#000" stroke-width="0.65"/>
<path d="M198.3 462.4L198.7 462.7L199.1 463L199.4 463.4L199.8 463.7L200.2 464L200.6 464.3L201 464.6L201.4 464.9L201.8 465.2L202.2 465.5L202.6 465.7L203 466L203.4 466.3L203.9 466.5L204.3 466.8L204.7 467L205.2 467.2L205.6 467.4L206 467.6L206.5 467.9L206.9 468.1L207.4 468.3L207.9 468.4L208.3 468.6L208.8 468.8L209.3 469L209.7 469.2L210.2 469.3L210.7 469.5L211.1 469.6L211.6 469.8L212.1 470L212.5 470.1L213 470.3L213.5 470.4L214 470.5L214.4 470.7L214.9 470.8L215.4 470.9L215.9 471.1L216.3 471.2L216.8 471.3L217.3 471.4L217.8 471.5L218.3 471.7L218.7 471.8L219.2 471.9L219.7 472L220.2 472.1L220.7 472.2L221.2 472.2L221.7 472.3L222.1 472.4L222.6 472.5L223.1 472.6L223.6 472.6L224.1 472.7L224.6 472.8L225.1 472.8L225.6 472.9L226.1 473L226.6 473L227.1 473.1L227.5 473.1L228 473.2L228.5 473.2L229 473.2L229.5 473.3L230 473.3L230.5 473.3L231 473.4L231.5 473.4L232 473.4L232.5 473.4L233 473.4L233.5 473.4L234 473.4L234.5 473.4L235 473.4L235.5 473.4L236 473.4L236.5 473.3L237 473.3L237.5 473.3L237.9 473.2L238.4 473.2L238.9 473.2L239.4 473.1L239.9 473L240.4 473L240.9 472.9L241.4 472.8L241.9 472.8L242.4 472.7L242.9 472.6L243.4 472.5L243.9 472.4L244.3 472.3L244.8 472.2L245.3 472.1L245.8 472L246.3 471.9L246.8 471.8L247.3 471.7L247.8 471.6L248.3 471.4L248.7 471.3L249.2 471.2L249.7 471.1L250.2 471L250.7 470.9L251.2 470.8L251.7 470.7L252.1 470.6L252.6 470.6L253.1 470.5L253.6 470.4L254.1 470.3L254.6 470.3L255 470.2L255.5 470.2L256 470.1L256.5 470.1L257 470.1L257.5 470.1L257.9 470.1L258.4 470.1L258.9 470.1L259.4 470.2L259.9 470.2L260.4 470.2L260.9 470.3L261.3 470.3L261.8 470.4L262.3 470.5L262.8 470.6L263.3 470.7L263.8 470.7L264.2 470.8L264.7 470.9L265.2 471.1L265.7 471.2L266.2 471.3L266.7 471.4L267.1 471.5L267.6 471.6L268.1 471.8L268.6 471.9L269.1 472L269.6 472.2L270.1 472.3L270.5 472.4L271 472.6L271.5 472.7L272 472.9L272.5 473L273 473.1L273.4 473.3L273.9 473.4L274.4 473.6L274.9 473.7L275.4 473.8L275.9 474L276.4 474.1L276.8 474.2L277.3 474.3L277.8 474.4L278.3 474.6L278.8 474.7L279.3 474.8L279.7 474.9L280.2 475L280.7 475.1L281.2 475.3L281.7 475.4L282.2 475.5L282.6 475.6L283.1 475.7L283.6 475.8L284.1 475.9L284.6 476L285.1 476.1L285.5 476.2L286 476.3L286.5 476.4L287 476.5L287.5 476.6L288 476.7L288.4 476.8L288.9 476.9L289.4 477L289.9 477.1L290.4 477.2L290.8 477.4L291.3 477.5L291.8 477.6L292.3 477.7L292.8 477.8L293.2 477.9L293.7 478L294.2 478.1L294.7 478.2L295.1 478.4L295.6 478.5L296.1 478.6L296.6 478.7L297 478.8L297.5 479L298 479.1L298.5 479.2L298.9 479.3L299.4 479.5L299.9 479.6L300.4 479.7L300.8 479.9L301.3 480L301.8 480.2L302.2 480.3L302.7 480.4L303.2 480.6L303.6 480.7L304.1 480.9L304.6 481L305.1 481.2L305.5 481.3L306 481.5L306.5 481.6L306.9 481.8L307.4 481.9L307.9 482L308.4 482.2L308.8 482.3L309.3 482.5L309.8 482.6L310.3 482.8L310.7 482.9L311.2 483.1L311.7 483.2L312.2 483.4L312.6 483.5L313.1 483.6L313.6 483.8L314.1 483.9L314.5 484.1L315 484.2L315.5 484.3L316 484.5L316.5 484.6L317 484.7L317.4 484.9L317.9 485L318.4 485.1L318.9 485.2L319.4 485.4L319.9 485.5L320.4 485.6L320.8 485.7L321.3 485.8L321.8 485.9L322.3 486L322.8 486.1L323.3 486.2L323.8 486.2L324.3 486.3L324.8 486.4L325.3 486.4L325.7 486.5L326.2 486.5L326.7 486.6L327.2 486.6L327.7 486.6L328.2 486.6L328.7 486.6L329.2 486.6L329.7 486.6L330.2 486.6L330.6 486.6L331.1 486.5L331.6 486.5L332.1 486.4L332.6 486.4L333.1 486.3L333.6 486.2L334 486.2L334.5 486.1L335 486L335.5 485.9L336 485.8L336.5 485.7L337 485.5L337.4 485.4L337.9 485.3L338.4 485.2L338.9 485.1L339.4 484.9L339.9 484.8L340.3 484.7L340.8 484.5L341.3 484.4" stroke="#000" stroke-width="1.25" stroke-dasharray="7.5 3.6"/>
<path d="M341.3 484.6L341.7 484L342.1 483.7L342.5 483.9L342.9 483.2L343.3 483.5L343.7 483.2L344.1 482.1L344.5 482.8L344.9 481.6L345.3 481.6L345.7 482.3L346.1 481.6L346.5 481.7L346.9 481.5L347.3 480.1L347.7 480.8L348.1 479.7L348.5 478.9L348.9 478.6L349.3 478.3L349.7 479L350.1 478.7L350.5 478.8L350.9 477.3L351.3 478L351.7 476.5L352.1 476.2L352.5 476.7L352.9 475.6L353.3 477L353.7 474.6L354.1 473.9L354.5 475.6L354.9 475.2L355.3 472.2L355.7 472.4L356.1 472.6L356.5 470.4L356.9 471.1L357.3 472.3L357.7 471.9L358.1 468.7L358.5 468.8L358.9 468.1L359.3 469.7L359.7 466.2L360.1 470.5L360.5 464.9L360.9 466.9L361.3 467.5L361.7 468.6L362.1 465.9L362.5 467.1L362.9 464.2L363.3 461.3L363.7 462.2L364.1 463.1L364.5 461.9L364.9 463.5L365.3 460.8L365.7 458.8L366.1 459.4L366.5 458.8L366.9 453.1L367.3 455.6L367.7 457.4L368.1 458.3L368.5 454.6L368.9 457.4L369.3 454L369.7 451.8L370.1 449.5L370.5 455.6L370.9 456.5L371.3 453.5L371.7 446.1L372.1 451.9L372.5 448.5L372.9 453.6L373.3 439.9L373.7 450.2L374.1 445L374.5 450.2L374.9 445.7L375.3 435.7L375.7 445.8L376.1 442.6L376.5 437L376.9 434.2L377.3 438.2L377.7 440.4L378.1 438.3L378.5 429.1L378.9 430.7L379.3 440.1L379.7 436.9L380.1 440.1L380.5 432.9L380.9 428.9L381.3 439.5L381.7 426.4L382.1 422.2L382.5 428.1L382.9 429.1L383.3 422.8L383.7 439.2L384.1 421.4L384.5 417.6L384.9 430L385.3 415.7L385.7 418.1L386.1 420.6L386.5 415.5L386.9 425.2L387.3 408.9L387.7 422.9L388.1 405.4L388.5 418.8L388.9 431L389.3 423.9L389.7 428.8L390.1 413.6L390.5 398L390.9 404.8" stroke="#000" stroke-width="1.4"/>
<path d="M341.3 484.9L342 483.3L342.7 483.8L343.4 482.7L344.1 483.6L344.8 481.9L345.5 481.3L346.2 480.7L346.9 480.9L347.6 481.6L348.3 479.9L349 480L349.7 478.8L350.4 476.8L351.1 477.9L351.8 477.3L352.5 476.7L353.2 474.7L353.9 473.7L354.6 473.3L355.3 470.7L356 470.6L356.7 470.5L357.4 471.2L358.1 473.2L358.8 471L359.5 468.6L360.2 469.6L360.9 466.1L361.6 460.9L362.3 466.9L363 466.3L363.7 464.8L364.4 466.6L365.1 464.7L365.8 464.6L366.5 451.6L367.2 465.6L367.9 457.8L368.6 456.8L369.3 456.1L370 448.3L370.7 447.6L371.4 458.2L372.1 451.3L372.8 458.2L373.5 439.8L374.2 447.4L374.9 446.6L375.6 431.1L376.3 445L377 437.3L377.7 437.3L378.4 428.8L379.1 439.9L379.8 441.3L380.5 447.4L381.2 444.9L381.9 448.9L382.6 447.9L383.3 436.9L384 419.7L384.7 428L385.4 407.1L386.1 425.9L386.8 412L387.5 420.9L388.2 429.8L388.9 391.7L389.6 434.6L390.3 383.7L391 408.9" stroke="#000" stroke-width="0.9"/>
<path d="M341.3 484.4L341.6 484.2L341.8 484.1L342.1 483.9L342.4 483.7L342.6 483.6L342.9 483.4L343.1 483.3L343.4 483.1L343.7 482.9L343.9 482.8L344.2 482.6L344.4 482.4L344.7 482.3L345 482.1L345.2 481.9L345.5 481.8L345.7 481.6L346 481.4L346.2 481.3L346.5 481.1L346.8 480.9L347 480.7L347.3 480.6L347.5 480.4L347.8 480.2L348 480L348.3 479.8L348.5 479.7L348.8 479.5L349 479.3L349.2 479.1L349.5 478.9L349.7 478.7L350 478.5L350.2 478.3L350.4 478.1L350.7 477.9L350.9 477.7L351.1 477.5L351.4 477.3L351.6 477.1L351.8 476.9L352.1 476.7L352.3 476.5L352.5 476.3L352.7 476.1L352.9 475.9L353.2 475.7L353.4 475.4L353.6 475.2L353.8 475L354 474.8L354.3 474.6L354.5 474.4L354.7 474.1L354.9 473.9L355.1 473.7L355.3 473.5L355.5 473.2L355.7 473L355.9 472.8L356.1 472.5L356.3 472.3L356.5 472.1L356.8 471.8L357 471.6L357.2 471.4L357.4 471.1L357.6 470.9L357.8 470.7L358 470.4L358.1 470.2L358.3 469.9L358.5 469.7L358.7 469.5L358.9 469.2L359.1 469L359.3 468.7L359.5 468.5L359.7 468.3L359.9 468L360.1 467.8L360.3 467.5L360.5 467.3L360.6 467L360.8 466.8L361 466.5L361.2 466.3L361.4 466.1L361.6 465.8L361.7 465.6L361.9 465.3" stroke="#000" stroke-width="1.6" stroke-dasharray="3.2 1.2"/>
<path d="M146.6 481.6L182 526" stroke="#000" stroke-width="2.7"/>
<path d="M188.4 534.4L168.3 522.7L179 523.2L181.3 512.3Z" fill="#000" stroke="none"/>
</g>
<g fill="none" stroke="#000" stroke-width="1.7">
<rect x="74.7" y="68.4" width="523.5" height="523.3000000000001"/>
<path d="M90.1 591.7v-6M90.1 68.4v6M106 591.7v-11.5M106 68.4v11.5M121.8 591.7v-6M121.8 68.4v6M137.7 591.7v-6M137.7 68.4v6M153.6 591.7v-6M153.6 68.4v6M169.4 591.7v-11.5M169.4 68.4v11.5M185.3 591.7v-6M185.3 68.4v6M201.2 591.7v-6M201.2 68.4v6M217.1 591.7v-6M217.1 68.4v6M232.9 591.7v-11.5M232.9 68.4v11.5M248.8 591.7v-6M248.8 68.4v6M264.7 591.7v-6M264.7 68.4v6M280.6 591.7v-6M280.6 68.4v6M296.4 591.7v-11.5M296.4 68.4v11.5M312.3 591.7v-6M312.3 68.4v6M328.2 591.7v-6M328.2 68.4v6M344.1 591.7v-6M344.1 68.4v6M359.9 591.7v-11.5M359.9 68.4v11.5M375.8 591.7v-6M375.8 68.4v6M391.7 591.7v-6M391.7 68.4v6M407.6 591.7v-6M407.6 68.4v6M423.4 591.7v-11.5M423.4 68.4v11.5M439.3 591.7v-6M439.3 68.4v6M455.2 591.7v-6M455.2 68.4v6M471.1 591.7v-6M471.1 68.4v6M486.9 591.7v-11.5M486.9 68.4v11.5M502.8 591.7v-6M502.8 68.4v6M518.7 591.7v-6M518.7 68.4v6M534.6 591.7v-6M534.6 68.4v6M550.5 591.7v-11.5M550.5 68.4v11.5M566.3 591.7v-6M566.3 68.4v6M582.2 591.7v-6M582.2 68.4v6M105.9 68.4v-9.4M169.4 68.4v-9.4M201.5 68.4v-9.4M240.3 68.4v-9.4M360 68.4v-9.4M440 68.4v-9.4M550.4 68.4v-9.4M74.7 569.9h6.2M598.2 569.9h-6.4M74.7 548.1h6.2M598.2 548.1h-6.4M74.7 526.3h6.2M598.2 526.3h-6.4M74.7 504.5h11.8M598.2 504.5h-12.1M74.7 482.7h6.2M598.2 482.7h-6.4M74.7 460.9h6.2M598.2 460.9h-6.4M74.7 439.1h6.2M598.2 439.1h-6.4M74.7 417.3h11.8M598.2 417.3h-12.1M74.7 395.5h6.2M598.2 395.5h-6.4M74.7 373.7h6.2M598.2 373.7h-6.4M74.7 351.9h6.2M598.2 351.9h-6.4M74.7 330h11.8M598.2 330h-12.1M74.7 308.2h6.2M598.2 308.2h-6.4M74.7 286.4h6.2M598.2 286.4h-6.4M74.7 264.6h6.2M598.2 264.6h-6.4M74.7 242.8h11.8M598.2 242.8h-12.1M74.7 221h6.2M598.2 221h-6.4M74.7 199.2h6.2M598.2 199.2h-6.4M74.7 177.4h6.2M598.2 177.4h-6.4M74.7 155.6h11.8M598.2 155.6h-12.1M74.7 133.8h6.2M598.2 133.8h-6.4M74.7 112h6.2M598.2 112h-6.4M74.7 90.2h6.2M598.2 90.2h-6.4"/>
</g>
<g font-family="'Liberation Sans', Arial, Helvetica, sans-serif" font-size="21.5" fill="#000" stroke="#000" stroke-width="0.3" stroke-linejoin="round">
<text x="326.7" y="21" text-anchor="middle" textLength="155.5" lengthAdjust="spacingAndGlyphs" font-size="20.8">Wavelength, µm</text>
<text x="241.8" y="648.8" textLength="179.3" lengthAdjust="spacingAndGlyphs" font-size="20.8">Wavenumbers, cm</text>
<text x="421.9" y="640" textLength="8.8" lengthAdjust="spacingAndGlyphs" font-size="12.5">-1</text>
<text transform="translate(19.9 329.8) rotate(-90)" text-anchor="middle" textLength="161.5" lengthAdjust="spacingAndGlyphs" font-size="20.8">Raw absorbance</text>
<text transform="translate(107.4 54.3) scale(1.02 1)" text-anchor="middle">2.5</text>
<text transform="translate(175.5 54.3) scale(1.02 1)" text-anchor="middle">1.25</text>
<text transform="translate(240.6 54.3) scale(1.02 1)" text-anchor="middle">1</text>
<text transform="translate(358.5 54.3) scale(1.02 1)" text-anchor="middle">0.5</text>
<text transform="translate(442.3 54.3) scale(1.02 1)" text-anchor="middle">0.4</text>
<text transform="translate(553.3 54.3) scale(1.02 1)" text-anchor="middle">0.333</text>
<text transform="translate(106 621.2) scale(1.03 1)" text-anchor="middle">4000</text>
<text transform="translate(232.9 621.2) scale(1.03 1)" text-anchor="middle">12000</text>
<text transform="translate(359.9 621.2) scale(1.03 1)" text-anchor="middle">20000</text>
<text transform="translate(486.9 621.2) scale(1.03 1)" text-anchor="middle">28000</text>
<text transform="translate(67.5 76.1) scale(1.02 1)" text-anchor="end">2.4</text>
<text transform="translate(67.5 163.3) scale(1.02 1)" text-anchor="end">2</text>
<text transform="translate(67.5 250.5) scale(1.02 1)" text-anchor="end">1.6</text>
<text transform="translate(67.5 337.8) scale(1.02 1)" text-anchor="end">1.2</text>
<text transform="translate(67.5 425) scale(1.02 1)" text-anchor="end">0.8</text>
<text transform="translate(67.5 512.2) scale(1.02 1)" text-anchor="end">0.4</text>
<text transform="translate(67.5 599.4) scale(1.02 1)" text-anchor="end">0</text>
<text transform="translate(119.3 116.1) scale(1.03 1)" text-anchor="middle" font-size="24.6">6H</text>
<text x="178.2" y="303" text-anchor="middle" textLength="54.6" lengthAdjust="spacingAndGlyphs" font-size="20.8">green</text>
<text x="177.5" y="330" text-anchor="middle" textLength="122" lengthAdjust="spacingAndGlyphs">d = 1550 µm</text>
<text x="267.2" y="429.3" text-anchor="middle" textLength="59" lengthAdjust="spacingAndGlyphs" font-size="20.8">yellow</text>
<text x="267.2" y="457.6" text-anchor="middle" textLength="110.5" lengthAdjust="spacingAndGlyphs">d = 440 µm</text>
<text x="463.6" y="171.8" text-anchor="middle" textLength="70.2" lengthAdjust="spacingAndGlyphs" font-size="20.8">platelet</text>
<text x="460" y="195.8" text-anchor="middle">d =</text>
<text x="463.4" y="223.6" text-anchor="middle" textLength="79" lengthAdjust="spacingAndGlyphs">23.8 µm</text>
<text x="136.2" y="455.3" text-anchor="middle" textLength="86" lengthAdjust="spacingAndGlyphs" font-size="16.2">moissanite</text>
<text x="136.2" y="477" text-anchor="middle" textLength="90.5" lengthAdjust="spacingAndGlyphs" font-size="16.2">d = 655 µm</text>
<g font-weight="bold" fill="#9d9d9d" stroke="none" font-size="20.3">
<text x="528.6" y="547.7" text-anchor="middle" textLength="105.8" lengthAdjust="spacingAndGlyphs" font-size="21">d = 5.9 µm</text>
<text x="529.1" y="574" text-anchor="middle" textLength="76" lengthAdjust="spacingAndGlyphs">platelet</text>
</g>
</g>
</svg>
</body></html>
